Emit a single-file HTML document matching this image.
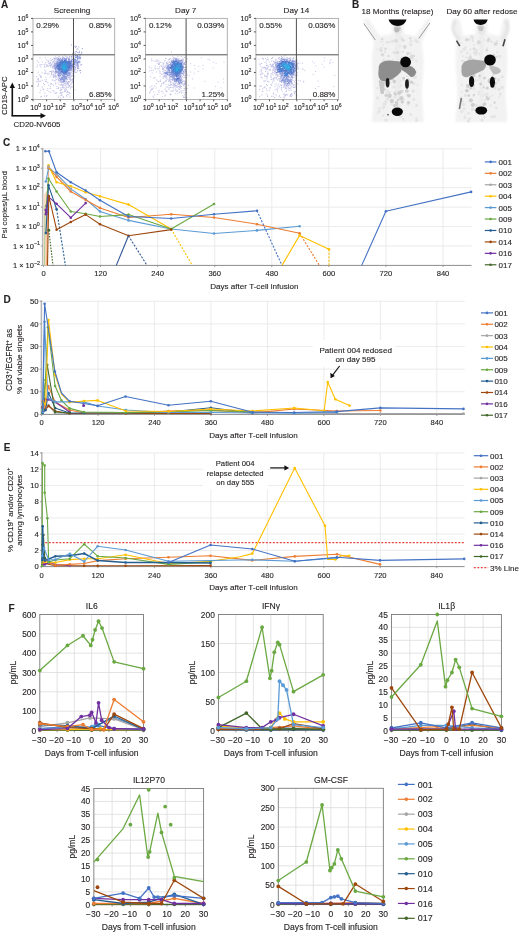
<!DOCTYPE html>
<html><head><meta charset="utf-8"><title>Figure</title>
<style>html,body{margin:0;padding:0;background:#fff;} svg{display:block; will-change:transform;} text{font-family:"Liberation Sans", sans-serif; stroke:#231f20; stroke-width:0.12px; paint-order:stroke;}</style>
</head><body>
<svg width="520" height="932" viewBox="0 0 520 932" font-family='"Liberation Sans", sans-serif'>
<defs>
<filter id="blur05" x="-50%" y="-50%" width="200%" height="200%"><feGaussianBlur stdDeviation="0.5"/></filter>
<filter id="blur1" x="-50%" y="-50%" width="200%" height="200%"><feGaussianBlur stdDeviation="1"/></filter>
<filter id="blur2" x="-20%" y="-20%" width="140%" height="140%"><feGaussianBlur stdDeviation="2"/></filter>
<clipPath id="clipC"><rect x="42" y="140" width="432" height="126"/></clipPath>
<clipPath id="clipD"><rect x="41" y="295" width="426" height="120"/></clipPath>
<clipPath id="clipE"><rect x="41" y="445" width="426" height="122"/></clipPath>
</defs>
<rect width="520" height="932" fill="#fff"/>
<text x="1.00" y="8.30" font-size="10" text-anchor="start" font-weight="bold" fill="#231f20" >A</text>
<text x="352.00" y="8.30" font-size="10" text-anchor="start" font-weight="bold" fill="#231f20" >B</text>
<text x="3.00" y="145.80" font-size="10" text-anchor="start" font-weight="bold" fill="#231f20" >C</text>
<text x="3.50" y="303.00" font-size="10" text-anchor="start" font-weight="bold" fill="#231f20" >D</text>
<text x="3.80" y="450.80" font-size="10" text-anchor="start" font-weight="bold" fill="#231f20" >E</text>
<text x="8.50" y="612.00" font-size="10" text-anchor="start" font-weight="bold" fill="#231f20" >F</text>
<path d="M67.7 69.7h1v1h-1zM59.5 63.9h1v1h-1zM66.2 62.1h1v1h-1zM66.7 65.8h1v1h-1zM63.3 70.8h1v1h-1zM58.6 68.9h1v1h-1zM57.7 65.3h1v1h-1zM68.6 64.9h1v1h-1zM59.7 62.0h1v1h-1zM61.3 68.1h1v1h-1zM63.0 72.7h1v1h-1zM67.2 65.4h1v1h-1zM59.5 64.4h1v1h-1zM67.5 65.4h1v1h-1zM69.7 63.6h1v1h-1zM67.1 61.9h1v1h-1zM67.9 64.6h1v1h-1zM67.4 62.7h1v1h-1zM66.5 63.3h1v1h-1zM58.6 66.6h1v1h-1zM60.0 67.3h1v1h-1zM60.6 63.6h1v1h-1zM64.6 59.8h1v1h-1zM69.2 63.5h1v1h-1zM67.4 67.9h1v1h-1zM66.2 61.2h1v1h-1zM68.2 63.6h1v1h-1zM58.8 66.9h1v1h-1zM57.4 66.6h1v1h-1zM58.9 64.3h1v1h-1zM62.0 60.7h1v1h-1zM69.8 62.5h1v1h-1zM67.1 61.3h1v1h-1zM67.7 68.5h1v1h-1zM64.0 61.3h1v1h-1zM62.4 71.8h1v1h-1zM58.5 68.4h1v1h-1zM63.7 72.2h1v1h-1zM67.7 64.0h1v1h-1zM68.3 64.8h1v1h-1zM62.5 61.7h1v1h-1zM58.4 64.1h1v1h-1zM66.9 63.5h1v1h-1zM67.5 61.1h1v1h-1zM63.5 61.6h1v1h-1zM63.1 71.6h1v1h-1zM56.9 65.6h1v1h-1zM59.8 69.1h1v1h-1zM67.2 66.0h1v1h-1zM58.7 64.3h1v1h-1zM60.3 66.9h1v1h-1zM59.6 65.5h1v1h-1zM68.3 62.1h1v1h-1zM66.7 66.5h1v1h-1zM57.3 64.7h1v1h-1zM59.8 67.5h1v1h-1zM69.6 61.9h1v1h-1zM58.8 64.0h1v1h-1zM57.8 64.0h1v1h-1zM56.9 64.9h1v1h-1zM57.7 67.8h1v1h-1zM64.1 61.3h1v1h-1zM57.9 67.9h1v1h-1zM68.1 66.3h1v1h-1zM61.5 61.3h1v1h-1zM66.9 63.2h1v1h-1zM69.9 63.3h1v1h-1zM63.0 61.2h1v1h-1zM58.9 66.9h1v1h-1zM67.5 65.0h1v1h-1zM63.9 61.6h1v1h-1zM69.5 65.9h1v1h-1zM63.6 62.0h1v1h-1zM69.3 64.6h1v1h-1zM69.3 62.7h1v1h-1zM69.8 63.9h1v1h-1zM60.6 70.4h1v1h-1zM59.2 68.0h1v1h-1zM67.6 63.7h1v1h-1zM69.6 65.3h1v1h-1zM67.9 62.9h1v1h-1zM64.5 61.9h1v1h-1zM58.5 67.5h1v1h-1zM65.7 70.3h1v1h-1zM67.1 69.2h1v1h-1zM57.4 63.7h1v1h-1zM67.9 61.0h1v1h-1zM68.4 66.0h1v1h-1zM67.6 69.5h1v1h-1zM64.8 70.8h1v1h-1zM68.1 64.9h1v1h-1zM60.8 61.2h1v1h-1zM60.0 68.9h1v1h-1zM63.5 70.5h1v1h-1zM66.8 62.2h1v1h-1zM69.2 61.5h1v1h-1zM60.1 62.7h1v1h-1zM68.0 62.4h1v1h-1zM59.1 66.0h1v1h-1zM59.1 69.5h1v1h-1zM62.3 71.3h1v1h-1zM65.2 60.1h1v1h-1zM59.6 67.1h1v1h-1zM66.1 71.6h1v1h-1zM61.0 63.1h1v1h-1zM67.3 63.6h1v1h-1zM62.1 60.1h1v1h-1zM68.2 61.9h1v1h-1zM66.3 62.8h1v1h-1zM61.9 70.6h1v1h-1zM64.2 71.5h1v1h-1zM65.7 72.4h1v1h-1zM62.9 71.3h1v1h-1zM68.3 65.7h1v1h-1zM68.1 67.4h1v1h-1zM59.3 66.9h1v1h-1zM58.7 62.4h1v1h-1zM65.3 60.8h1v1h-1zM61.2 69.9h1v1h-1zM65.9 62.1h1v1h-1zM66.3 61.7h1v1h-1zM64.5 61.0h1v1h-1zM68.7 61.2h1v1h-1zM59.9 62.9h1v1h-1zM65.8 71.9h1v1h-1zM65.9 61.7h1v1h-1zM66.6 69.2h1v1h-1zM58.4 65.1h1v1h-1zM60.3 66.3h1v1h-1zM66.5 70.1h1v1h-1zM58.8 65.7h1v1h-1zM58.3 65.6h1v1h-1zM66.0 61.0h1v1h-1zM60.0 64.0h1v1h-1zM61.3 71.2h1v1h-1zM57.8 67.3h1v1h-1zM59.1 68.5h1v1h-1zM63.5 62.1h1v1h-1zM64.1 72.9h1v1h-1zM59.4 62.8h1v1h-1zM67.2 67.6h1v1h-1zM67.5 62.8h1v1h-1zM60.6 61.6h1v1h-1zM66.8 70.7h1v1h-1zM59.5 63.1h1v1h-1zM61.0 68.3h1v1h-1zM60.7 63.4h1v1h-1zM66.8 65.5h1v1h-1zM63.2 62.1h1v1h-1zM66.7 63.5h1v1h-1zM57.3 64.4h1v1h-1zM66.0 61.6h1v1h-1zM59.8 65.0h1v1h-1zM60.1 65.3h1v1h-1zM65.3 61.2h1v1h-1zM67.2 71.3h1v1h-1zM59.6 61.7h1v1h-1zM59.4 64.8h1v1h-1zM67.7 67.0h1v1h-1zM56.5 66.5h1v1h-1zM67.7 63.0h1v1h-1zM62.7 60.8h1v1h-1zM58.5 66.5h1v1h-1zM63.8 72.5h1v1h-1zM70.0 65.4h1v1h-1zM67.6 68.2h1v1h-1zM59.2 69.8h1v1h-1zM66.0 69.9h1v1h-1zM61.3 68.7h1v1h-1zM66.1 69.5h1v1h-1zM61.5 62.2h1v1h-1zM60.0 66.2h1v1h-1zM61.5 70.5h1v1h-1zM61.8 69.3h1v1h-1zM64.6 59.8h1v1h-1zM59.5 63.9h1v1h-1zM61.6 68.1h1v1h-1zM58.2 66.7h1v1h-1zM61.9 60.8h1v1h-1zM60.1 71.6h1v1h-1zM58.9 66.2h1v1h-1zM67.2 69.1h1v1h-1zM62.0 71.5h1v1h-1zM67.4 63.0h1v1h-1zM69.5 66.4h1v1h-1zM69.6 61.8h1v1h-1zM67.6 66.7h1v1h-1zM60.3 62.6h1v1h-1zM60.5 67.8h1v1h-1zM61.4 63.4h1v1h-1zM58.4 64.4h1v1h-1zM66.5 70.2h1v1h-1zM57.7 63.3h1v1h-1zM66.5 69.3h1v1h-1zM58.5 67.5h1v1h-1zM62.9 61.0h1v1h-1zM58.2 68.1h1v1h-1zM63.2 61.9h1v1h-1zM67.6 61.4h1v1h-1zM65.1 71.9h1v1h-1zM63.0 60.8h1v1h-1zM62.8 61.7h1v1h-1zM61.3 63.0h1v1h-1zM66.2 61.8h1v1h-1zM59.9 64.8h1v1h-1zM63.0 61.5h1v1h-1zM69.2 61.2h1v1h-1zM69.2 61.3h1v1h-1zM63.3 70.8h1v1h-1zM57.4 67.3h1v1h-1zM62.2 60.9h1v1h-1zM65.9 70.8h1v1h-1zM68.4 63.3h1v1h-1zM61.1 70.3h1v1h-1zM62.2 60.6h1v1h-1zM67.8 66.2h1v1h-1zM60.1 63.2h1v1h-1zM60.5 71.3h1v1h-1zM59.5 65.6h1v1h-1zM58.9 65.1h1v1h-1zM66.2 70.8h1v1h-1zM65.6 61.5h1v1h-1zM59.6 63.5h1v1h-1zM57.5 67.1h1v1h-1zM58.3 66.7h1v1h-1zM61.6 60.7h1v1h-1zM61.4 61.4h1v1h-1zM68.3 61.4h1v1h-1zM60.4 64.2h1v1h-1zM65.7 71.5h1v1h-1zM66.0 61.1h1v1h-1zM69.5 63.5h1v1h-1zM61.2 63.2h1v1h-1zM62.5 60.5h1v1h-1zM63.7 61.0h1v1h-1zM66.4 71.2h1v1h-1zM64.3 60.1h1v1h-1zM62.1 61.0h1v1h-1zM67.9 61.1h1v1h-1zM66.4 61.3h1v1h-1zM57.9 65.9h1v1h-1zM59.1 67.9h1v1h-1zM62.1 61.9h1v1h-1zM60.2 64.8h1v1h-1zM69.3 67.1h1v1h-1zM69.1 64.5h1v1h-1zM69.2 62.2h1v1h-1zM66.4 69.8h1v1h-1zM62.9 62.0h1v1h-1zM65.7 70.2h1v1h-1zM66.4 60.8h1v1h-1zM61.8 70.1h1v1h-1zM57.6 65.0h1v1h-1zM57.2 65.7h1v1h-1zM64.4 61.7h1v1h-1zM65.4 60.4h1v1h-1zM60.2 65.1h1v1h-1zM66.0 71.6h1v1h-1zM69.6 66.9h1v1h-1zM65.8 70.7h1v1h-1zM67.0 62.1h1v1h-1zM66.0 72.4h1v1h-1zM67.2 70.4h1v1h-1zM64.6 72.2h1v1h-1zM67.8 64.6h1v1h-1zM70.8 65.2h1v1h-1zM67.3 69.1h1v1h-1zM60.4 70.1h1v1h-1zM66.0 60.6h1v1h-1zM68.5 62.7h1v1h-1zM65.2 72.5h1v1h-1zM61.9 61.2h1v1h-1zM63.1 61.5h1v1h-1zM64.2 72.8h1v1h-1zM58.5 68.1h1v1h-1zM58.2 68.1h1v1h-1zM63.5 71.3h1v1h-1zM59.5 62.2h1v1h-1zM63.4 61.5h1v1h-1zM64.6 72.3h1v1h-1zM61.0 69.2h1v1h-1zM67.5 64.6h1v1h-1zM62.6 72.2h1v1h-1zM58.5 65.3h1v1h-1zM69.0 62.3h1v1h-1zM59.0 68.9h1v1h-1zM57.1 66.1h1v1h-1zM61.3 68.8h1v1h-1zM66.6 71.1h1v1h-1zM59.0 69.2h1v1h-1zM61.5 68.9h1v1h-1zM65.2 71.3h1v1h-1zM58.5 63.7h1v1h-1zM68.8 63.1h1v1h-1zM68.3 65.6h1v1h-1zM60.8 63.3h1v1h-1zM65.8 69.9h1v1h-1zM68.2 63.2h1v1h-1zM63.3 72.2h1v1h-1zM64.7 72.8h1v1h-1zM66.1 62.0h1v1h-1zM69.3 63.5h1v1h-1zM62.9 71.3h1v1h-1zM61.6 62.6h1v1h-1zM68.5 68.0h1v1h-1zM60.3 61.6h1v1h-1zM59.2 63.6h1v1h-1zM63.1 70.5h1v1h-1zM66.7 63.8h1v1h-1zM60.2 67.4h1v1h-1zM60.8 61.7h1v1h-1zM64.0 60.1h1v1h-1zM61.5 70.5h1v1h-1zM68.1 66.5h1v1h-1zM69.5 67.1h1v1h-1zM67.0 70.8h1v1h-1zM70.3 64.9h1v1h-1zM60.9 62.0h1v1h-1zM60.9 63.6h1v1h-1zM64.6 71.7h1v1h-1zM66.4 71.2h1v1h-1zM59.9 62.7h1v1h-1zM61.1 71.1h1v1h-1zM67.0 66.9h1v1h-1zM58.1 68.9h1v1h-1zM69.1 64.8h1v1h-1zM61.2 67.4h1v1h-1zM67.9 67.3h1v1h-1zM65.7 61.3h1v1h-1zM57.3 63.6h1v1h-1zM69.5 65.1h1v1h-1zM67.6 63.2h1v1h-1zM60.2 69.0h1v1h-1zM64.6 61.7h1v1h-1zM64.9 61.5h1v1h-1zM60.5 61.1h1v1h-1zM65.2 71.2h1v1h-1zM62.0 70.7h1v1h-1zM59.5 64.5h1v1h-1zM60.6 60.7h1v1h-1zM57.7 64.1h1v1h-1zM67.0 63.8h1v1h-1zM68.8 66.4h1v1h-1zM61.0 62.8h1v1h-1zM67.6 65.2h1v1h-1zM61.4 68.9h1v1h-1zM64.1 70.9h1v1h-1zM58.7 64.7h1v1h-1zM60.9 70.2h1v1h-1zM59.8 67.2h1v1h-1zM60.6 68.1h1v1h-1zM57.7 67.7h1v1h-1zM58.7 64.1h1v1h-1zM63.1 71.4h1v1h-1zM59.8 64.3h1v1h-1zM62.2 60.9h1v1h-1zM60.1 71.4h1v1h-1zM63.3 61.9h1v1h-1zM65.0 71.9h1v1h-1zM69.1 66.3h1v1h-1zM60.9 69.7h1v1h-1zM67.9 66.6h1v1h-1zM61.6 69.1h1v1h-1zM65.5 70.9h1v1h-1zM59.5 68.4h1v1h-1zM64.3 60.4h1v1h-1zM68.3 64.6h1v1h-1zM56.7 66.2h1v1h-1zM60.8 67.8h1v1h-1zM67.8 62.5h1v1h-1z" fill="#3a66c4" fill-opacity="0.85"/>
<path d="M62.5 64.7h1v1h-1zM62.4 67.9h1v1h-1zM61.4 64.1h1v1h-1zM66.7 67.2h1v1h-1zM62.5 64.9h1v1h-1zM61.1 65.4h1v1h-1zM65.3 67.5h1v1h-1zM62.1 66.0h1v1h-1zM62.0 67.7h1v1h-1zM66.0 68.1h1v1h-1zM66.4 64.8h1v1h-1zM62.4 68.2h1v1h-1zM62.8 64.5h1v1h-1zM65.6 66.5h1v1h-1zM61.5 64.1h1v1h-1zM66.1 64.2h1v1h-1zM65.9 66.4h1v1h-1zM65.9 67.4h1v1h-1zM62.1 66.0h1v1h-1zM61.6 63.7h1v1h-1zM61.6 67.8h1v1h-1zM65.8 65.4h1v1h-1zM63.3 69.8h1v1h-1zM65.9 66.3h1v1h-1zM66.2 67.1h1v1h-1zM64.8 70.4h1v1h-1zM62.2 69.2h1v1h-1zM65.2 62.0h1v1h-1zM66.3 64.4h1v1h-1zM64.3 69.5h1v1h-1zM64.2 63.1h1v1h-1zM63.1 68.7h1v1h-1zM65.2 62.3h1v1h-1zM62.6 69.8h1v1h-1zM64.7 69.0h1v1h-1zM65.0 63.0h1v1h-1zM62.5 68.8h1v1h-1zM66.2 64.1h1v1h-1zM63.9 62.3h1v1h-1zM63.4 69.8h1v1h-1zM66.6 65.4h1v1h-1zM62.1 64.9h1v1h-1zM65.3 61.9h1v1h-1zM61.8 67.1h1v1h-1zM66.0 65.1h1v1h-1zM63.9 62.0h1v1h-1zM63.0 65.2h1v1h-1zM65.0 62.5h1v1h-1zM62.6 63.5h1v1h-1zM61.9 64.2h1v1h-1zM65.3 63.7h1v1h-1zM65.9 64.3h1v1h-1zM62.6 68.1h1v1h-1zM65.3 70.4h1v1h-1zM64.0 62.7h1v1h-1zM63.7 69.2h1v1h-1zM65.9 66.2h1v1h-1zM62.2 68.0h1v1h-1zM62.3 69.0h1v1h-1zM66.0 63.6h1v1h-1zM62.9 62.8h1v1h-1zM63.4 62.3h1v1h-1zM64.7 62.0h1v1h-1zM61.2 65.6h1v1h-1zM61.0 65.1h1v1h-1zM61.8 65.4h1v1h-1zM61.5 66.1h1v1h-1zM65.1 63.9h1v1h-1zM65.5 70.4h1v1h-1zM66.4 67.2h1v1h-1zM66.1 68.3h1v1h-1zM62.5 68.9h1v1h-1zM64.8 69.8h1v1h-1zM66.0 62.4h1v1h-1zM65.8 69.1h1v1h-1zM64.1 64.5h1v1h-1zM65.8 66.7h1v1h-1zM66.3 68.4h1v1h-1zM63.9 62.8h1v1h-1zM61.7 64.0h1v1h-1zM61.9 62.8h1v1h-1zM64.1 69.8h1v1h-1zM65.4 64.6h1v1h-1zM65.7 63.3h1v1h-1zM61.8 67.0h1v1h-1zM63.2 64.7h1v1h-1zM61.2 66.3h1v1h-1zM64.1 69.6h1v1h-1zM62.2 64.0h1v1h-1zM64.6 64.1h1v1h-1zM66.1 62.4h1v1h-1zM65.6 69.8h1v1h-1zM61.0 63.9h1v1h-1zM66.0 65.1h1v1h-1zM63.5 65.2h1v1h-1zM61.8 66.6h1v1h-1zM62.3 68.5h1v1h-1zM65.3 68.8h1v1h-1zM62.5 68.2h1v1h-1zM61.4 65.1h1v1h-1zM64.0 63.9h1v1h-1zM66.5 65.2h1v1h-1zM61.0 64.0h1v1h-1zM63.1 65.0h1v1h-1zM66.0 66.2h1v1h-1zM64.0 63.0h1v1h-1zM63.9 63.0h1v1h-1zM65.6 63.7h1v1h-1zM61.3 65.2h1v1h-1zM61.4 63.8h1v1h-1zM64.4 64.7h1v1h-1zM61.8 65.6h1v1h-1zM61.2 65.9h1v1h-1zM64.4 70.4h1v1h-1zM65.1 64.1h1v1h-1zM65.0 65.3h1v1h-1zM66.1 65.8h1v1h-1zM61.6 66.1h1v1h-1zM64.0 64.8h1v1h-1zM61.7 62.7h1v1h-1zM65.4 70.0h1v1h-1zM62.4 64.2h1v1h-1zM63.6 65.0h1v1h-1zM65.2 62.7h1v1h-1zM61.4 65.4h1v1h-1zM65.5 65.9h1v1h-1zM64.5 70.3h1v1h-1zM61.3 63.9h1v1h-1zM61.8 64.3h1v1h-1zM63.7 62.2h1v1h-1zM61.7 64.6h1v1h-1zM65.3 68.8h1v1h-1zM66.2 67.0h1v1h-1zM63.8 62.4h1v1h-1zM64.0 70.5h1v1h-1zM63.9 69.2h1v1h-1zM65.7 67.0h1v1h-1zM65.4 69.2h1v1h-1zM66.0 65.6h1v1h-1zM63.3 63.7h1v1h-1zM65.4 64.6h1v1h-1zM62.6 64.3h1v1h-1zM62.5 68.7h1v1h-1zM61.8 65.6h1v1h-1zM64.0 63.6h1v1h-1zM64.8 63.0h1v1h-1zM65.6 64.7h1v1h-1zM65.5 68.8h1v1h-1zM65.8 68.3h1v1h-1zM65.9 66.3h1v1h-1zM65.0 69.1h1v1h-1zM65.4 62.2h1v1h-1zM62.8 69.7h1v1h-1zM64.2 64.5h1v1h-1zM64.8 62.5h1v1h-1zM63.8 63.9h1v1h-1zM66.1 68.6h1v1h-1zM62.0 62.5h1v1h-1zM62.5 68.5h1v1h-1zM66.0 64.5h1v1h-1zM64.4 70.5h1v1h-1zM64.2 62.2h1v1h-1zM62.3 68.9h1v1h-1zM66.0 63.4h1v1h-1zM65.3 63.0h1v1h-1zM61.6 64.5h1v1h-1zM64.1 61.8h1v1h-1zM61.6 68.3h1v1h-1zM65.9 62.6h1v1h-1zM64.7 70.4h1v1h-1zM61.5 65.7h1v1h-1zM65.4 62.4h1v1h-1zM63.3 64.0h1v1h-1zM62.6 62.6h1v1h-1zM66.2 66.1h1v1h-1zM60.8 64.9h1v1h-1zM61.9 63.8h1v1h-1zM63.4 64.5h1v1h-1zM61.9 62.0h1v1h-1zM64.8 69.1h1v1h-1zM65.4 69.9h1v1h-1zM65.3 64.5h1v1h-1zM64.1 62.6h1v1h-1zM66.3 65.9h1v1h-1zM61.8 63.6h1v1h-1zM66.3 67.0h1v1h-1z" fill="#3585d4" fill-opacity="0.9"/>
<path d="M56.0 57.5h1v1h-1zM45.6 76.7h1v1h-1zM66.6 84.2h1v1h-1zM54.1 72.2h1v1h-1zM54.5 68.3h1v1h-1zM46.7 64.9h1v1h-1zM61.5 94.8h1v1h-1zM48.1 84.8h1v1h-1zM53.5 63.6h1v1h-1zM70.4 79.8h1v1h-1zM72.1 75.2h1v1h-1zM39.1 74.5h1v1h-1zM46.7 73.1h1v1h-1zM72.4 57.8h1v1h-1zM53.4 60.6h1v1h-1zM72.8 80.8h1v1h-1zM64.0 82.5h1v1h-1zM72.5 74.5h1v1h-1zM56.8 58.5h1v1h-1zM58.2 77.1h1v1h-1zM69.6 81.0h1v1h-1zM66.2 87.1h1v1h-1zM70.4 74.5h1v1h-1zM47.6 60.3h1v1h-1zM66.5 82.8h1v1h-1zM49.1 63.2h1v1h-1zM52.0 66.5h1v1h-1zM72.7 57.4h1v1h-1zM69.6 76.9h1v1h-1zM66.4 96.3h1v1h-1zM69.9 72.4h1v1h-1zM71.5 82.7h1v1h-1zM53.9 61.7h1v1h-1zM60.4 81.0h1v1h-1zM49.2 65.0h1v1h-1zM57.7 75.6h1v1h-1zM68.8 57.2h1v1h-1zM58.6 55.9h1v1h-1zM50.5 64.9h1v1h-1zM62.5 84.3h1v1h-1zM69.9 75.4h1v1h-1zM55.5 75.0h1v1h-1zM65.3 90.6h1v1h-1zM54.6 68.3h1v1h-1zM71.3 75.9h1v1h-1zM71.3 86.7h1v1h-1zM50.6 74.4h1v1h-1zM55.4 71.7h1v1h-1zM62.1 91.8h1v1h-1zM67.3 82.1h1v1h-1zM72.3 78.7h1v1h-1zM70.8 79.3h1v1h-1zM73.8 67.7h1v1h-1zM62.6 84.3h1v1h-1zM55.1 61.1h1v1h-1zM55.6 70.6h1v1h-1zM44.3 67.1h1v1h-1zM68.8 92.2h1v1h-1zM54.3 80.3h1v1h-1zM60.9 92.7h1v1h-1zM44.8 57.2h1v1h-1zM64.6 82.1h1v1h-1zM41.7 72.2h1v1h-1zM70.1 86.4h1v1h-1zM72.0 69.5h1v1h-1zM40.8 96.0h1v1h-1zM49.6 76.5h1v1h-1zM60.5 95.1h1v1h-1zM72.8 71.9h1v1h-1zM43.1 89.3h1v1h-1zM73.3 63.7h1v1h-1zM46.2 59.3h1v1h-1zM54.8 57.9h1v1h-1zM62.8 84.5h1v1h-1zM40.0 75.6h1v1h-1zM50.4 91.9h1v1h-1zM59.1 77.2h1v1h-1zM40.1 80.7h1v1h-1zM55.6 71.7h1v1h-1zM52.4 90.0h1v1h-1zM54.5 72.0h1v1h-1zM40.2 76.3h1v1h-1zM59.9 90.2h1v1h-1zM66.8 57.5h1v1h-1zM62.3 56.0h1v1h-1zM51.1 64.2h1v1h-1zM56.0 61.3h1v1h-1zM63.0 57.6h1v1h-1zM71.1 75.5h1v1h-1zM68.4 94.4h1v1h-1zM73.7 63.2h1v1h-1zM46.6 89.8h1v1h-1zM53.5 64.7h1v1h-1zM42.5 88.5h1v1h-1zM63.1 97.1h1v1h-1zM52.7 74.7h1v1h-1zM46.0 65.8h1v1h-1zM45.4 62.0h1v1h-1zM57.8 58.3h1v1h-1zM37.7 78.0h1v1h-1zM69.6 76.5h1v1h-1zM41.5 64.1h1v1h-1zM50.5 66.4h1v1h-1zM65.9 81.2h1v1h-1zM73.0 67.4h1v1h-1zM49.3 70.9h1v1h-1zM44.4 92.5h1v1h-1zM70.8 71.9h1v1h-1zM58.1 80.1h1v1h-1zM72.4 73.0h1v1h-1zM49.3 61.7h1v1h-1zM56.3 57.5h1v1h-1zM70.7 57.9h1v1h-1zM40.1 64.4h1v1h-1zM60.6 84.8h1v1h-1zM36.2 76.3h1v1h-1zM52.8 76.1h1v1h-1zM55.7 71.6h1v1h-1zM37.0 64.4h1v1h-1zM49.1 64.8h1v1h-1zM51.0 72.4h1v1h-1zM52.6 79.7h1v1h-1zM51.6 71.7h1v1h-1zM43.1 83.1h1v1h-1zM60.6 81.0h1v1h-1zM37.5 78.5h1v1h-1zM44.1 84.3h1v1h-1zM49.7 58.2h1v1h-1zM51.0 71.2h1v1h-1zM62.3 82.1h1v1h-1zM51.5 70.5h1v1h-1zM58.0 88.0h1v1h-1zM71.7 80.4h1v1h-1zM59.0 77.6h1v1h-1zM55.7 76.0h1v1h-1zM37.3 85.7h1v1h-1zM53.0 76.9h1v1h-1zM65.4 83.1h1v1h-1zM48.3 63.1h1v1h-1zM61.3 88.8h1v1h-1zM52.3 58.9h1v1h-1zM62.2 56.2h1v1h-1zM53.5 57.9h1v1h-1zM59.6 81.5h1v1h-1zM65.8 85.9h1v1h-1zM38.1 79.5h1v1h-1zM73.9 75.6h1v1h-1zM39.4 92.1h1v1h-1zM45.8 96.0h1v1h-1zM54.8 58.3h1v1h-1zM68.9 85.7h1v1h-1zM51.2 73.7h1v1h-1zM66.3 79.4h1v1h-1zM61.5 84.1h1v1h-1zM68.1 80.9h1v1h-1zM57.9 78.4h1v1h-1zM66.4 86.9h1v1h-1zM45.0 81.1h1v1h-1zM69.8 72.5h1v1h-1zM64.9 85.0h1v1h-1zM70.2 77.6h1v1h-1zM50.4 60.2h1v1h-1zM55.4 72.8h1v1h-1zM77.5 67.5h1v1h-1zM55.2 83.4h1v1h-1zM71.1 58.5h1v1h-1zM45.9 79.3h1v1h-1zM70.3 73.0h1v1h-1zM68.3 57.8h1v1h-1zM38.2 61.8h1v1h-1zM70.2 71.9h1v1h-1zM69.5 92.9h1v1h-1zM68.5 82.0h1v1h-1zM53.3 76.2h1v1h-1zM67.9 76.4h1v1h-1zM40.4 96.6h1v1h-1zM61.2 94.5h1v1h-1zM44.4 79.6h1v1h-1zM60.2 87.4h1v1h-1zM55.0 56.4h1v1h-1zM54.4 92.2h1v1h-1zM72.2 81.1h1v1h-1zM55.1 77.2h1v1h-1zM44.6 63.4h1v1h-1zM49.8 65.5h1v1h-1zM41.7 79.7h1v1h-1zM68.3 87.0h1v1h-1zM51.0 73.3h1v1h-1zM67.0 93.9h1v1h-1zM66.0 94.9h1v1h-1zM63.5 84.5h1v1h-1zM45.2 72.8h1v1h-1zM54.3 58.9h1v1h-1zM59.2 77.9h1v1h-1zM54.3 67.8h1v1h-1zM47.4 88.0h1v1h-1zM72.3 68.3h1v1h-1zM57.5 74.5h1v1h-1zM63.2 82.5h1v1h-1zM47.8 61.3h1v1h-1zM54.8 74.2h1v1h-1zM70.4 74.9h1v1h-1zM69.8 56.6h1v1h-1zM52.2 62.3h1v1h-1zM47.3 82.0h1v1h-1zM62.1 85.8h1v1h-1zM50.2 71.1h1v1h-1zM58.5 95.8h1v1h-1zM72.0 61.3h1v1h-1zM54.5 58.4h1v1h-1zM67.1 78.9h1v1h-1zM67.5 81.3h1v1h-1zM44.0 95.5h1v1h-1zM40.7 77.2h1v1h-1zM58.4 77.0h1v1h-1zM68.5 81.5h1v1h-1zM61.7 81.6h1v1h-1zM60.8 83.7h1v1h-1zM71.4 70.9h1v1h-1zM62.7 86.6h1v1h-1zM70.6 78.8h1v1h-1zM63.9 84.6h1v1h-1zM53.8 76.3h1v1h-1zM69.7 74.7h1v1h-1zM60.9 82.0h1v1h-1zM42.5 88.5h1v1h-1zM51.5 58.8h1v1h-1zM66.6 82.3h1v1h-1zM39.5 57.5h1v1h-1zM68.7 57.8h1v1h-1zM51.9 67.6h1v1h-1zM69.4 96.4h1v1h-1zM59.9 89.6h1v1h-1zM53.5 60.3h1v1h-1zM52.9 70.5h1v1h-1zM57.4 57.0h1v1h-1zM69.0 85.0h1v1h-1zM60.0 92.2h1v1h-1zM71.6 86.2h1v1h-1zM66.4 84.0h1v1h-1zM60.6 80.8h1v1h-1zM43.8 64.2h1v1h-1zM37.3 79.2h1v1h-1zM66.4 56.6h1v1h-1zM54.9 72.9h1v1h-1zM53.5 74.4h1v1h-1zM49.8 88.1h1v1h-1zM69.8 73.6h1v1h-1zM67.2 56.8h1v1h-1zM44.2 69.4h1v1h-1zM57.8 97.0h1v1h-1zM59.7 79.8h1v1h-1zM50.8 63.8h1v1h-1zM54.6 75.4h1v1h-1zM61.7 87.0h1v1h-1zM53.5 67.4h1v1h-1zM56.1 91.9h1v1h-1zM50.1 62.0h1v1h-1zM55.3 82.3h1v1h-1zM69.8 79.8h1v1h-1zM47.5 74.0h1v1h-1zM60.3 97.3h1v1h-1zM48.0 60.9h1v1h-1zM41.8 86.5h1v1h-1zM72.9 62.6h1v1h-1zM69.1 77.8h1v1h-1zM40.6 76.1h1v1h-1zM68.4 85.0h1v1h-1zM73.1 63.0h1v1h-1zM52.9 71.0h1v1h-1zM72.8 74.2h1v1h-1zM36.2 81.1h1v1h-1zM45.8 81.3h1v1h-1zM37.9 84.7h1v1h-1zM60.3 81.1h1v1h-1zM58.5 79.9h1v1h-1zM56.4 77.6h1v1h-1zM37.7 71.7h1v1h-1zM63.1 57.1h1v1h-1zM57.8 58.5h1v1h-1zM52.9 73.8h1v1h-1zM60.6 81.7h1v1h-1zM47.7 66.0h1v1h-1zM59.5 80.4h1v1h-1zM67.5 92.2h1v1h-1zM67.0 91.5h1v1h-1zM54.7 71.6h1v1h-1zM67.2 90.7h1v1h-1zM52.7 71.0h1v1h-1zM61.8 57.5h1v1h-1zM45.2 70.7h1v1h-1zM38.8 80.7h1v1h-1zM58.0 75.9h1v1h-1zM70.0 88.2h1v1h-1zM63.9 91.0h1v1h-1zM72.0 79.3h1v1h-1zM48.5 90.9h1v1h-1zM70.2 84.5h1v1h-1zM77.4 58.3h1v1h-1zM54.6 76.1h1v1h-1zM65.7 91.6h1v1h-1zM54.0 58.4h1v1h-1zM68.0 82.6h1v1h-1zM68.9 57.7h1v1h-1zM40.5 76.5h1v1h-1zM55.4 92.9h1v1h-1zM56.2 79.0h1v1h-1zM62.0 57.6h1v1h-1zM37.6 81.6h1v1h-1zM55.1 79.5h1v1h-1zM62.0 86.9h1v1h-1zM68.9 56.1h1v1h-1zM64.8 90.5h1v1h-1zM40.5 96.2h1v1h-1zM64.2 89.2h1v1h-1zM58.8 58.3h1v1h-1zM69.2 76.0h1v1h-1zM54.1 62.7h1v1h-1zM53.5 57.6h1v1h-1zM65.6 80.9h1v1h-1zM50.0 65.1h1v1h-1zM59.6 93.1h1v1h-1zM52.3 64.8h1v1h-1zM67.0 83.1h1v1h-1zM55.8 71.5h1v1h-1zM70.5 83.6h1v1h-1zM50.0 83.4h1v1h-1zM54.2 71.9h1v1h-1zM67.9 77.2h1v1h-1zM73.1 62.2h1v1h-1zM62.9 87.4h1v1h-1zM61.0 89.4h1v1h-1zM56.4 88.1h1v1h-1zM56.1 61.2h1v1h-1zM66.0 81.1h1v1h-1zM73.1 63.6h1v1h-1zM46.3 64.3h1v1h-1zM53.4 90.7h1v1h-1zM54.6 58.0h1v1h-1zM57.6 75.0h1v1h-1zM46.2 65.9h1v1h-1zM57.8 82.4h1v1h-1zM60.5 84.7h1v1h-1zM56.4 86.0h1v1h-1zM62.0 81.7h1v1h-1zM56.5 77.5h1v1h-1zM52.8 71.3h1v1h-1zM67.9 84.3h1v1h-1zM55.3 75.7h1v1h-1zM64.7 90.0h1v1h-1zM71.5 81.7h1v1h-1zM48.7 63.1h1v1h-1zM66.3 88.7h1v1h-1zM69.2 77.3h1v1h-1zM74.4 89.3h1v1h-1zM65.4 81.0h1v1h-1zM71.5 85.9h1v1h-1zM66.9 77.6h1v1h-1zM51.7 79.6h1v1h-1zM73.8 66.0h1v1h-1zM58.6 84.3h1v1h-1zM67.7 58.3h1v1h-1zM72.9 70.2h1v1h-1zM50.8 60.1h1v1h-1zM51.9 62.4h1v1h-1zM68.8 78.4h1v1h-1zM55.0 58.4h1v1h-1zM68.7 77.0h1v1h-1zM44.8 72.2h1v1h-1zM67.0 57.4h1v1h-1zM58.8 56.2h1v1h-1zM71.4 55.9h1v1h-1zM53.4 61.3h1v1h-1zM73.5 77.3h1v1h-1zM67.7 83.5h1v1h-1zM65.7 56.1h1v1h-1zM52.7 66.0h1v1h-1zM52.6 61.2h1v1h-1zM64.3 89.0h1v1h-1zM68.3 85.7h1v1h-1zM60.0 57.4h1v1h-1zM53.1 85.3h1v1h-1zM61.2 94.7h1v1h-1zM71.3 56.6h1v1h-1zM71.5 69.5h1v1h-1zM62.0 84.9h1v1h-1zM52.2 62.3h1v1h-1zM62.6 96.1h1v1h-1zM36.5 66.6h1v1h-1zM56.0 58.3h1v1h-1zM57.9 79.6h1v1h-1zM72.0 78.3h1v1h-1zM50.8 83.0h1v1h-1zM50.0 85.9h1v1h-1zM38.0 83.5h1v1h-1zM53.2 66.7h1v1h-1zM70.8 71.9h1v1h-1zM58.2 87.0h1v1h-1zM39.2 64.8h1v1h-1zM51.5 84.1h1v1h-1zM44.0 65.7h1v1h-1zM48.4 72.8h1v1h-1zM50.3 63.2h1v1h-1zM41.8 61.5h1v1h-1zM48.0 60.7h1v1h-1zM53.4 68.6h1v1h-1zM61.5 91.7h1v1h-1zM46.4 95.1h1v1h-1zM73.5 71.0h1v1h-1zM72.9 63.0h1v1h-1zM47.4 64.7h1v1h-1zM64.2 54.6h1v1h-1zM72.5 68.9h1v1h-1zM55.3 58.3h1v1h-1zM68.8 91.8h1v1h-1zM64.8 83.2h1v1h-1zM44.0 72.9h1v1h-1zM60.4 83.8h1v1h-1zM66.4 79.4h1v1h-1zM54.2 59.8h1v1h-1zM53.5 74.2h1v1h-1zM36.7 60.6h1v1h-1zM73.4 62.0h1v1h-1zM57.6 57.9h1v1h-1zM65.3 88.2h1v1h-1zM68.9 81.0h1v1h-1zM61.6 57.5h1v1h-1zM49.6 64.8h1v1h-1zM63.0 81.5h1v1h-1zM69.7 79.1h1v1h-1zM72.4 61.2h1v1h-1zM73.4 60.7h1v1h-1zM40.5 66.6h1v1h-1zM66.2 79.1h1v1h-1zM40.1 89.7h1v1h-1zM65.4 56.0h1v1h-1zM72.7 58.1h1v1h-1zM68.7 58.5h1v1h-1zM64.1 87.3h1v1h-1z" fill="#8482d0" fill-opacity="0.5"/>
<path d="M61.0 78.5h1v1h-1zM57.1 68.3h1v1h-1zM68.8 73.1h1v1h-1zM71.1 67.4h1v1h-1zM68.7 59.4h1v1h-1zM58.5 74.9h1v1h-1zM69.6 66.9h1v1h-1zM72.6 65.2h1v1h-1zM64.6 59.7h1v1h-1zM62.9 80.2h1v1h-1zM64.8 76.3h1v1h-1zM70.4 63.7h1v1h-1zM59.4 73.0h1v1h-1zM60.8 73.6h1v1h-1zM59.3 78.3h1v1h-1zM72.4 66.6h1v1h-1zM71.5 62.8h1v1h-1zM62.4 58.8h1v1h-1zM72.1 66.1h1v1h-1zM64.0 79.5h1v1h-1zM70.0 60.9h1v1h-1zM61.7 74.4h1v1h-1zM59.8 79.2h1v1h-1zM68.1 75.1h1v1h-1zM70.6 67.8h1v1h-1zM68.6 68.2h1v1h-1zM55.4 66.7h1v1h-1zM62.7 58.8h1v1h-1zM64.4 77.5h1v1h-1zM58.8 72.3h1v1h-1zM56.6 60.5h1v1h-1zM66.1 58.1h1v1h-1zM66.6 74.6h1v1h-1zM67.1 72.4h1v1h-1zM55.8 72.3h1v1h-1zM60.0 58.2h1v1h-1zM60.6 79.6h1v1h-1zM61.7 75.6h1v1h-1zM70.9 66.1h1v1h-1zM55.6 70.9h1v1h-1zM71.2 61.0h1v1h-1zM70.8 69.4h1v1h-1zM60.3 71.3h1v1h-1zM59.4 75.7h1v1h-1zM66.0 58.2h1v1h-1zM55.1 63.6h1v1h-1zM70.8 62.1h1v1h-1zM58.5 70.9h1v1h-1zM63.1 76.7h1v1h-1zM57.3 71.5h1v1h-1zM56.7 68.9h1v1h-1zM65.4 76.3h1v1h-1zM67.4 72.0h1v1h-1zM71.5 65.0h1v1h-1zM57.1 71.4h1v1h-1zM56.6 64.9h1v1h-1zM60.5 73.0h1v1h-1zM63.2 72.7h1v1h-1zM58.3 69.4h1v1h-1zM66.2 59.1h1v1h-1zM61.1 72.4h1v1h-1zM57.3 63.5h1v1h-1zM62.9 75.0h1v1h-1zM61.4 78.9h1v1h-1zM64.4 76.5h1v1h-1zM65.8 74.2h1v1h-1zM67.0 74.8h1v1h-1zM57.3 68.9h1v1h-1zM56.6 62.1h1v1h-1zM68.7 68.0h1v1h-1zM60.8 76.9h1v1h-1zM61.7 76.9h1v1h-1zM68.7 69.0h1v1h-1zM70.2 62.3h1v1h-1zM60.3 72.2h1v1h-1zM64.6 75.7h1v1h-1zM64.2 76.2h1v1h-1zM56.1 64.6h1v1h-1zM56.3 67.3h1v1h-1zM61.6 79.0h1v1h-1zM60.2 60.5h1v1h-1zM64.2 75.0h1v1h-1zM61.4 77.3h1v1h-1zM63.8 58.3h1v1h-1zM58.9 75.4h1v1h-1zM58.4 59.0h1v1h-1zM65.2 59.0h1v1h-1zM58.2 70.7h1v1h-1zM70.6 66.5h1v1h-1zM72.5 66.5h1v1h-1zM58.7 74.6h1v1h-1zM62.5 78.5h1v1h-1zM68.8 71.5h1v1h-1zM61.1 59.0h1v1h-1zM54.5 66.9h1v1h-1zM71.1 63.7h1v1h-1zM71.9 64.0h1v1h-1zM61.8 77.6h1v1h-1zM56.3 67.6h1v1h-1zM61.6 78.2h1v1h-1zM69.6 67.5h1v1h-1zM60.8 77.5h1v1h-1zM58.3 75.0h1v1h-1zM60.0 74.8h1v1h-1zM69.1 72.6h1v1h-1zM69.3 70.1h1v1h-1zM58.3 58.9h1v1h-1zM60.9 77.0h1v1h-1zM68.5 74.8h1v1h-1zM71.2 64.9h1v1h-1zM63.8 74.9h1v1h-1zM70.2 63.0h1v1h-1zM70.5 60.6h1v1h-1zM57.5 73.6h1v1h-1zM58.8 73.9h1v1h-1zM67.6 73.6h1v1h-1zM56.9 59.2h1v1h-1zM71.5 66.5h1v1h-1zM70.0 70.0h1v1h-1zM67.3 72.0h1v1h-1zM71.1 65.5h1v1h-1zM64.9 58.2h1v1h-1zM58.0 60.4h1v1h-1zM65.0 75.9h1v1h-1zM65.0 73.2h1v1h-1zM59.8 60.1h1v1h-1zM55.1 68.6h1v1h-1zM61.3 59.6h1v1h-1zM68.8 67.5h1v1h-1zM61.5 76.8h1v1h-1zM63.9 57.4h1v1h-1zM56.2 64.7h1v1h-1zM55.2 64.9h1v1h-1zM68.8 59.4h1v1h-1zM57.2 68.6h1v1h-1zM57.9 72.1h1v1h-1zM57.3 61.0h1v1h-1zM68.1 69.7h1v1h-1zM70.6 67.1h1v1h-1zM69.2 61.0h1v1h-1zM72.5 64.9h1v1h-1zM62.5 72.7h1v1h-1zM64.9 78.5h1v1h-1zM70.6 67.5h1v1h-1zM67.2 72.1h1v1h-1zM69.7 68.5h1v1h-1zM68.8 59.9h1v1h-1zM65.5 72.9h1v1h-1zM60.1 74.7h1v1h-1zM65.1 73.9h1v1h-1zM55.6 62.6h1v1h-1zM59.0 73.5h1v1h-1zM57.2 63.5h1v1h-1zM54.5 67.1h1v1h-1zM71.1 63.1h1v1h-1zM58.1 73.2h1v1h-1zM68.3 68.9h1v1h-1zM55.5 70.3h1v1h-1zM58.4 62.3h1v1h-1zM69.9 60.8h1v1h-1zM54.8 68.9h1v1h-1zM57.2 61.3h1v1h-1zM62.1 77.7h1v1h-1zM72.3 63.7h1v1h-1zM60.8 72.4h1v1h-1zM55.0 65.3h1v1h-1zM57.0 68.4h1v1h-1zM71.7 65.4h1v1h-1zM58.5 70.3h1v1h-1zM56.2 63.7h1v1h-1zM70.6 60.2h1v1h-1zM64.4 80.1h1v1h-1zM68.6 75.1h1v1h-1zM54.8 70.8h1v1h-1zM69.9 70.3h1v1h-1zM63.0 79.2h1v1h-1zM60.8 73.3h1v1h-1zM58.7 71.1h1v1h-1zM60.5 60.3h1v1h-1zM70.6 66.0h1v1h-1zM64.0 73.8h1v1h-1zM58.3 71.1h1v1h-1zM72.5 64.8h1v1h-1zM64.0 77.8h1v1h-1zM63.3 74.4h1v1h-1zM70.0 69.6h1v1h-1zM70.4 61.2h1v1h-1zM60.6 78.5h1v1h-1zM61.5 71.7h1v1h-1zM62.0 58.8h1v1h-1zM65.3 72.8h1v1h-1zM62.4 76.9h1v1h-1zM65.0 59.3h1v1h-1zM58.0 58.6h1v1h-1zM64.4 77.8h1v1h-1zM72.7 66.3h1v1h-1zM56.0 66.8h1v1h-1zM63.6 75.8h1v1h-1zM61.2 78.4h1v1h-1zM59.9 75.1h1v1h-1zM66.4 73.4h1v1h-1zM61.0 59.6h1v1h-1zM56.5 62.8h1v1h-1zM57.3 68.6h1v1h-1zM55.4 65.4h1v1h-1zM55.3 67.9h1v1h-1zM71.1 64.4h1v1h-1zM71.2 60.8h1v1h-1zM58.5 69.7h1v1h-1zM63.9 57.6h1v1h-1zM64.2 80.4h1v1h-1zM68.0 59.9h1v1h-1zM68.0 59.1h1v1h-1zM67.3 71.9h1v1h-1zM59.6 59.0h1v1h-1zM65.8 73.5h1v1h-1zM55.7 62.5h1v1h-1zM58.5 70.3h1v1h-1zM54.9 70.6h1v1h-1zM63.5 77.9h1v1h-1zM68.6 69.2h1v1h-1zM58.2 60.4h1v1h-1zM61.9 57.9h1v1h-1zM55.9 65.5h1v1h-1zM54.2 65.6h1v1h-1zM61.3 59.6h1v1h-1zM58.3 72.8h1v1h-1zM63.9 80.1h1v1h-1zM59.2 73.4h1v1h-1zM61.3 79.4h1v1h-1zM68.2 58.7h1v1h-1zM60.3 60.6h1v1h-1zM59.5 60.9h1v1h-1zM57.3 62.1h1v1h-1zM55.3 65.7h1v1h-1zM58.4 59.6h1v1h-1zM65.6 60.0h1v1h-1zM62.8 74.5h1v1h-1zM60.3 72.6h1v1h-1zM56.6 68.3h1v1h-1zM61.8 81.3h1v1h-1zM63.5 78.2h1v1h-1zM68.7 60.9h1v1h-1zM61.3 60.0h1v1h-1zM71.3 68.4h1v1h-1zM70.3 68.5h1v1h-1zM69.0 69.9h1v1h-1zM62.9 76.1h1v1h-1zM59.6 72.9h1v1h-1zM54.4 63.9h1v1h-1zM63.5 80.4h1v1h-1zM68.4 73.6h1v1h-1zM65.1 77.8h1v1h-1zM58.9 60.5h1v1h-1zM58.3 72.2h1v1h-1zM54.7 65.6h1v1h-1zM62.5 73.6h1v1h-1zM70.1 62.7h1v1h-1zM63.8 78.3h1v1h-1zM60.4 71.4h1v1h-1zM69.1 73.6h1v1h-1zM58.5 71.2h1v1h-1zM57.7 74.8h1v1h-1zM66.6 75.8h1v1h-1zM62.7 74.8h1v1h-1zM62.8 79.2h1v1h-1zM60.5 71.8h1v1h-1zM53.8 65.2h1v1h-1zM67.9 72.7h1v1h-1zM56.6 60.3h1v1h-1zM70.3 69.7h1v1h-1zM61.7 71.8h1v1h-1zM68.8 73.8h1v1h-1zM68.4 71.3h1v1h-1zM58.7 61.9h1v1h-1zM57.9 69.2h1v1h-1zM63.0 78.9h1v1h-1zM57.1 71.9h1v1h-1zM60.7 73.1h1v1h-1zM56.5 62.7h1v1h-1zM62.7 79.4h1v1h-1zM66.1 73.6h1v1h-1zM65.6 59.7h1v1h-1zM68.3 58.7h1v1h-1zM65.9 73.2h1v1h-1zM63.9 80.6h1v1h-1zM69.5 68.3h1v1h-1zM63.3 75.4h1v1h-1zM68.3 70.1h1v1h-1zM60.6 72.2h1v1h-1zM55.8 64.5h1v1h-1zM55.8 68.3h1v1h-1zM68.6 59.7h1v1h-1zM59.3 72.4h1v1h-1zM67.1 74.8h1v1h-1zM66.7 75.7h1v1h-1zM65.7 78.2h1v1h-1zM55.4 66.6h1v1h-1zM64.8 76.6h1v1h-1zM62.8 76.8h1v1h-1zM59.6 59.6h1v1h-1zM66.1 76.5h1v1h-1zM64.4 74.5h1v1h-1zM71.5 65.6h1v1h-1zM70.9 63.7h1v1h-1zM68.8 73.3h1v1h-1zM57.0 71.3h1v1h-1zM65.5 76.9h1v1h-1zM58.1 72.6h1v1h-1zM69.1 69.0h1v1h-1zM63.8 81.0h1v1h-1zM62.4 75.1h1v1h-1zM66.9 75.5h1v1h-1zM70.7 65.9h1v1h-1zM63.1 75.6h1v1h-1zM59.1 70.3h1v1h-1zM57.9 62.0h1v1h-1zM68.9 58.8h1v1h-1zM64.2 76.8h1v1h-1zM59.0 70.4h1v1h-1zM64.4 77.5h1v1h-1zM66.0 77.7h1v1h-1zM56.5 70.4h1v1h-1zM69.1 60.4h1v1h-1zM56.3 65.8h1v1h-1zM62.8 74.3h1v1h-1zM58.0 70.5h1v1h-1zM62.9 78.5h1v1h-1zM54.6 63.3h1v1h-1zM56.4 66.1h1v1h-1zM60.6 73.8h1v1h-1zM63.8 59.2h1v1h-1zM53.6 65.2h1v1h-1zM68.3 71.5h1v1h-1zM64.0 75.2h1v1h-1zM64.5 74.9h1v1h-1zM70.7 65.5h1v1h-1zM63.2 72.9h1v1h-1zM71.4 63.1h1v1h-1zM67.0 74.8h1v1h-1zM63.3 80.9h1v1h-1zM56.6 63.3h1v1h-1zM54.8 67.4h1v1h-1zM58.7 60.2h1v1h-1zM65.7 58.2h1v1h-1zM64.5 78.9h1v1h-1zM62.2 74.3h1v1h-1zM59.3 59.8h1v1h-1zM62.1 58.5h1v1h-1zM53.7 66.0h1v1h-1zM57.2 73.6h1v1h-1zM59.6 75.7h1v1h-1zM71.1 61.2h1v1h-1zM55.8 63.3h1v1h-1zM63.8 57.6h1v1h-1zM71.4 66.3h1v1h-1zM63.2 79.7h1v1h-1zM62.8 79.6h1v1h-1zM70.8 67.5h1v1h-1zM68.1 60.2h1v1h-1zM71.1 61.1h1v1h-1z" fill="#5066c4" fill-opacity="0.65"/>
<path d="M64.8 66.7h1v1h-1zM63.9 69.0h1v1h-1zM63.1 65.5h1v1h-1zM64.2 67.6h1v1h-1zM62.9 67.8h1v1h-1zM63.9 66.4h1v1h-1zM65.1 68.3h1v1h-1zM65.6 67.4h1v1h-1zM63.7 66.0h1v1h-1zM65.0 68.3h1v1h-1zM63.8 65.5h1v1h-1zM62.6 65.7h1v1h-1zM62.7 66.2h1v1h-1zM64.8 66.3h1v1h-1zM64.0 68.3h1v1h-1zM64.9 66.9h1v1h-1zM62.7 65.5h1v1h-1zM62.7 67.7h1v1h-1zM62.4 66.3h1v1h-1zM63.1 65.9h1v1h-1zM65.2 67.0h1v1h-1zM64.5 66.5h1v1h-1zM64.7 68.1h1v1h-1zM63.2 68.6h1v1h-1zM62.4 67.0h1v1h-1zM63.0 68.6h1v1h-1zM63.9 67.2h1v1h-1zM63.2 66.8h1v1h-1zM64.8 67.9h1v1h-1zM62.6 67.4h1v1h-1zM64.3 66.2h1v1h-1zM64.2 68.0h1v1h-1zM63.9 66.0h1v1h-1zM63.6 67.9h1v1h-1zM65.2 68.1h1v1h-1zM63.9 68.5h1v1h-1zM63.3 69.3h1v1h-1zM62.9 66.2h1v1h-1zM63.2 65.2h1v1h-1zM63.5 67.8h1v1h-1zM63.9 68.4h1v1h-1zM64.1 67.1h1v1h-1zM62.3 66.2h1v1h-1zM65.0 68.4h1v1h-1zM65.5 67.0h1v1h-1zM64.3 65.4h1v1h-1zM63.4 69.2h1v1h-1zM65.1 65.5h1v1h-1zM62.8 66.0h1v1h-1zM62.2 67.7h1v1h-1zM65.1 68.6h1v1h-1zM63.3 67.2h1v1h-1zM63.9 66.6h1v1h-1zM63.2 64.5h1v1h-1zM64.6 67.9h1v1h-1zM63.6 66.7h1v1h-1zM64.4 65.4h1v1h-1zM63.9 67.5h1v1h-1zM63.9 65.9h1v1h-1zM62.3 65.9h1v1h-1zM62.6 67.6h1v1h-1zM65.4 67.2h1v1h-1zM62.8 65.6h1v1h-1zM62.9 65.4h1v1h-1zM63.2 67.5h1v1h-1zM64.4 65.1h1v1h-1zM64.5 65.6h1v1h-1zM64.5 66.5h1v1h-1zM64.2 68.8h1v1h-1zM62.4 66.8h1v1h-1zM63.6 67.8h1v1h-1zM64.0 67.5h1v1h-1zM63.9 67.9h1v1h-1zM64.2 65.2h1v1h-1zM65.7 66.9h1v1h-1zM63.0 65.6h1v1h-1zM64.9 65.9h1v1h-1zM63.4 69.3h1v1h-1zM64.0 67.6h1v1h-1zM64.5 66.7h1v1h-1zM63.8 66.8h1v1h-1zM63.2 65.3h1v1h-1zM64.0 68.7h1v1h-1zM62.4 67.8h1v1h-1zM65.1 68.4h1v1h-1zM64.2 66.1h1v1h-1zM65.2 68.4h1v1h-1zM63.3 69.0h1v1h-1zM64.8 68.6h1v1h-1zM64.0 66.5h1v1h-1zM62.1 67.6h1v1h-1zM62.6 66.6h1v1h-1zM63.5 66.2h1v1h-1zM63.1 68.4h1v1h-1zM64.2 68.5h1v1h-1zM62.8 64.2h1v1h-1zM64.5 67.4h1v1h-1zM64.7 68.2h1v1h-1zM64.5 65.1h1v1h-1zM65.2 66.4h1v1h-1zM65.1 66.3h1v1h-1zM64.7 68.9h1v1h-1zM64.0 68.6h1v1h-1zM63.9 66.9h1v1h-1zM64.1 67.3h1v1h-1zM64.2 68.8h1v1h-1zM63.7 65.9h1v1h-1zM64.2 65.0h1v1h-1zM63.7 64.4h1v1h-1zM63.8 68.0h1v1h-1zM63.5 66.6h1v1h-1zM62.2 66.2h1v1h-1z" fill="#27a6e0" fill-opacity="0.95"/>
<path d="M77.0 56.3h1v1h-1zM75.0 55.6h1v1h-1zM77.0 57.8h1v1h-1zM74.2 59.2h1v1h-1zM77.2 55.5h1v1h-1zM77.3 58.2h1v1h-1zM80.0 56.8h1v1h-1zM73.8 58.5h1v1h-1zM76.3 63.3h1v1h-1zM76.0 61.7h1v1h-1zM76.8 56.4h1v1h-1zM77.1 61.5h1v1h-1zM76.2 56.5h1v1h-1zM73.9 61.9h1v1h-1zM78.4 56.3h1v1h-1zM79.5 54.7h1v1h-1zM75.3 59.2h1v1h-1zM72.5 54.6h1v1h-1zM73.6 59.7h1v1h-1zM75.5 57.0h1v1h-1zM79.9 58.1h1v1h-1zM79.4 62.2h1v1h-1zM75.3 61.6h1v1h-1zM71.9 58.9h1v1h-1zM76.8 55.0h1v1h-1zM76.8 56.5h1v1h-1zM74.2 62.9h1v1h-1zM72.7 60.5h1v1h-1zM79.4 60.5h1v1h-1zM76.7 56.8h1v1h-1zM78.9 56.4h1v1h-1zM76.4 61.8h1v1h-1zM71.2 60.3h1v1h-1zM70.7 59.6h1v1h-1zM75.1 59.3h1v1h-1zM73.8 64.0h1v1h-1zM75.3 61.0h1v1h-1zM78.5 60.7h1v1h-1zM74.8 60.1h1v1h-1zM77.0 59.6h1v1h-1zM78.7 58.3h1v1h-1zM77.1 61.7h1v1h-1zM74.8 57.1h1v1h-1zM77.7 62.5h1v1h-1zM70.5 61.7h1v1h-1zM74.7 61.2h1v1h-1zM75.2 58.7h1v1h-1zM76.8 62.5h1v1h-1zM74.5 63.7h1v1h-1zM74.3 63.0h1v1h-1zM75.4 54.9h1v1h-1zM76.1 60.2h1v1h-1zM78.4 57.6h1v1h-1zM74.5 62.6h1v1h-1zM73.0 57.5h1v1h-1zM73.3 55.7h1v1h-1zM74.0 58.6h1v1h-1zM76.8 63.2h1v1h-1zM79.7 54.0h1v1h-1zM78.4 61.4h1v1h-1zM73.5 61.4h1v1h-1zM79.4 56.8h1v1h-1zM74.2 61.3h1v1h-1zM76.7 56.0h1v1h-1zM74.4 59.3h1v1h-1zM77.9 61.0h1v1h-1zM77.3 63.9h1v1h-1zM78.1 62.2h1v1h-1zM71.2 56.2h1v1h-1z" fill="#4a62c6" fill-opacity="0.7"/>
<path d="M78.9 50.8h1v1h-1zM74.8 52.7h1v1h-1zM80.9 64.1h1v1h-1zM74.1 69.4h1v1h-1zM77.3 48.6h1v1h-1zM76.8 65.8h1v1h-1zM78.2 46.4h1v1h-1zM75.1 68.4h1v1h-1zM74.5 71.8h1v1h-1zM72.0 66.7h1v1h-1zM74.8 64.8h1v1h-1zM80.1 69.9h1v1h-1zM72.8 64.4h1v1h-1zM77.0 70.3h1v1h-1zM81.9 47.9h1v1h-1zM74.9 47.1h1v1h-1zM76.9 65.4h1v1h-1zM74.4 69.1h1v1h-1zM77.5 67.5h1v1h-1zM80.0 72.3h1v1h-1zM76.6 48.4h1v1h-1zM72.8 70.9h1v1h-1zM81.1 51.8h1v1h-1zM73.4 52.6h1v1h-1zM73.4 64.3h1v1h-1zM76.2 65.3h1v1h-1zM75.5 50.7h1v1h-1zM76.4 65.1h1v1h-1zM72.2 52.7h1v1h-1zM77.2 68.1h1v1h-1zM75.6 50.7h1v1h-1zM75.4 51.3h1v1h-1zM75.7 71.8h1v1h-1zM77.3 51.9h1v1h-1zM78.0 65.7h1v1h-1zM70.9 44.5h1v1h-1zM74.2 69.3h1v1h-1zM76.3 64.5h1v1h-1zM77.6 65.7h1v1h-1zM77.2 64.1h1v1h-1zM75.2 67.0h1v1h-1zM77.4 66.8h1v1h-1zM70.3 66.5h1v1h-1zM74.4 45.6h1v1h-1zM79.1 70.3h1v1h-1zM78.6 52.6h1v1h-1zM74.2 67.2h1v1h-1zM75.8 45.9h1v1h-1zM77.7 65.0h1v1h-1zM78.8 52.0h1v1h-1zM73.2 72.7h1v1h-1zM73.0 70.1h1v1h-1zM74.6 66.5h1v1h-1zM73.8 65.9h1v1h-1zM74.7 64.8h1v1h-1zM72.8 70.6h1v1h-1zM74.1 70.2h1v1h-1zM78.3 68.3h1v1h-1zM80.3 64.5h1v1h-1zM75.9 51.0h1v1h-1zM81.2 52.7h1v1h-1z" fill="#7d80d4" fill-opacity="0.7"/>
<rect x="33" y="18.4" width="81.70" height="81.10" fill="none" stroke="#a8a8a8" stroke-width="0.9"/>
<line x1="33.00" y1="54.80" x2="114.70" y2="54.80" stroke="#505050" stroke-width="1.0" />
<line x1="73.50" y1="18.40" x2="73.50" y2="99.50" stroke="#505050" stroke-width="1.0" />
<line x1="31.00" y1="99.50" x2="33.00" y2="99.50" stroke="#444" stroke-width="0.9" />
<text x="28.40" y="102.10" font-size="7.2" text-anchor="end" font-weight="normal" fill="#231f20" >10<tspan font-size="5.2" dy="-3">0</tspan></text>
<line x1="31.00" y1="85.98" x2="33.00" y2="85.98" stroke="#444" stroke-width="0.9" />
<text x="28.40" y="88.58" font-size="7.2" text-anchor="end" font-weight="normal" fill="#231f20" >10<tspan font-size="5.2" dy="-3">1</tspan></text>
<line x1="31.00" y1="72.46" x2="33.00" y2="72.46" stroke="#444" stroke-width="0.9" />
<text x="28.40" y="75.06" font-size="7.2" text-anchor="end" font-weight="normal" fill="#231f20" >10<tspan font-size="5.2" dy="-3">2</tspan></text>
<line x1="31.00" y1="58.94" x2="33.00" y2="58.94" stroke="#444" stroke-width="0.9" />
<text x="28.40" y="61.54" font-size="7.2" text-anchor="end" font-weight="normal" fill="#231f20" >10<tspan font-size="5.2" dy="-3">3</tspan></text>
<line x1="31.00" y1="45.42" x2="33.00" y2="45.42" stroke="#444" stroke-width="0.9" />
<text x="28.40" y="48.02" font-size="7.2" text-anchor="end" font-weight="normal" fill="#231f20" >10<tspan font-size="5.2" dy="-3">4</tspan></text>
<line x1="31.00" y1="31.90" x2="33.00" y2="31.90" stroke="#444" stroke-width="0.9" />
<text x="28.40" y="34.50" font-size="7.2" text-anchor="end" font-weight="normal" fill="#231f20" >10<tspan font-size="5.2" dy="-3">5</tspan></text>
<line x1="31.00" y1="18.38" x2="33.00" y2="18.38" stroke="#444" stroke-width="0.9" />
<text x="28.40" y="20.98" font-size="7.2" text-anchor="end" font-weight="normal" fill="#231f20" >10<tspan font-size="5.2" dy="-3">6</tspan></text>
<line x1="33.00" y1="99.50" x2="33.00" y2="101.30" stroke="#444" stroke-width="0.9" />
<text x="35.60" y="110.30" font-size="7.2" text-anchor="middle" font-weight="normal" fill="#231f20" >10<tspan font-size="5.2" dy="-3">0</tspan></text>
<line x1="46.62" y1="99.50" x2="46.62" y2="101.30" stroke="#444" stroke-width="0.9" />
<text x="48.10" y="110.30" font-size="7.2" text-anchor="middle" font-weight="normal" fill="#231f20" >10<tspan font-size="5.2" dy="-3">1</tspan></text>
<line x1="60.24" y1="99.50" x2="60.24" y2="101.30" stroke="#444" stroke-width="0.9" />
<text x="60.20" y="110.30" font-size="7.2" text-anchor="middle" font-weight="normal" fill="#231f20" >10<tspan font-size="5.2" dy="-3">2</tspan></text>
<line x1="73.86" y1="99.50" x2="73.86" y2="101.30" stroke="#444" stroke-width="0.9" />
<text x="76.40" y="110.30" font-size="7.2" text-anchor="middle" font-weight="normal" fill="#231f20" >10<tspan font-size="5.2" dy="-3">3</tspan></text>
<line x1="87.48" y1="99.50" x2="87.48" y2="101.30" stroke="#444" stroke-width="0.9" />
<text x="87.50" y="110.30" font-size="7.2" text-anchor="middle" font-weight="normal" fill="#231f20" >10<tspan font-size="5.2" dy="-3">4</tspan></text>
<line x1="101.10" y1="99.50" x2="101.10" y2="101.30" stroke="#444" stroke-width="0.9" />
<text x="99.80" y="110.30" font-size="7.2" text-anchor="middle" font-weight="normal" fill="#231f20" >10<tspan font-size="5.2" dy="-3">5</tspan></text>
<line x1="114.72" y1="99.50" x2="114.72" y2="101.30" stroke="#444" stroke-width="0.9" />
<text x="113.40" y="110.30" font-size="7.2" text-anchor="middle" font-weight="normal" fill="#231f20" >10<tspan font-size="5.2" dy="-3">6</tspan></text>
<text x="72.00" y="13.00" font-size="8.1" text-anchor="middle" font-weight="normal" fill="#231f20" >Screening</text>
<text x="36.30" y="27.70" font-size="8.0" text-anchor="start" font-weight="normal" fill="#231f20" >0.29%</text>
<text x="111.70" y="27.70" font-size="8.0" text-anchor="end" font-weight="normal" fill="#231f20" >0.85%</text>
<text x="111.70" y="96.60" font-size="8.0" text-anchor="end" font-weight="normal" fill="#231f20" >6.85%</text>
<path d="M180.8 64.8h1v1h-1zM175.0 61.1h1v1h-1zM177.9 78.1h1v1h-1zM171.8 71.2h1v1h-1zM171.6 71.1h1v1h-1zM176.8 63.5h1v1h-1zM177.0 61.3h1v1h-1zM175.8 60.8h1v1h-1zM169.6 67.1h1v1h-1zM174.6 64.0h1v1h-1zM173.8 63.7h1v1h-1zM172.6 66.8h1v1h-1zM181.1 64.8h1v1h-1zM181.6 63.6h1v1h-1zM176.9 63.7h1v1h-1zM177.0 72.7h1v1h-1zM174.4 61.9h1v1h-1zM174.5 71.6h1v1h-1zM172.2 70.1h1v1h-1zM178.4 77.8h1v1h-1zM180.4 63.3h1v1h-1zM181.0 65.9h1v1h-1zM179.1 70.0h1v1h-1zM170.7 65.9h1v1h-1zM180.0 71.3h1v1h-1zM172.3 67.4h1v1h-1zM179.4 71.2h1v1h-1zM180.3 65.0h1v1h-1zM172.7 66.6h1v1h-1zM171.4 66.6h1v1h-1zM175.1 64.2h1v1h-1zM181.5 69.1h1v1h-1zM177.3 74.2h1v1h-1zM173.9 60.8h1v1h-1zM177.7 74.5h1v1h-1zM181.5 67.1h1v1h-1zM170.4 65.6h1v1h-1zM170.8 66.4h1v1h-1zM172.3 64.7h1v1h-1zM177.4 74.1h1v1h-1zM172.8 70.0h1v1h-1zM176.9 63.0h1v1h-1zM175.2 74.6h1v1h-1zM173.9 61.7h1v1h-1zM172.1 70.3h1v1h-1zM172.9 62.3h1v1h-1zM171.6 70.0h1v1h-1zM178.3 72.7h1v1h-1zM176.1 73.8h1v1h-1zM172.9 69.2h1v1h-1zM180.1 69.0h1v1h-1zM171.5 66.5h1v1h-1zM180.6 65.7h1v1h-1zM173.6 62.5h1v1h-1zM172.5 61.7h1v1h-1zM175.1 65.0h1v1h-1zM174.4 66.1h1v1h-1zM170.3 66.6h1v1h-1zM174.2 62.0h1v1h-1zM174.3 61.1h1v1h-1zM172.9 63.1h1v1h-1zM175.0 65.3h1v1h-1zM174.3 62.3h1v1h-1zM178.6 73.2h1v1h-1zM180.6 65.7h1v1h-1zM171.4 68.8h1v1h-1zM176.8 63.5h1v1h-1zM174.8 71.8h1v1h-1zM175.9 62.9h1v1h-1zM177.6 63.7h1v1h-1zM178.9 70.9h1v1h-1zM172.2 69.4h1v1h-1zM177.2 61.4h1v1h-1zM176.1 63.8h1v1h-1zM176.8 62.5h1v1h-1zM181.6 65.2h1v1h-1zM176.3 72.5h1v1h-1zM176.7 73.1h1v1h-1zM173.2 64.0h1v1h-1zM172.0 66.3h1v1h-1zM171.4 69.6h1v1h-1zM172.3 66.7h1v1h-1zM178.4 71.6h1v1h-1zM178.6 62.9h1v1h-1zM177.1 74.8h1v1h-1zM171.4 71.9h1v1h-1zM175.6 72.8h1v1h-1zM178.2 62.1h1v1h-1zM180.5 70.1h1v1h-1zM174.5 65.0h1v1h-1zM172.2 66.2h1v1h-1zM180.8 65.8h1v1h-1zM174.6 72.0h1v1h-1zM177.8 62.2h1v1h-1zM180.6 69.2h1v1h-1zM179.8 71.3h1v1h-1zM176.0 63.9h1v1h-1zM174.2 65.6h1v1h-1zM175.1 61.5h1v1h-1zM173.2 71.0h1v1h-1zM180.4 65.0h1v1h-1zM173.2 72.5h1v1h-1zM173.1 63.6h1v1h-1zM180.0 70.5h1v1h-1zM175.3 74.6h1v1h-1zM179.8 69.6h1v1h-1zM174.9 71.4h1v1h-1zM173.4 62.9h1v1h-1zM180.9 68.3h1v1h-1zM173.6 60.6h1v1h-1zM179.9 71.8h1v1h-1zM172.2 67.0h1v1h-1zM174.5 73.6h1v1h-1zM179.0 63.2h1v1h-1zM174.8 61.5h1v1h-1zM178.3 62.1h1v1h-1zM171.8 67.9h1v1h-1zM180.3 70.4h1v1h-1zM176.5 72.1h1v1h-1zM174.5 60.9h1v1h-1zM176.7 73.0h1v1h-1zM171.8 65.8h1v1h-1zM173.0 66.5h1v1h-1zM176.7 62.1h1v1h-1zM176.5 79.0h1v1h-1zM171.7 69.6h1v1h-1zM180.7 67.8h1v1h-1zM177.5 62.3h1v1h-1zM171.0 68.4h1v1h-1zM173.3 61.2h1v1h-1zM181.7 69.0h1v1h-1zM171.0 66.7h1v1h-1zM176.4 72.0h1v1h-1zM172.4 65.6h1v1h-1zM172.8 60.6h1v1h-1zM172.3 64.9h1v1h-1zM175.9 61.3h1v1h-1zM173.1 66.5h1v1h-1zM176.8 78.9h1v1h-1zM176.6 72.3h1v1h-1zM172.1 61.7h1v1h-1zM179.8 70.9h1v1h-1zM177.1 62.1h1v1h-1zM180.5 65.1h1v1h-1zM180.8 64.7h1v1h-1zM174.8 64.4h1v1h-1zM179.8 63.7h1v1h-1zM180.5 67.2h1v1h-1zM179.8 69.9h1v1h-1zM181.0 64.5h1v1h-1zM171.1 64.9h1v1h-1zM177.3 73.4h1v1h-1zM173.0 69.6h1v1h-1zM175.8 62.7h1v1h-1zM177.4 74.3h1v1h-1zM172.4 61.8h1v1h-1zM176.8 62.6h1v1h-1zM173.5 71.4h1v1h-1zM175.9 63.1h1v1h-1zM177.7 72.8h1v1h-1zM180.6 70.6h1v1h-1zM174.5 72.3h1v1h-1zM176.9 62.5h1v1h-1zM181.9 66.1h1v1h-1zM173.8 62.3h1v1h-1zM176.4 61.6h1v1h-1zM174.3 63.6h1v1h-1zM175.7 72.6h1v1h-1zM172.2 62.3h1v1h-1zM180.3 71.3h1v1h-1zM176.3 74.7h1v1h-1zM174.5 63.7h1v1h-1zM178.9 70.5h1v1h-1zM172.4 70.3h1v1h-1zM174.7 61.2h1v1h-1zM179.0 62.7h1v1h-1zM173.7 61.5h1v1h-1zM173.7 62.7h1v1h-1zM177.5 73.6h1v1h-1zM175.6 72.4h1v1h-1zM178.9 71.7h1v1h-1zM181.6 69.3h1v1h-1zM173.0 66.2h1v1h-1zM181.3 68.0h1v1h-1zM175.0 73.1h1v1h-1zM173.8 65.3h1v1h-1zM171.0 65.5h1v1h-1zM180.7 64.7h1v1h-1zM171.6 69.8h1v1h-1zM172.0 69.7h1v1h-1zM180.8 71.0h1v1h-1zM173.7 73.1h1v1h-1zM171.2 68.0h1v1h-1zM181.1 67.8h1v1h-1zM170.5 65.8h1v1h-1zM179.4 63.4h1v1h-1zM177.4 62.7h1v1h-1zM176.4 74.1h1v1h-1zM177.6 78.6h1v1h-1zM170.5 67.8h1v1h-1zM174.9 74.4h1v1h-1zM177.0 78.0h1v1h-1zM179.2 62.8h1v1h-1zM177.7 72.9h1v1h-1zM181.7 67.4h1v1h-1zM176.0 79.5h1v1h-1zM176.8 72.3h1v1h-1zM180.4 65.8h1v1h-1zM170.7 64.9h1v1h-1zM173.8 71.3h1v1h-1zM177.1 73.0h1v1h-1zM175.0 72.7h1v1h-1zM180.2 68.6h1v1h-1zM173.9 61.3h1v1h-1zM172.1 64.0h1v1h-1zM181.3 69.8h1v1h-1zM172.1 64.1h1v1h-1zM180.7 65.4h1v1h-1zM174.1 62.5h1v1h-1zM171.3 67.8h1v1h-1zM180.6 69.8h1v1h-1zM178.8 70.8h1v1h-1zM171.2 66.8h1v1h-1zM173.6 73.1h1v1h-1zM174.4 64.1h1v1h-1zM178.5 62.4h1v1h-1zM180.6 62.9h1v1h-1zM172.9 69.8h1v1h-1zM180.6 66.1h1v1h-1zM176.1 72.8h1v1h-1zM181.1 68.6h1v1h-1zM181.2 69.1h1v1h-1zM173.8 61.6h1v1h-1zM177.7 72.8h1v1h-1zM171.0 67.3h1v1h-1zM169.8 67.9h1v1h-1zM172.8 66.6h1v1h-1zM175.8 62.7h1v1h-1zM173.0 62.6h1v1h-1zM174.8 61.4h1v1h-1zM177.1 61.8h1v1h-1zM175.1 73.7h1v1h-1zM171.6 65.7h1v1h-1zM171.8 64.6h1v1h-1zM170.2 67.4h1v1h-1zM177.1 63.2h1v1h-1zM173.5 74.4h1v1h-1zM173.1 68.9h1v1h-1zM172.4 71.8h1v1h-1zM181.2 69.0h1v1h-1zM178.0 72.2h1v1h-1zM173.5 73.2h1v1h-1zM172.8 70.3h1v1h-1zM177.8 72.1h1v1h-1zM173.0 62.4h1v1h-1zM172.7 65.6h1v1h-1zM174.4 63.0h1v1h-1zM174.2 61.8h1v1h-1zM177.7 71.9h1v1h-1zM173.0 70.4h1v1h-1zM173.3 65.8h1v1h-1zM180.5 62.8h1v1h-1zM171.3 67.2h1v1h-1zM180.9 63.1h1v1h-1zM173.2 62.0h1v1h-1zM181.5 65.5h1v1h-1zM173.9 65.4h1v1h-1zM181.1 67.2h1v1h-1zM181.5 67.2h1v1h-1zM171.7 66.1h1v1h-1zM169.8 67.5h1v1h-1zM173.9 62.6h1v1h-1zM180.5 64.2h1v1h-1zM171.2 66.7h1v1h-1zM179.3 72.8h1v1h-1zM173.5 64.0h1v1h-1zM172.6 67.5h1v1h-1zM173.7 64.4h1v1h-1zM179.6 62.7h1v1h-1zM174.3 73.5h1v1h-1zM172.9 62.9h1v1h-1zM172.8 66.5h1v1h-1zM171.5 66.2h1v1h-1zM175.1 71.6h1v1h-1zM174.8 65.4h1v1h-1zM173.3 72.9h1v1h-1zM175.8 72.1h1v1h-1zM175.2 65.0h1v1h-1zM171.3 65.6h1v1h-1zM175.0 73.0h1v1h-1zM176.0 76.1h1v1h-1zM181.9 67.0h1v1h-1zM173.5 70.7h1v1h-1z" fill="#3a66c4" fill-opacity="0.85"/>
<path d="M176.5 58.5h1v1h-1zM167.7 66.8h1v1h-1zM165.4 73.3h1v1h-1zM173.0 74.3h1v1h-1zM170.2 63.5h1v1h-1zM179.1 59.8h1v1h-1zM183.8 69.2h1v1h-1zM179.4 78.7h1v1h-1zM183.3 63.8h1v1h-1zM171.2 74.8h1v1h-1zM180.3 75.6h1v1h-1zM178.4 82.8h1v1h-1zM167.9 69.0h1v1h-1zM169.6 64.4h1v1h-1zM179.6 79.4h1v1h-1zM174.8 75.7h1v1h-1zM180.0 61.5h1v1h-1zM173.3 75.7h1v1h-1zM166.9 66.5h1v1h-1zM173.7 78.9h1v1h-1zM182.0 70.0h1v1h-1zM170.1 75.5h1v1h-1zM172.3 75.0h1v1h-1zM174.8 79.6h1v1h-1zM182.7 72.5h1v1h-1zM176.3 60.1h1v1h-1zM177.3 76.6h1v1h-1zM180.9 77.6h1v1h-1zM170.3 62.9h1v1h-1zM168.8 69.1h1v1h-1zM182.1 68.6h1v1h-1zM175.3 58.5h1v1h-1zM179.8 78.9h1v1h-1zM180.2 82.3h1v1h-1zM178.3 77.8h1v1h-1zM167.2 69.4h1v1h-1zM164.8 73.1h1v1h-1zM169.2 72.3h1v1h-1zM169.5 72.8h1v1h-1zM176.8 60.0h1v1h-1zM176.9 80.3h1v1h-1zM183.6 69.5h1v1h-1zM165.6 74.5h1v1h-1zM174.7 76.1h1v1h-1zM175.6 80.3h1v1h-1zM165.6 73.6h1v1h-1zM179.2 74.7h1v1h-1zM167.7 68.6h1v1h-1zM168.1 66.9h1v1h-1zM172.6 73.9h1v1h-1zM167.1 72.0h1v1h-1zM174.0 79.3h1v1h-1zM180.0 78.7h1v1h-1zM168.8 69.5h1v1h-1zM176.3 75.1h1v1h-1zM168.9 69.6h1v1h-1zM176.4 77.6h1v1h-1zM177.4 80.8h1v1h-1zM174.7 80.8h1v1h-1zM180.6 79.9h1v1h-1zM179.9 80.9h1v1h-1zM166.8 69.4h1v1h-1zM174.1 75.1h1v1h-1zM171.7 74.7h1v1h-1zM181.6 61.2h1v1h-1zM179.7 76.5h1v1h-1zM178.2 75.1h1v1h-1zM175.4 75.1h1v1h-1zM166.0 71.4h1v1h-1zM175.0 79.0h1v1h-1zM169.2 64.2h1v1h-1zM180.9 72.2h1v1h-1zM172.8 73.9h1v1h-1zM179.4 81.1h1v1h-1zM174.5 78.5h1v1h-1zM172.8 74.9h1v1h-1zM173.0 76.5h1v1h-1zM171.1 71.5h1v1h-1zM169.0 64.6h1v1h-1zM170.1 70.4h1v1h-1zM183.2 67.3h1v1h-1zM171.2 76.6h1v1h-1zM171.7 63.1h1v1h-1zM180.9 82.7h1v1h-1zM176.6 75.9h1v1h-1zM168.8 68.4h1v1h-1zM176.3 60.2h1v1h-1zM171.3 72.3h1v1h-1zM172.8 73.7h1v1h-1zM174.0 77.6h1v1h-1zM172.2 74.8h1v1h-1zM180.0 80.3h1v1h-1zM178.6 75.5h1v1h-1zM170.8 61.6h1v1h-1zM172.4 73.1h1v1h-1zM175.7 59.3h1v1h-1zM179.0 74.2h1v1h-1zM181.3 62.5h1v1h-1zM172.7 76.8h1v1h-1zM171.9 60.8h1v1h-1zM171.5 76.1h1v1h-1zM180.1 76.2h1v1h-1zM168.5 72.4h1v1h-1zM177.8 77.3h1v1h-1zM166.4 67.2h1v1h-1zM180.1 59.8h1v1h-1zM177.9 59.8h1v1h-1zM180.7 62.3h1v1h-1zM169.1 66.7h1v1h-1zM180.1 72.6h1v1h-1zM167.0 65.5h1v1h-1zM164.6 71.7h1v1h-1zM179.7 81.3h1v1h-1zM166.5 67.1h1v1h-1zM177.3 79.9h1v1h-1zM182.7 70.9h1v1h-1zM171.6 75.2h1v1h-1zM178.7 61.5h1v1h-1zM183.0 65.8h1v1h-1zM177.6 74.8h1v1h-1zM168.3 69.7h1v1h-1zM170.4 74.1h1v1h-1zM183.1 71.1h1v1h-1zM178.2 80.3h1v1h-1zM170.2 75.7h1v1h-1zM179.1 80.1h1v1h-1zM171.2 71.6h1v1h-1zM180.4 79.2h1v1h-1zM177.7 81.6h1v1h-1zM174.3 80.9h1v1h-1zM167.6 72.1h1v1h-1zM177.0 75.8h1v1h-1zM172.2 78.2h1v1h-1zM168.8 66.2h1v1h-1zM169.1 71.5h1v1h-1zM179.0 83.4h1v1h-1zM171.7 76.9h1v1h-1zM165.6 72.0h1v1h-1zM167.9 65.7h1v1h-1zM181.7 62.3h1v1h-1zM182.5 67.9h1v1h-1zM168.7 71.0h1v1h-1zM169.2 69.7h1v1h-1zM169.1 64.6h1v1h-1zM168.5 67.9h1v1h-1zM176.8 77.7h1v1h-1zM175.7 78.9h1v1h-1zM178.5 74.4h1v1h-1zM170.6 72.8h1v1h-1zM176.4 79.6h1v1h-1zM170.5 71.9h1v1h-1zM178.2 79.8h1v1h-1zM180.8 72.9h1v1h-1zM179.5 82.0h1v1h-1zM171.7 75.4h1v1h-1zM180.6 74.4h1v1h-1zM181.1 72.4h1v1h-1zM177.9 79.8h1v1h-1zM175.2 75.4h1v1h-1zM176.5 80.6h1v1h-1zM171.9 76.2h1v1h-1zM166.1 72.9h1v1h-1zM181.5 62.5h1v1h-1zM176.2 77.2h1v1h-1zM179.4 82.9h1v1h-1zM173.6 59.6h1v1h-1zM183.6 62.5h1v1h-1zM167.8 70.6h1v1h-1zM165.3 72.5h1v1h-1zM180.0 76.5h1v1h-1zM171.8 74.3h1v1h-1zM176.0 60.4h1v1h-1zM172.5 79.2h1v1h-1zM177.6 79.8h1v1h-1zM179.1 77.5h1v1h-1zM176.0 75.2h1v1h-1zM179.5 76.0h1v1h-1zM171.6 76.0h1v1h-1zM179.3 81.8h1v1h-1zM182.7 66.8h1v1h-1zM173.5 76.8h1v1h-1zM179.4 80.9h1v1h-1zM171.1 63.7h1v1h-1zM177.9 80.8h1v1h-1zM176.4 60.5h1v1h-1zM172.4 79.2h1v1h-1zM171.7 61.8h1v1h-1zM172.5 60.3h1v1h-1zM170.5 61.9h1v1h-1zM167.0 71.9h1v1h-1zM179.8 61.3h1v1h-1zM170.9 73.2h1v1h-1zM181.1 60.2h1v1h-1zM174.0 80.6h1v1h-1zM166.3 67.8h1v1h-1zM170.0 76.3h1v1h-1zM170.4 70.4h1v1h-1zM179.9 73.9h1v1h-1zM175.1 60.1h1v1h-1zM175.5 78.0h1v1h-1zM168.9 71.7h1v1h-1zM180.7 62.3h1v1h-1zM177.6 75.8h1v1h-1zM171.1 70.4h1v1h-1zM182.9 71.2h1v1h-1zM178.3 79.2h1v1h-1zM170.2 64.3h1v1h-1zM168.6 70.4h1v1h-1zM165.9 72.0h1v1h-1zM170.6 70.4h1v1h-1zM182.1 72.8h1v1h-1zM174.8 59.5h1v1h-1zM167.0 68.0h1v1h-1zM176.5 78.0h1v1h-1zM166.8 65.5h1v1h-1zM179.0 76.2h1v1h-1zM174.3 78.7h1v1h-1zM179.4 73.4h1v1h-1zM178.5 80.1h1v1h-1zM178.5 59.9h1v1h-1zM181.4 72.4h1v1h-1zM173.3 75.9h1v1h-1zM176.2 76.0h1v1h-1zM171.7 73.3h1v1h-1zM168.5 67.9h1v1h-1zM173.2 77.8h1v1h-1zM179.2 83.4h1v1h-1zM167.8 68.3h1v1h-1zM178.0 61.3h1v1h-1zM176.0 77.8h1v1h-1zM177.7 76.9h1v1h-1zM181.1 81.9h1v1h-1zM175.8 81.1h1v1h-1zM173.8 79.2h1v1h-1zM175.0 77.9h1v1h-1zM167.8 67.5h1v1h-1zM176.7 77.2h1v1h-1zM167.0 73.9h1v1h-1zM181.3 62.3h1v1h-1zM168.0 68.9h1v1h-1zM178.1 75.7h1v1h-1zM183.2 70.8h1v1h-1zM177.7 60.8h1v1h-1zM178.6 79.1h1v1h-1zM170.0 64.2h1v1h-1zM179.7 61.4h1v1h-1zM169.6 74.0h1v1h-1zM170.0 72.1h1v1h-1zM169.4 69.2h1v1h-1zM168.8 66.5h1v1h-1zM179.1 82.1h1v1h-1zM166.7 73.0h1v1h-1zM169.7 75.6h1v1h-1zM179.0 60.9h1v1h-1zM179.3 78.4h1v1h-1zM166.8 71.3h1v1h-1zM173.6 75.7h1v1h-1zM177.9 82.1h1v1h-1zM175.0 77.9h1v1h-1zM166.4 72.2h1v1h-1zM181.1 72.8h1v1h-1zM168.9 67.5h1v1h-1zM174.1 78.5h1v1h-1zM174.1 74.8h1v1h-1zM168.8 74.3h1v1h-1zM166.1 67.2h1v1h-1zM171.1 71.0h1v1h-1zM167.9 64.7h1v1h-1zM173.7 79.7h1v1h-1zM175.9 77.6h1v1h-1zM181.1 80.6h1v1h-1zM167.9 68.5h1v1h-1zM170.0 72.0h1v1h-1zM173.5 78.0h1v1h-1zM171.3 61.0h1v1h-1zM172.3 76.8h1v1h-1zM182.2 64.4h1v1h-1zM168.5 68.6h1v1h-1zM181.3 60.1h1v1h-1zM179.3 73.8h1v1h-1zM180.4 60.4h1v1h-1zM170.7 63.7h1v1h-1zM176.6 59.3h1v1h-1zM176.5 77.9h1v1h-1zM167.4 72.8h1v1h-1zM170.6 73.8h1v1h-1zM182.8 71.3h1v1h-1zM178.2 78.9h1v1h-1zM178.9 78.7h1v1h-1zM180.9 62.5h1v1h-1zM178.7 78.2h1v1h-1zM171.5 75.9h1v1h-1zM179.5 81.5h1v1h-1zM182.3 61.5h1v1h-1zM181.5 72.8h1v1h-1z" fill="#5066c4" fill-opacity="0.65"/>
<path d="M184.0 71.5h1v1h-1zM181.9 80.9h1v1h-1zM181.5 79.4h1v1h-1zM184.7 63.9h1v1h-1zM168.9 62.0h1v1h-1zM168.1 87.4h1v1h-1zM184.5 82.2h1v1h-1zM179.2 89.1h1v1h-1zM183.5 77.2h1v1h-1zM170.6 82.2h1v1h-1zM152.0 88.7h1v1h-1zM165.7 86.6h1v1h-1zM185.8 62.0h1v1h-1zM165.1 80.5h1v1h-1zM164.1 95.5h1v1h-1zM169.5 87.2h1v1h-1zM183.1 74.9h1v1h-1zM149.9 76.2h1v1h-1zM170.8 59.3h1v1h-1zM177.1 93.3h1v1h-1zM183.4 62.9h1v1h-1zM158.9 63.2h1v1h-1zM170.4 90.8h1v1h-1zM160.9 65.6h1v1h-1zM173.4 85.1h1v1h-1zM151.1 58.2h1v1h-1zM171.4 90.5h1v1h-1zM184.9 87.5h1v1h-1zM184.3 83.2h1v1h-1zM152.9 87.4h1v1h-1zM190.0 71.4h1v1h-1zM158.4 63.4h1v1h-1zM179.8 84.8h1v1h-1zM158.0 63.9h1v1h-1zM180.4 86.0h1v1h-1zM148.7 66.6h1v1h-1zM184.1 61.8h1v1h-1zM169.5 78.2h1v1h-1zM183.9 63.7h1v1h-1zM173.4 86.6h1v1h-1zM165.5 57.9h1v1h-1zM178.9 92.1h1v1h-1zM172.9 82.5h1v1h-1zM169.9 58.1h1v1h-1zM184.5 75.2h1v1h-1zM173.1 89.7h1v1h-1zM165.1 65.4h1v1h-1zM157.6 81.1h1v1h-1zM153.1 97.0h1v1h-1zM164.8 80.5h1v1h-1zM174.9 57.4h1v1h-1zM164.4 75.8h1v1h-1zM165.3 75.8h1v1h-1zM162.4 71.1h1v1h-1zM174.9 84.6h1v1h-1zM184.1 66.7h1v1h-1zM181.6 83.8h1v1h-1zM165.6 90.8h1v1h-1zM168.9 75.0h1v1h-1zM183.5 92.3h1v1h-1zM165.6 89.4h1v1h-1zM183.7 63.4h1v1h-1zM169.9 82.1h1v1h-1zM154.1 85.6h1v1h-1zM162.0 68.3h1v1h-1zM180.3 76.2h1v1h-1zM180.1 85.1h1v1h-1zM183.6 85.7h1v1h-1zM150.5 67.7h1v1h-1zM165.3 76.4h1v1h-1zM163.7 70.2h1v1h-1zM163.0 72.8h1v1h-1zM151.7 72.4h1v1h-1zM186.4 58.3h1v1h-1zM164.8 60.3h1v1h-1zM175.4 89.8h1v1h-1zM149.6 86.5h1v1h-1zM167.8 83.7h1v1h-1zM161.0 83.5h1v1h-1zM171.6 85.1h1v1h-1zM152.8 69.8h1v1h-1zM181.1 78.6h1v1h-1zM164.4 81.5h1v1h-1zM152.5 60.3h1v1h-1zM183.1 97.1h1v1h-1zM158.5 90.1h1v1h-1zM178.9 88.7h1v1h-1zM166.1 75.4h1v1h-1zM185.8 88.7h1v1h-1zM166.6 91.1h1v1h-1zM180.8 92.7h1v1h-1zM173.2 89.8h1v1h-1zM185.7 66.2h1v1h-1zM173.5 84.1h1v1h-1zM172.9 58.7h1v1h-1zM155.3 60.8h1v1h-1zM165.1 58.0h1v1h-1zM186.7 87.9h1v1h-1zM183.8 63.0h1v1h-1zM158.2 80.7h1v1h-1zM169.0 75.3h1v1h-1zM170.5 94.1h1v1h-1zM163.4 65.7h1v1h-1zM163.4 66.8h1v1h-1zM149.1 70.5h1v1h-1zM150.9 89.2h1v1h-1zM167.3 61.4h1v1h-1zM179.5 85.8h1v1h-1zM184.0 64.0h1v1h-1zM185.4 66.9h1v1h-1zM183.0 84.7h1v1h-1zM161.3 90.9h1v1h-1zM160.7 84.9h1v1h-1zM182.4 60.0h1v1h-1zM169.5 80.5h1v1h-1zM154.8 60.7h1v1h-1zM182.3 83.4h1v1h-1zM164.4 75.6h1v1h-1zM177.9 83.9h1v1h-1zM162.7 78.1h1v1h-1zM166.0 80.3h1v1h-1zM158.5 68.1h1v1h-1zM164.4 72.1h1v1h-1zM164.1 76.5h1v1h-1zM163.1 62.7h1v1h-1zM159.5 71.4h1v1h-1zM184.4 76.8h1v1h-1zM154.0 94.4h1v1h-1zM149.6 91.5h1v1h-1zM171.5 87.1h1v1h-1zM185.1 82.9h1v1h-1zM178.5 58.2h1v1h-1zM183.7 63.0h1v1h-1zM170.7 81.0h1v1h-1zM172.9 83.4h1v1h-1zM172.9 87.4h1v1h-1zM149.0 92.6h1v1h-1zM176.0 82.2h1v1h-1zM163.4 72.2h1v1h-1zM178.5 86.1h1v1h-1zM184.8 69.0h1v1h-1zM159.1 66.2h1v1h-1zM182.8 59.1h1v1h-1zM177.5 86.4h1v1h-1zM174.2 84.4h1v1h-1zM179.2 87.0h1v1h-1zM161.6 73.6h1v1h-1zM161.9 96.2h1v1h-1zM156.3 79.5h1v1h-1zM153.1 91.5h1v1h-1zM171.2 84.0h1v1h-1zM169.5 80.1h1v1h-1zM183.5 74.5h1v1h-1zM167.0 86.4h1v1h-1zM185.5 61.1h1v1h-1zM185.9 77.1h1v1h-1zM152.6 95.7h1v1h-1zM154.3 67.4h1v1h-1zM175.5 86.8h1v1h-1zM174.9 88.5h1v1h-1zM181.0 59.6h1v1h-1zM173.6 83.8h1v1h-1zM162.4 69.2h1v1h-1zM185.5 67.6h1v1h-1zM159.6 76.3h1v1h-1zM185.2 70.0h1v1h-1zM177.3 83.2h1v1h-1zM184.0 83.1h1v1h-1zM168.4 80.2h1v1h-1zM185.3 70.8h1v1h-1zM171.1 79.1h1v1h-1zM155.0 65.4h1v1h-1zM164.3 75.1h1v1h-1zM165.0 94.4h1v1h-1zM174.6 81.6h1v1h-1zM172.1 79.9h1v1h-1zM173.7 85.8h1v1h-1zM158.5 91.5h1v1h-1zM160.1 61.8h1v1h-1zM180.8 55.9h1v1h-1zM165.0 69.9h1v1h-1zM163.7 74.9h1v1h-1zM184.1 88.2h1v1h-1zM161.0 74.0h1v1h-1zM174.4 82.4h1v1h-1zM175.1 83.0h1v1h-1zM172.4 56.4h1v1h-1zM180.1 84.9h1v1h-1zM180.0 84.9h1v1h-1zM170.1 83.8h1v1h-1zM169.6 78.8h1v1h-1zM162.5 64.6h1v1h-1zM163.2 82.2h1v1h-1zM176.7 90.6h1v1h-1zM181.5 90.2h1v1h-1zM181.9 76.3h1v1h-1zM181.7 76.5h1v1h-1zM170.9 51.7h1v1h-1zM165.4 77.8h1v1h-1zM167.6 74.9h1v1h-1zM185.1 92.6h1v1h-1zM151.4 85.5h1v1h-1zM186.5 74.8h1v1h-1zM176.8 84.4h1v1h-1zM172.6 82.7h1v1h-1zM179.7 91.0h1v1h-1zM183.9 67.0h1v1h-1zM156.7 60.8h1v1h-1zM159.6 72.7h1v1h-1zM165.5 83.7h1v1h-1zM156.4 71.5h1v1h-1zM151.1 70.0h1v1h-1zM174.4 57.9h1v1h-1zM162.4 82.4h1v1h-1zM171.9 79.2h1v1h-1zM167.9 59.3h1v1h-1zM184.1 94.2h1v1h-1zM169.1 58.6h1v1h-1zM183.5 90.1h1v1h-1zM164.6 88.4h1v1h-1zM177.7 83.9h1v1h-1zM155.2 68.3h1v1h-1zM159.3 70.3h1v1h-1zM167.5 62.7h1v1h-1zM153.3 77.7h1v1h-1zM168.8 61.3h1v1h-1zM181.2 59.6h1v1h-1zM151.5 88.3h1v1h-1zM182.1 73.8h1v1h-1zM161.4 65.9h1v1h-1zM178.3 88.6h1v1h-1zM164.1 73.0h1v1h-1zM168.1 74.0h1v1h-1zM158.7 61.7h1v1h-1zM162.8 68.7h1v1h-1zM157.2 68.6h1v1h-1zM183.6 87.7h1v1h-1zM154.4 76.9h1v1h-1zM182.6 57.4h1v1h-1zM184.7 72.6h1v1h-1zM168.6 79.4h1v1h-1zM184.2 96.9h1v1h-1zM176.2 57.7h1v1h-1zM165.2 66.4h1v1h-1zM166.0 62.0h1v1h-1zM162.0 67.6h1v1h-1zM168.6 85.2h1v1h-1zM182.0 79.6h1v1h-1zM167.4 78.8h1v1h-1zM186.0 92.1h1v1h-1zM164.1 60.5h1v1h-1zM156.7 60.5h1v1h-1zM181.5 59.1h1v1h-1zM158.2 60.6h1v1h-1zM184.8 70.6h1v1h-1zM174.7 84.3h1v1h-1zM170.0 94.3h1v1h-1zM165.8 68.4h1v1h-1zM183.3 73.2h1v1h-1zM182.0 83.4h1v1h-1zM175.8 58.1h1v1h-1zM166.5 63.1h1v1h-1zM184.6 84.2h1v1h-1zM169.4 93.6h1v1h-1zM168.6 76.6h1v1h-1zM183.4 81.0h1v1h-1zM163.7 69.8h1v1h-1zM163.1 68.1h1v1h-1zM183.6 83.8h1v1h-1zM176.2 91.0h1v1h-1zM173.3 57.3h1v1h-1zM160.6 65.3h1v1h-1zM183.4 96.3h1v1h-1zM166.9 64.2h1v1h-1zM162.6 76.6h1v1h-1zM156.1 83.0h1v1h-1zM177.3 55.8h1v1h-1zM150.9 60.2h1v1h-1zM186.1 71.6h1v1h-1zM168.3 64.1h1v1h-1zM186.3 73.9h1v1h-1zM183.2 80.4h1v1h-1zM175.9 85.3h1v1h-1zM171.0 60.2h1v1h-1zM172.1 90.7h1v1h-1zM165.8 63.3h1v1h-1zM163.0 83.2h1v1h-1zM177.9 58.5h1v1h-1zM166.6 76.8h1v1h-1zM182.3 95.3h1v1h-1zM182.3 82.2h1v1h-1zM159.9 80.7h1v1h-1zM184.8 81.3h1v1h-1zM180.1 87.3h1v1h-1zM170.0 86.7h1v1h-1zM186.2 60.7h1v1h-1zM161.7 90.4h1v1h-1zM164.1 75.3h1v1h-1zM157.3 63.1h1v1h-1zM158.6 64.0h1v1h-1zM183.5 72.7h1v1h-1zM155.7 87.5h1v1h-1zM168.9 79.5h1v1h-1zM163.7 74.5h1v1h-1zM169.1 78.0h1v1h-1zM172.4 58.6h1v1h-1zM163.8 67.1h1v1h-1zM184.0 56.9h1v1h-1zM156.4 59.2h1v1h-1zM180.8 87.7h1v1h-1zM166.2 78.6h1v1h-1zM181.6 91.6h1v1h-1zM170.4 78.7h1v1h-1zM174.8 84.8h1v1h-1zM162.6 92.7h1v1h-1zM176.5 86.6h1v1h-1zM174.8 92.7h1v1h-1zM183.0 73.7h1v1h-1zM160.3 86.0h1v1h-1zM182.6 60.6h1v1h-1zM177.2 90.4h1v1h-1zM168.3 81.0h1v1h-1zM184.5 80.4h1v1h-1zM162.9 75.7h1v1h-1zM169.6 84.8h1v1h-1zM175.0 85.6h1v1h-1zM181.4 78.2h1v1h-1zM163.5 63.4h1v1h-1zM160.0 79.5h1v1h-1zM169.2 76.8h1v1h-1zM181.5 83.7h1v1h-1zM161.8 62.2h1v1h-1zM182.3 59.2h1v1h-1zM186.4 97.2h1v1h-1zM150.2 89.7h1v1h-1zM157.1 94.1h1v1h-1zM180.9 86.0h1v1h-1zM177.7 85.7h1v1h-1zM162.4 69.3h1v1h-1zM165.8 64.8h1v1h-1zM163.4 68.3h1v1h-1zM168.5 88.9h1v1h-1zM183.7 66.7h1v1h-1zM173.5 57.7h1v1h-1zM169.0 59.1h1v1h-1z" fill="#8482d0" fill-opacity="0.5"/>
<path d="M178.7 67.5h1v1h-1zM176.2 68.8h1v1h-1zM177.3 70.1h1v1h-1zM178.0 67.8h1v1h-1zM177.4 69.3h1v1h-1zM174.9 69.0h1v1h-1zM178.2 67.5h1v1h-1zM177.2 68.5h1v1h-1zM175.5 68.5h1v1h-1zM176.7 69.7h1v1h-1zM176.1 67.2h1v1h-1zM175.5 68.7h1v1h-1zM175.8 68.1h1v1h-1zM175.7 70.1h1v1h-1zM176.6 68.6h1v1h-1zM175.6 68.6h1v1h-1zM177.6 67.6h1v1h-1zM175.8 66.9h1v1h-1zM176.9 68.5h1v1h-1zM175.5 68.5h1v1h-1zM178.1 68.7h1v1h-1zM176.3 67.4h1v1h-1zM174.8 67.8h1v1h-1zM177.9 68.7h1v1h-1zM174.8 69.4h1v1h-1zM175.7 70.1h1v1h-1zM177.9 67.8h1v1h-1zM179.0 67.6h1v1h-1zM177.7 69.2h1v1h-1zM176.5 66.8h1v1h-1zM175.5 68.4h1v1h-1zM175.3 69.3h1v1h-1zM175.3 69.3h1v1h-1zM175.1 68.4h1v1h-1zM176.8 68.4h1v1h-1zM177.1 68.3h1v1h-1zM176.3 68.3h1v1h-1zM175.3 67.5h1v1h-1zM177.1 68.7h1v1h-1zM176.9 67.7h1v1h-1zM175.8 70.6h1v1h-1zM177.0 66.9h1v1h-1zM176.5 68.7h1v1h-1zM177.3 67.6h1v1h-1zM177.2 67.2h1v1h-1zM177.7 68.1h1v1h-1zM175.5 68.8h1v1h-1zM178.2 68.3h1v1h-1zM176.6 70.5h1v1h-1zM175.6 68.1h1v1h-1zM174.8 67.8h1v1h-1zM176.5 67.0h1v1h-1zM176.7 68.7h1v1h-1zM175.8 68.8h1v1h-1zM176.2 67.5h1v1h-1zM176.7 69.7h1v1h-1zM174.9 69.1h1v1h-1zM177.2 67.4h1v1h-1zM177.7 67.9h1v1h-1zM175.8 68.4h1v1h-1zM176.7 69.1h1v1h-1zM178.1 67.7h1v1h-1zM177.1 69.0h1v1h-1zM177.3 70.0h1v1h-1zM174.8 69.0h1v1h-1zM175.3 67.1h1v1h-1zM175.9 67.8h1v1h-1zM177.6 67.5h1v1h-1zM175.4 70.3h1v1h-1zM177.7 69.2h1v1h-1zM176.7 69.5h1v1h-1zM177.2 68.9h1v1h-1zM175.3 69.3h1v1h-1zM176.0 69.4h1v1h-1zM177.6 68.4h1v1h-1zM176.9 67.8h1v1h-1zM177.3 69.1h1v1h-1zM175.3 69.5h1v1h-1zM177.5 69.7h1v1h-1zM175.2 70.1h1v1h-1zM176.9 68.0h1v1h-1zM178.1 67.5h1v1h-1zM176.2 69.4h1v1h-1zM177.5 69.2h1v1h-1zM175.7 68.4h1v1h-1z" fill="#27a6e0" fill-opacity="0.95"/>
<path d="M178.0 69.1h1v1h-1zM175.8 64.8h1v1h-1zM178.9 70.0h1v1h-1zM174.1 69.1h1v1h-1zM176.0 65.5h1v1h-1zM177.1 65.8h1v1h-1zM179.2 65.7h1v1h-1zM177.5 64.8h1v1h-1zM178.8 67.6h1v1h-1zM179.1 69.2h1v1h-1zM179.8 66.2h1v1h-1zM179.2 69.1h1v1h-1zM178.1 64.0h1v1h-1zM176.9 63.8h1v1h-1zM174.7 68.5h1v1h-1zM175.8 63.5h1v1h-1zM175.7 71.7h1v1h-1zM173.2 66.1h1v1h-1zM175.0 66.1h1v1h-1zM174.4 68.9h1v1h-1zM176.0 71.6h1v1h-1zM179.3 66.4h1v1h-1zM175.9 71.7h1v1h-1zM173.0 68.8h1v1h-1zM178.6 64.3h1v1h-1zM174.3 68.9h1v1h-1zM178.5 64.6h1v1h-1zM174.5 68.2h1v1h-1zM174.8 71.3h1v1h-1zM175.7 63.7h1v1h-1zM178.1 64.6h1v1h-1zM179.8 64.5h1v1h-1zM180.0 65.9h1v1h-1zM177.6 70.6h1v1h-1zM178.2 68.9h1v1h-1zM177.7 64.9h1v1h-1zM173.7 69.3h1v1h-1zM173.0 68.1h1v1h-1zM176.4 65.2h1v1h-1zM178.5 70.6h1v1h-1zM173.7 68.0h1v1h-1zM175.7 65.9h1v1h-1zM177.3 66.2h1v1h-1zM176.5 64.9h1v1h-1zM173.8 66.9h1v1h-1zM176.7 65.8h1v1h-1zM179.1 69.5h1v1h-1zM178.4 64.8h1v1h-1zM176.1 71.0h1v1h-1zM172.7 68.4h1v1h-1zM179.3 63.7h1v1h-1zM179.7 66.1h1v1h-1zM178.6 67.1h1v1h-1zM177.1 66.1h1v1h-1zM179.5 67.8h1v1h-1zM178.9 67.0h1v1h-1zM174.1 69.0h1v1h-1zM174.3 68.7h1v1h-1zM174.3 68.8h1v1h-1zM179.5 68.8h1v1h-1zM179.8 69.2h1v1h-1zM175.5 65.8h1v1h-1zM174.6 71.3h1v1h-1zM175.6 63.4h1v1h-1zM176.3 64.7h1v1h-1zM173.9 68.0h1v1h-1zM176.5 71.5h1v1h-1zM177.1 65.0h1v1h-1zM174.9 66.4h1v1h-1zM178.6 66.3h1v1h-1zM176.5 71.8h1v1h-1zM175.7 66.5h1v1h-1zM179.7 65.3h1v1h-1zM176.9 71.5h1v1h-1zM178.5 66.5h1v1h-1zM178.5 70.3h1v1h-1zM174.1 70.5h1v1h-1zM176.2 71.3h1v1h-1zM177.5 70.5h1v1h-1zM179.7 64.2h1v1h-1zM178.3 70.2h1v1h-1zM178.7 67.3h1v1h-1zM178.3 69.6h1v1h-1zM178.1 69.6h1v1h-1zM177.0 66.1h1v1h-1zM178.3 70.9h1v1h-1zM179.6 64.0h1v1h-1zM175.1 62.8h1v1h-1zM177.8 66.5h1v1h-1zM178.4 65.9h1v1h-1zM179.8 67.0h1v1h-1zM173.5 68.6h1v1h-1zM176.3 71.4h1v1h-1zM179.5 69.5h1v1h-1zM180.1 67.3h1v1h-1zM174.2 69.9h1v1h-1zM179.9 64.8h1v1h-1zM173.8 66.9h1v1h-1zM179.8 65.7h1v1h-1zM177.0 66.1h1v1h-1zM174.0 67.2h1v1h-1zM179.8 66.3h1v1h-1zM178.1 66.7h1v1h-1zM177.7 70.6h1v1h-1zM176.4 70.9h1v1h-1zM180.0 66.9h1v1h-1zM174.6 70.7h1v1h-1zM179.7 65.5h1v1h-1zM178.9 69.4h1v1h-1zM177.9 66.4h1v1h-1zM173.0 68.2h1v1h-1zM177.7 70.7h1v1h-1zM177.1 65.2h1v1h-1zM175.2 66.8h1v1h-1zM176.6 71.7h1v1h-1zM175.1 65.6h1v1h-1zM178.9 64.7h1v1h-1zM178.0 65.3h1v1h-1zM179.2 68.8h1v1h-1zM176.4 64.3h1v1h-1zM174.7 69.4h1v1h-1zM179.4 66.1h1v1h-1zM174.9 66.8h1v1h-1zM179.4 66.1h1v1h-1zM175.8 64.3h1v1h-1zM178.8 64.1h1v1h-1zM173.8 70.0h1v1h-1zM174.7 63.4h1v1h-1zM174.6 66.6h1v1h-1zM177.9 66.2h1v1h-1zM174.6 70.0h1v1h-1zM177.6 66.0h1v1h-1zM179.3 66.0h1v1h-1zM179.9 65.2h1v1h-1zM178.1 64.3h1v1h-1zM177.6 63.9h1v1h-1zM178.5 66.6h1v1h-1zM176.4 64.3h1v1h-1zM174.1 68.9h1v1h-1zM177.6 65.3h1v1h-1zM175.2 71.3h1v1h-1zM173.9 71.1h1v1h-1zM180.1 66.0h1v1h-1zM173.9 66.6h1v1h-1zM174.9 65.6h1v1h-1zM179.9 64.4h1v1h-1zM178.0 64.7h1v1h-1zM177.8 66.5h1v1h-1zM179.5 69.6h1v1h-1zM172.4 68.2h1v1h-1zM177.0 71.0h1v1h-1zM180.0 66.9h1v1h-1zM178.1 64.0h1v1h-1zM174.7 69.0h1v1h-1zM180.2 65.8h1v1h-1zM173.2 67.2h1v1h-1zM179.6 68.1h1v1h-1zM176.4 66.1h1v1h-1z" fill="#3585d4" fill-opacity="0.9"/>
<path d="M202.6 68.6h1v1h-1zM204.4 81.0h1v1h-1zM220.4 87.2h1v1h-1zM215.6 62.8h1v1h-1zM200.9 57.2h1v1h-1zM194.6 68.2h1v1h-1zM193.8 72.7h1v1h-1zM192.1 78.6h1v1h-1zM202.5 65.1h1v1h-1zM212.6 67.8h1v1h-1zM188.1 84.7h1v1h-1zM215.2 86.0h1v1h-1zM198.1 65.7h1v1h-1zM213.0 61.8h1v1h-1zM223.1 78.6h1v1h-1zM207.5 58.7h1v1h-1zM197.7 71.0h1v1h-1zM223.6 61.8h1v1h-1zM209.2 59.6h1v1h-1zM223.2 81.7h1v1h-1zM217.3 81.7h1v1h-1zM193.9 65.0h1v1h-1zM188.7 75.2h1v1h-1zM190.2 63.2h1v1h-1zM193.7 87.4h1v1h-1z" fill="#9a96da" fill-opacity="0.5"/>
<rect x="145.6" y="18.4" width="81.70" height="81.10" fill="none" stroke="#a8a8a8" stroke-width="0.9"/>
<line x1="145.60" y1="54.80" x2="227.30" y2="54.80" stroke="#505050" stroke-width="1.0" />
<line x1="186.10" y1="18.40" x2="186.10" y2="99.50" stroke="#505050" stroke-width="1.0" />
<line x1="143.60" y1="99.50" x2="145.60" y2="99.50" stroke="#444" stroke-width="0.9" />
<text x="141.00" y="102.10" font-size="7.2" text-anchor="end" font-weight="normal" fill="#231f20" >10<tspan font-size="5.2" dy="-3">0</tspan></text>
<line x1="143.60" y1="85.98" x2="145.60" y2="85.98" stroke="#444" stroke-width="0.9" />
<text x="141.00" y="88.58" font-size="7.2" text-anchor="end" font-weight="normal" fill="#231f20" >10<tspan font-size="5.2" dy="-3">1</tspan></text>
<line x1="143.60" y1="72.46" x2="145.60" y2="72.46" stroke="#444" stroke-width="0.9" />
<text x="141.00" y="75.06" font-size="7.2" text-anchor="end" font-weight="normal" fill="#231f20" >10<tspan font-size="5.2" dy="-3">2</tspan></text>
<line x1="143.60" y1="58.94" x2="145.60" y2="58.94" stroke="#444" stroke-width="0.9" />
<text x="141.00" y="61.54" font-size="7.2" text-anchor="end" font-weight="normal" fill="#231f20" >10<tspan font-size="5.2" dy="-3">3</tspan></text>
<line x1="143.60" y1="45.42" x2="145.60" y2="45.42" stroke="#444" stroke-width="0.9" />
<text x="141.00" y="48.02" font-size="7.2" text-anchor="end" font-weight="normal" fill="#231f20" >10<tspan font-size="5.2" dy="-3">4</tspan></text>
<line x1="143.60" y1="31.90" x2="145.60" y2="31.90" stroke="#444" stroke-width="0.9" />
<text x="141.00" y="34.50" font-size="7.2" text-anchor="end" font-weight="normal" fill="#231f20" >10<tspan font-size="5.2" dy="-3">5</tspan></text>
<line x1="143.60" y1="18.38" x2="145.60" y2="18.38" stroke="#444" stroke-width="0.9" />
<text x="141.00" y="20.98" font-size="7.2" text-anchor="end" font-weight="normal" fill="#231f20" >10<tspan font-size="5.2" dy="-3">6</tspan></text>
<line x1="145.60" y1="99.50" x2="145.60" y2="101.30" stroke="#444" stroke-width="0.9" />
<text x="148.20" y="110.30" font-size="7.2" text-anchor="middle" font-weight="normal" fill="#231f20" >10<tspan font-size="5.2" dy="-3">0</tspan></text>
<line x1="159.22" y1="99.50" x2="159.22" y2="101.30" stroke="#444" stroke-width="0.9" />
<text x="160.70" y="110.30" font-size="7.2" text-anchor="middle" font-weight="normal" fill="#231f20" >10<tspan font-size="5.2" dy="-3">1</tspan></text>
<line x1="172.84" y1="99.50" x2="172.84" y2="101.30" stroke="#444" stroke-width="0.9" />
<text x="172.80" y="110.30" font-size="7.2" text-anchor="middle" font-weight="normal" fill="#231f20" >10<tspan font-size="5.2" dy="-3">2</tspan></text>
<line x1="186.46" y1="99.50" x2="186.46" y2="101.30" stroke="#444" stroke-width="0.9" />
<text x="189.00" y="110.30" font-size="7.2" text-anchor="middle" font-weight="normal" fill="#231f20" >10<tspan font-size="5.2" dy="-3">3</tspan></text>
<line x1="200.08" y1="99.50" x2="200.08" y2="101.30" stroke="#444" stroke-width="0.9" />
<text x="200.10" y="110.30" font-size="7.2" text-anchor="middle" font-weight="normal" fill="#231f20" >10<tspan font-size="5.2" dy="-3">4</tspan></text>
<line x1="213.70" y1="99.50" x2="213.70" y2="101.30" stroke="#444" stroke-width="0.9" />
<text x="212.40" y="110.30" font-size="7.2" text-anchor="middle" font-weight="normal" fill="#231f20" >10<tspan font-size="5.2" dy="-3">5</tspan></text>
<line x1="227.32" y1="99.50" x2="227.32" y2="101.30" stroke="#444" stroke-width="0.9" />
<text x="226.00" y="110.30" font-size="7.2" text-anchor="middle" font-weight="normal" fill="#231f20" >10<tspan font-size="5.2" dy="-3">6</tspan></text>
<text x="185.70" y="13.00" font-size="8.1" text-anchor="middle" font-weight="normal" fill="#231f20" >Day 7</text>
<text x="148.90" y="27.70" font-size="8.0" text-anchor="start" font-weight="normal" fill="#231f20" >0.12%</text>
<text x="224.30" y="27.70" font-size="8.0" text-anchor="end" font-weight="normal" fill="#231f20" >0.039%</text>
<text x="224.30" y="96.60" font-size="8.0" text-anchor="end" font-weight="normal" fill="#231f20" >1.25%</text>
<path d="M285.0 95.1h1v1h-1zM293.5 84.2h1v1h-1zM291.3 86.3h1v1h-1zM295.5 77.8h1v1h-1zM272.8 78.0h1v1h-1zM286.8 57.3h1v1h-1zM281.3 57.5h1v1h-1zM294.5 75.3h1v1h-1zM284.5 87.6h1v1h-1zM262.3 88.4h1v1h-1zM261.9 77.6h1v1h-1zM294.1 86.9h1v1h-1zM272.1 65.5h1v1h-1zM275.4 83.6h1v1h-1zM267.2 80.9h1v1h-1zM273.7 67.0h1v1h-1zM274.3 77.5h1v1h-1zM295.5 81.9h1v1h-1zM294.6 79.6h1v1h-1zM289.8 85.2h1v1h-1zM268.7 90.2h1v1h-1zM272.9 92.5h1v1h-1zM296.2 60.4h1v1h-1zM275.8 78.4h1v1h-1zM258.6 63.5h1v1h-1zM272.7 95.8h1v1h-1zM279.2 79.8h1v1h-1zM273.6 62.5h1v1h-1zM259.4 86.0h1v1h-1zM273.0 68.5h1v1h-1zM265.5 68.0h1v1h-1zM261.6 72.3h1v1h-1zM274.6 77.1h1v1h-1zM266.8 68.0h1v1h-1zM290.0 59.0h1v1h-1zM267.3 66.8h1v1h-1zM276.8 76.2h1v1h-1zM260.8 76.7h1v1h-1zM262.9 58.8h1v1h-1zM261.4 94.4h1v1h-1zM284.4 95.4h1v1h-1zM281.6 56.9h1v1h-1zM273.2 69.9h1v1h-1zM289.2 57.4h1v1h-1zM287.7 57.9h1v1h-1zM279.2 58.9h1v1h-1zM301.9 68.4h1v1h-1zM285.2 94.1h1v1h-1zM289.5 96.1h1v1h-1zM283.5 82.4h1v1h-1zM292.4 80.1h1v1h-1zM265.7 69.2h1v1h-1zM294.1 93.0h1v1h-1zM288.3 87.1h1v1h-1zM273.6 68.1h1v1h-1zM284.8 55.1h1v1h-1zM294.9 59.7h1v1h-1zM293.3 76.9h1v1h-1zM273.0 65.9h1v1h-1zM275.4 74.9h1v1h-1zM294.4 74.9h1v1h-1zM259.5 71.6h1v1h-1zM295.2 74.1h1v1h-1zM281.0 87.4h1v1h-1zM273.8 63.3h1v1h-1zM286.8 86.1h1v1h-1zM283.1 96.5h1v1h-1zM265.7 88.2h1v1h-1zM285.5 87.0h1v1h-1zM290.9 76.9h1v1h-1zM285.3 88.3h1v1h-1zM273.6 77.2h1v1h-1zM277.6 61.0h1v1h-1zM259.2 96.2h1v1h-1zM266.4 75.2h1v1h-1zM281.9 57.4h1v1h-1zM272.4 72.1h1v1h-1zM293.0 86.9h1v1h-1zM265.5 68.7h1v1h-1zM296.4 59.6h1v1h-1zM279.4 75.7h1v1h-1zM291.1 82.4h1v1h-1zM296.5 60.7h1v1h-1zM272.8 68.5h1v1h-1zM277.4 87.5h1v1h-1zM271.3 78.7h1v1h-1zM267.0 71.4h1v1h-1zM271.0 65.9h1v1h-1zM261.1 70.5h1v1h-1zM272.7 69.9h1v1h-1zM285.9 57.5h1v1h-1zM264.6 86.2h1v1h-1zM293.5 91.4h1v1h-1zM265.4 67.1h1v1h-1zM295.7 73.5h1v1h-1zM277.3 75.1h1v1h-1zM276.6 85.6h1v1h-1zM294.7 75.2h1v1h-1zM293.3 58.3h1v1h-1zM261.8 67.7h1v1h-1zM292.0 83.7h1v1h-1zM297.4 83.6h1v1h-1zM279.8 79.2h1v1h-1zM270.7 65.5h1v1h-1zM260.9 76.4h1v1h-1zM272.4 56.9h1v1h-1zM276.0 77.2h1v1h-1zM271.0 95.7h1v1h-1zM279.7 84.5h1v1h-1zM272.7 74.2h1v1h-1zM290.9 96.1h1v1h-1zM274.3 97.0h1v1h-1zM275.5 72.1h1v1h-1zM262.3 57.8h1v1h-1zM266.4 90.0h1v1h-1zM287.3 84.1h1v1h-1zM273.5 66.3h1v1h-1zM265.1 70.9h1v1h-1zM292.1 83.4h1v1h-1zM264.7 80.5h1v1h-1zM275.7 74.3h1v1h-1zM279.4 73.9h1v1h-1zM291.3 76.9h1v1h-1zM270.5 77.0h1v1h-1zM279.5 81.2h1v1h-1zM273.9 62.9h1v1h-1zM292.0 76.7h1v1h-1zM288.7 84.5h1v1h-1zM293.9 84.2h1v1h-1zM277.0 60.4h1v1h-1zM260.7 70.0h1v1h-1zM286.4 88.4h1v1h-1zM267.8 73.0h1v1h-1zM275.9 73.6h1v1h-1zM277.5 61.2h1v1h-1zM296.1 89.2h1v1h-1zM282.8 84.5h1v1h-1zM278.9 86.2h1v1h-1zM268.7 70.0h1v1h-1zM264.5 62.0h1v1h-1zM296.7 63.9h1v1h-1zM296.9 74.7h1v1h-1zM267.1 68.5h1v1h-1zM288.2 88.2h1v1h-1zM293.3 57.1h1v1h-1zM265.0 58.0h1v1h-1zM270.4 75.2h1v1h-1zM270.7 78.9h1v1h-1zM284.5 85.5h1v1h-1zM278.5 96.2h1v1h-1zM294.5 76.4h1v1h-1zM264.4 74.7h1v1h-1zM274.4 62.1h1v1h-1zM286.4 86.2h1v1h-1zM295.4 79.7h1v1h-1zM294.7 91.3h1v1h-1zM289.7 94.8h1v1h-1zM275.7 94.5h1v1h-1zM272.2 64.7h1v1h-1zM270.7 73.2h1v1h-1zM290.7 90.1h1v1h-1zM267.8 59.1h1v1h-1zM290.5 88.5h1v1h-1zM291.7 78.0h1v1h-1zM286.0 90.7h1v1h-1zM291.1 94.3h1v1h-1zM272.5 80.7h1v1h-1zM293.9 86.4h1v1h-1zM281.7 90.5h1v1h-1zM278.4 57.6h1v1h-1zM278.9 95.3h1v1h-1zM261.1 63.0h1v1h-1zM276.7 60.7h1v1h-1zM266.7 58.9h1v1h-1zM276.7 72.8h1v1h-1zM268.8 69.2h1v1h-1zM297.6 68.2h1v1h-1zM283.7 93.3h1v1h-1zM272.5 95.7h1v1h-1zM269.5 88.2h1v1h-1zM267.1 72.9h1v1h-1zM290.5 84.5h1v1h-1zM290.3 94.7h1v1h-1zM273.1 79.0h1v1h-1zM271.9 57.2h1v1h-1zM268.7 61.3h1v1h-1zM275.5 59.5h1v1h-1zM282.5 84.4h1v1h-1zM279.2 79.2h1v1h-1zM267.0 64.8h1v1h-1zM274.0 67.6h1v1h-1zM263.5 67.2h1v1h-1zM260.9 73.6h1v1h-1zM275.5 58.5h1v1h-1zM271.2 60.4h1v1h-1zM279.3 80.7h1v1h-1zM270.8 66.4h1v1h-1zM272.0 63.7h1v1h-1zM274.5 61.8h1v1h-1zM290.9 79.1h1v1h-1zM289.8 95.4h1v1h-1zM302.1 62.8h1v1h-1zM277.8 83.7h1v1h-1zM275.5 94.2h1v1h-1zM297.2 71.7h1v1h-1zM280.5 76.7h1v1h-1zM289.5 58.6h1v1h-1zM276.4 88.5h1v1h-1zM292.0 82.4h1v1h-1zM285.4 88.0h1v1h-1zM269.6 87.1h1v1h-1zM276.8 89.5h1v1h-1zM270.0 69.6h1v1h-1zM273.9 72.4h1v1h-1zM291.3 81.9h1v1h-1zM267.2 57.3h1v1h-1zM274.9 72.8h1v1h-1zM290.5 86.8h1v1h-1zM273.5 79.7h1v1h-1zM294.9 91.0h1v1h-1zM259.0 89.3h1v1h-1zM269.6 68.7h1v1h-1zM285.0 85.5h1v1h-1zM266.9 96.0h1v1h-1zM271.9 63.8h1v1h-1zM282.8 86.7h1v1h-1zM266.0 63.2h1v1h-1zM266.8 76.3h1v1h-1zM291.5 86.0h1v1h-1zM292.2 58.0h1v1h-1zM296.5 62.0h1v1h-1zM262.6 67.2h1v1h-1zM268.0 66.0h1v1h-1zM273.1 93.4h1v1h-1zM295.6 83.8h1v1h-1zM278.7 77.9h1v1h-1zM264.1 86.8h1v1h-1zM296.1 69.0h1v1h-1zM292.8 59.7h1v1h-1zM296.2 72.1h1v1h-1zM295.7 86.9h1v1h-1zM291.3 82.3h1v1h-1zM286.1 93.7h1v1h-1zM271.1 58.0h1v1h-1zM284.6 58.0h1v1h-1zM259.8 73.9h1v1h-1zM294.0 91.7h1v1h-1zM273.0 60.8h1v1h-1zM270.5 83.9h1v1h-1zM293.0 85.3h1v1h-1zM270.7 64.7h1v1h-1zM260.5 69.3h1v1h-1zM263.7 80.6h1v1h-1zM287.0 94.6h1v1h-1zM283.4 94.0h1v1h-1zM293.9 81.3h1v1h-1zM291.9 76.7h1v1h-1zM289.6 58.9h1v1h-1zM290.1 93.9h1v1h-1zM280.5 80.7h1v1h-1zM271.9 82.4h1v1h-1zM279.1 56.9h1v1h-1zM288.0 85.2h1v1h-1zM295.9 61.1h1v1h-1zM297.7 67.2h1v1h-1zM261.7 58.0h1v1h-1zM260.4 66.0h1v1h-1zM296.4 62.8h1v1h-1zM270.5 76.6h1v1h-1zM264.1 66.8h1v1h-1zM281.0 55.9h1v1h-1zM277.5 74.2h1v1h-1zM284.1 85.0h1v1h-1zM274.6 89.6h1v1h-1zM280.5 84.6h1v1h-1zM283.5 86.3h1v1h-1zM272.4 69.1h1v1h-1zM291.1 93.0h1v1h-1zM264.2 75.5h1v1h-1zM284.1 95.3h1v1h-1zM278.0 57.9h1v1h-1zM269.9 63.8h1v1h-1zM261.8 90.7h1v1h-1zM295.4 72.9h1v1h-1zM283.7 56.6h1v1h-1zM292.1 79.4h1v1h-1zM275.1 70.3h1v1h-1zM277.1 91.3h1v1h-1zM268.0 81.2h1v1h-1zM276.9 74.2h1v1h-1zM292.2 94.5h1v1h-1zM269.5 64.3h1v1h-1zM288.6 58.3h1v1h-1zM272.9 66.4h1v1h-1zM266.5 77.5h1v1h-1zM280.9 89.1h1v1h-1zM296.6 63.1h1v1h-1zM287.8 84.8h1v1h-1zM264.8 67.5h1v1h-1zM274.4 60.7h1v1h-1zM281.5 57.5h1v1h-1zM271.6 73.5h1v1h-1zM285.4 94.6h1v1h-1zM296.4 94.7h1v1h-1zM260.9 85.5h1v1h-1zM266.0 64.9h1v1h-1zM284.0 84.1h1v1h-1zM262.3 91.0h1v1h-1zM259.9 74.3h1v1h-1zM277.0 79.6h1v1h-1zM274.8 71.1h1v1h-1zM272.2 66.5h1v1h-1zM285.5 90.9h1v1h-1zM288.7 89.7h1v1h-1zM278.0 78.3h1v1h-1zM267.4 74.3h1v1h-1zM286.9 84.7h1v1h-1zM259.7 63.7h1v1h-1zM295.5 74.7h1v1h-1zM274.8 61.4h1v1h-1zM271.1 84.7h1v1h-1zM263.4 87.2h1v1h-1zM292.1 77.8h1v1h-1zM281.1 82.0h1v1h-1zM302.5 68.7h1v1h-1zM289.8 57.5h1v1h-1zM281.0 84.9h1v1h-1zM266.0 84.1h1v1h-1zM265.5 75.9h1v1h-1zM273.0 64.3h1v1h-1zM287.3 58.4h1v1h-1zM295.3 85.4h1v1h-1zM278.2 58.0h1v1h-1zM288.9 84.1h1v1h-1zM285.7 83.6h1v1h-1zM276.7 76.2h1v1h-1zM289.3 76.8h1v1h-1zM259.7 85.4h1v1h-1zM280.9 86.7h1v1h-1zM267.1 94.7h1v1h-1zM296.7 63.2h1v1h-1zM284.3 97.3h1v1h-1zM274.1 69.4h1v1h-1zM296.5 68.4h1v1h-1zM285.8 90.6h1v1h-1zM290.4 57.6h1v1h-1zM266.0 60.6h1v1h-1zM263.3 80.8h1v1h-1zM272.0 71.5h1v1h-1zM274.3 62.0h1v1h-1zM284.3 83.5h1v1h-1zM277.8 75.4h1v1h-1zM274.1 70.9h1v1h-1zM280.2 96.9h1v1h-1zM289.3 88.1h1v1h-1zM280.8 76.3h1v1h-1zM274.3 85.8h1v1h-1zM288.2 76.8h1v1h-1zM295.2 74.5h1v1h-1zM273.4 66.1h1v1h-1zM295.9 59.3h1v1h-1zM283.8 58.4h1v1h-1zM262.3 73.3h1v1h-1zM265.7 93.4h1v1h-1zM266.4 79.4h1v1h-1zM297.7 63.1h1v1h-1zM258.5 58.7h1v1h-1zM266.7 85.1h1v1h-1z" fill="#8482d0" fill-opacity="0.5"/>
<path d="M290.7 69.2h1v1h-1zM283.0 61.1h1v1h-1zM285.9 72.4h1v1h-1zM281.8 62.3h1v1h-1zM279.2 69.0h1v1h-1zM279.8 65.2h1v1h-1zM289.9 71.7h1v1h-1zM293.8 68.4h1v1h-1zM288.9 61.5h1v1h-1zM284.9 73.7h1v1h-1zM289.3 71.4h1v1h-1zM281.1 71.5h1v1h-1zM287.9 73.1h1v1h-1zM278.9 65.2h1v1h-1zM284.9 74.8h1v1h-1zM277.5 68.6h1v1h-1zM285.4 75.9h1v1h-1zM286.7 69.4h1v1h-1zM292.5 71.0h1v1h-1zM288.7 71.9h1v1h-1zM282.7 70.1h1v1h-1zM292.4 65.9h1v1h-1zM282.7 71.0h1v1h-1zM290.0 71.5h1v1h-1zM286.9 61.5h1v1h-1zM282.4 61.5h1v1h-1zM289.5 73.4h1v1h-1zM286.1 74.6h1v1h-1zM292.4 63.6h1v1h-1zM281.7 69.6h1v1h-1zM281.0 70.0h1v1h-1zM283.0 61.8h1v1h-1zM280.3 62.6h1v1h-1zM281.1 62.1h1v1h-1zM290.8 73.2h1v1h-1zM285.7 70.1h1v1h-1zM280.7 61.9h1v1h-1zM289.9 61.9h1v1h-1zM284.0 60.5h1v1h-1zM285.2 75.6h1v1h-1zM284.9 71.3h1v1h-1zM290.1 70.0h1v1h-1zM291.2 69.3h1v1h-1zM279.0 65.5h1v1h-1zM287.6 74.4h1v1h-1zM291.9 63.1h1v1h-1zM292.1 65.8h1v1h-1zM288.0 62.0h1v1h-1zM288.9 72.4h1v1h-1zM279.6 68.3h1v1h-1zM292.3 69.2h1v1h-1zM279.8 66.0h1v1h-1zM280.7 62.9h1v1h-1zM292.8 62.9h1v1h-1zM291.8 64.1h1v1h-1zM292.9 65.7h1v1h-1zM289.5 71.2h1v1h-1zM286.9 74.2h1v1h-1zM286.0 74.9h1v1h-1zM286.2 71.1h1v1h-1zM285.2 68.9h1v1h-1zM283.9 70.0h1v1h-1zM284.4 61.3h1v1h-1zM287.0 71.7h1v1h-1zM279.6 69.8h1v1h-1zM284.3 61.7h1v1h-1zM288.8 72.1h1v1h-1zM289.5 61.8h1v1h-1zM291.7 61.8h1v1h-1zM286.5 73.8h1v1h-1zM282.0 67.8h1v1h-1zM291.2 71.2h1v1h-1zM291.5 64.7h1v1h-1zM286.5 73.1h1v1h-1zM285.4 62.2h1v1h-1zM278.3 64.9h1v1h-1zM281.2 68.2h1v1h-1zM290.6 62.1h1v1h-1zM277.1 65.1h1v1h-1zM292.9 70.7h1v1h-1zM293.1 65.9h1v1h-1zM278.3 66.3h1v1h-1zM280.4 71.0h1v1h-1zM286.6 72.8h1v1h-1zM284.6 61.6h1v1h-1zM288.7 71.8h1v1h-1zM279.3 67.4h1v1h-1zM282.0 68.9h1v1h-1zM279.5 66.8h1v1h-1zM284.1 74.4h1v1h-1zM280.0 63.3h1v1h-1zM281.7 60.9h1v1h-1zM282.5 70.4h1v1h-1zM282.0 62.0h1v1h-1zM284.2 60.9h1v1h-1zM291.4 72.7h1v1h-1zM285.3 62.7h1v1h-1zM285.9 72.7h1v1h-1zM291.2 73.2h1v1h-1zM288.4 72.9h1v1h-1zM282.4 68.0h1v1h-1zM279.0 67.6h1v1h-1zM282.1 69.2h1v1h-1zM291.2 71.5h1v1h-1zM285.9 69.9h1v1h-1zM277.2 64.7h1v1h-1zM289.6 61.9h1v1h-1zM286.7 73.9h1v1h-1zM285.4 72.2h1v1h-1zM286.1 70.5h1v1h-1zM279.2 68.0h1v1h-1zM281.1 63.0h1v1h-1zM291.3 63.7h1v1h-1zM284.1 70.8h1v1h-1zM280.1 66.2h1v1h-1zM281.3 68.6h1v1h-1zM291.5 62.7h1v1h-1zM287.1 61.3h1v1h-1zM290.4 69.2h1v1h-1zM282.9 61.4h1v1h-1zM287.7 62.8h1v1h-1zM288.0 71.9h1v1h-1zM278.1 64.5h1v1h-1zM292.9 63.8h1v1h-1zM290.8 63.0h1v1h-1zM292.3 64.4h1v1h-1zM287.3 72.8h1v1h-1zM282.6 61.7h1v1h-1zM277.8 69.6h1v1h-1zM292.3 72.1h1v1h-1zM278.3 69.0h1v1h-1zM290.4 63.5h1v1h-1zM290.5 71.7h1v1h-1zM285.1 60.8h1v1h-1zM287.2 72.7h1v1h-1zM279.3 67.2h1v1h-1zM281.1 62.8h1v1h-1zM291.5 68.9h1v1h-1zM279.3 64.4h1v1h-1zM290.5 62.6h1v1h-1zM293.3 66.5h1v1h-1zM285.4 75.5h1v1h-1zM290.6 63.7h1v1h-1zM284.4 74.6h1v1h-1zM292.9 69.8h1v1h-1zM278.7 64.1h1v1h-1zM279.1 70.0h1v1h-1zM290.0 66.0h1v1h-1zM289.8 71.1h1v1h-1zM292.4 69.4h1v1h-1zM278.8 67.1h1v1h-1zM279.9 67.6h1v1h-1zM280.7 70.7h1v1h-1zM285.1 72.3h1v1h-1zM282.7 69.1h1v1h-1zM293.0 67.1h1v1h-1zM286.6 73.8h1v1h-1zM291.7 66.1h1v1h-1zM282.0 67.6h1v1h-1zM280.0 69.0h1v1h-1zM284.1 75.0h1v1h-1zM281.6 68.2h1v1h-1zM278.2 67.1h1v1h-1zM293.7 67.7h1v1h-1zM286.2 75.1h1v1h-1zM292.8 70.5h1v1h-1zM279.4 67.7h1v1h-1zM287.3 69.9h1v1h-1zM279.1 66.6h1v1h-1zM287.4 72.9h1v1h-1zM279.8 70.1h1v1h-1zM290.5 67.5h1v1h-1zM286.4 62.2h1v1h-1zM278.4 63.4h1v1h-1zM284.5 69.0h1v1h-1zM283.4 61.0h1v1h-1zM283.0 70.8h1v1h-1zM284.1 73.0h1v1h-1zM290.9 69.9h1v1h-1zM285.8 61.2h1v1h-1zM277.9 66.9h1v1h-1zM280.4 71.5h1v1h-1zM284.5 68.6h1v1h-1zM289.7 72.7h1v1h-1zM285.4 62.0h1v1h-1zM280.4 70.5h1v1h-1zM287.3 73.2h1v1h-1zM281.1 70.3h1v1h-1zM279.3 63.1h1v1h-1zM290.9 73.3h1v1h-1zM285.6 61.2h1v1h-1zM277.1 65.7h1v1h-1zM281.3 71.6h1v1h-1zM284.0 68.0h1v1h-1zM285.4 75.3h1v1h-1zM278.9 68.8h1v1h-1zM286.7 71.1h1v1h-1zM292.2 67.1h1v1h-1zM282.2 68.0h1v1h-1zM288.0 71.5h1v1h-1zM290.4 71.6h1v1h-1zM285.6 75.0h1v1h-1zM286.8 74.4h1v1h-1zM278.3 66.6h1v1h-1zM291.0 64.1h1v1h-1zM280.2 70.3h1v1h-1zM279.9 69.6h1v1h-1zM279.6 66.6h1v1h-1zM286.7 75.5h1v1h-1zM287.6 73.3h1v1h-1zM289.6 72.7h1v1h-1zM291.7 63.2h1v1h-1zM291.1 66.7h1v1h-1zM278.4 65.8h1v1h-1zM284.0 70.4h1v1h-1zM291.7 72.2h1v1h-1zM291.8 65.7h1v1h-1zM279.4 64.6h1v1h-1zM288.5 62.4h1v1h-1zM282.1 70.6h1v1h-1zM279.4 64.1h1v1h-1zM291.5 69.1h1v1h-1zM290.5 69.0h1v1h-1zM285.1 71.7h1v1h-1zM291.6 68.7h1v1h-1zM281.4 71.0h1v1h-1zM291.8 63.2h1v1h-1zM279.5 69.8h1v1h-1zM281.0 65.6h1v1h-1zM278.4 70.7h1v1h-1zM285.0 70.0h1v1h-1zM290.9 62.5h1v1h-1zM281.9 68.0h1v1h-1zM290.9 70.3h1v1h-1zM282.3 68.0h1v1h-1zM282.7 68.9h1v1h-1zM282.2 69.1h1v1h-1zM292.3 67.1h1v1h-1zM279.5 65.4h1v1h-1zM282.6 69.4h1v1h-1zM284.9 74.8h1v1h-1zM285.0 62.2h1v1h-1zM290.3 67.3h1v1h-1zM292.5 64.7h1v1h-1zM283.6 61.2h1v1h-1zM289.3 62.2h1v1h-1zM280.7 63.8h1v1h-1zM284.9 74.8h1v1h-1zM291.7 64.8h1v1h-1zM292.0 67.5h1v1h-1zM291.1 62.5h1v1h-1zM293.3 67.4h1v1h-1zM290.7 67.1h1v1h-1zM285.6 76.7h1v1h-1zM289.6 71.8h1v1h-1zM284.6 74.8h1v1h-1zM291.0 70.8h1v1h-1zM283.0 69.3h1v1h-1zM291.6 66.1h1v1h-1zM281.5 68.2h1v1h-1zM293.3 68.7h1v1h-1zM280.4 68.3h1v1h-1zM292.0 67.2h1v1h-1zM277.8 64.7h1v1h-1zM278.5 66.1h1v1h-1zM291.7 63.8h1v1h-1zM284.1 68.2h1v1h-1zM293.2 64.4h1v1h-1zM284.6 72.7h1v1h-1zM277.6 67.2h1v1h-1zM278.0 65.1h1v1h-1zM279.3 71.2h1v1h-1zM285.6 70.6h1v1h-1zM290.1 71.0h1v1h-1zM284.6 74.4h1v1h-1zM277.9 70.7h1v1h-1zM279.5 70.5h1v1h-1zM286.5 75.1h1v1h-1zM279.0 65.1h1v1h-1zM282.3 62.5h1v1h-1zM279.9 70.7h1v1h-1zM289.4 71.7h1v1h-1zM282.2 61.4h1v1h-1zM290.6 62.8h1v1h-1zM291.3 63.7h1v1h-1zM282.7 61.1h1v1h-1zM292.3 69.2h1v1h-1zM293.6 68.4h1v1h-1zM285.8 74.8h1v1h-1zM284.1 71.9h1v1h-1zM279.2 69.5h1v1h-1zM290.4 63.4h1v1h-1zM290.4 62.7h1v1h-1zM291.2 66.4h1v1h-1zM290.9 68.5h1v1h-1zM285.6 74.7h1v1h-1zM280.8 62.2h1v1h-1zM278.6 65.2h1v1h-1zM291.0 63.5h1v1h-1zM285.3 61.1h1v1h-1zM291.0 68.1h1v1h-1zM290.7 63.5h1v1h-1zM279.1 70.3h1v1h-1zM291.0 72.3h1v1h-1zM283.9 73.0h1v1h-1zM287.0 73.5h1v1h-1zM279.6 70.5h1v1h-1zM293.5 68.5h1v1h-1zM293.5 67.6h1v1h-1zM292.5 70.0h1v1h-1zM279.6 70.6h1v1h-1zM278.8 68.0h1v1h-1z" fill="#3a66c4" fill-opacity="0.85"/>
<path d="M284.1 62.8h1v1h-1zM282.3 64.0h1v1h-1zM282.5 66.7h1v1h-1zM281.1 64.7h1v1h-1zM283.7 67.8h1v1h-1zM281.5 64.2h1v1h-1zM281.9 64.8h1v1h-1zM288.2 70.3h1v1h-1zM288.1 64.1h1v1h-1zM290.1 66.4h1v1h-1zM286.1 63.3h1v1h-1zM288.9 64.7h1v1h-1zM286.3 68.5h1v1h-1zM283.4 63.1h1v1h-1zM290.3 65.4h1v1h-1zM285.9 73.4h1v1h-1zM286.0 63.2h1v1h-1zM289.3 62.7h1v1h-1zM281.1 69.6h1v1h-1zM288.1 68.8h1v1h-1zM284.8 63.9h1v1h-1zM289.9 66.3h1v1h-1zM281.5 65.3h1v1h-1zM284.6 67.7h1v1h-1zM280.4 66.3h1v1h-1zM283.5 66.3h1v1h-1zM286.2 72.9h1v1h-1zM283.4 63.0h1v1h-1zM281.1 64.8h1v1h-1zM285.6 63.5h1v1h-1zM289.6 63.0h1v1h-1zM287.9 63.4h1v1h-1zM287.6 69.5h1v1h-1zM283.9 67.7h1v1h-1zM282.4 65.0h1v1h-1zM284.2 63.8h1v1h-1zM289.4 68.0h1v1h-1zM282.5 65.4h1v1h-1zM290.2 66.8h1v1h-1zM287.7 69.0h1v1h-1zM288.9 65.0h1v1h-1zM284.7 73.8h1v1h-1zM285.5 73.8h1v1h-1zM282.9 66.9h1v1h-1zM287.5 69.2h1v1h-1zM287.4 69.4h1v1h-1zM284.9 63.7h1v1h-1zM283.8 66.6h1v1h-1zM289.6 65.2h1v1h-1zM288.6 65.2h1v1h-1zM288.9 64.2h1v1h-1zM282.6 65.9h1v1h-1zM281.2 69.5h1v1h-1zM289.2 65.0h1v1h-1zM288.7 63.0h1v1h-1zM285.4 63.6h1v1h-1zM289.9 68.9h1v1h-1zM282.4 66.8h1v1h-1zM282.8 68.6h1v1h-1zM282.3 64.8h1v1h-1zM289.8 69.6h1v1h-1zM289.0 65.2h1v1h-1zM288.0 62.9h1v1h-1zM289.6 70.4h1v1h-1zM283.1 67.3h1v1h-1zM280.9 65.9h1v1h-1zM281.5 64.2h1v1h-1zM283.7 66.2h1v1h-1zM282.9 66.4h1v1h-1zM286.0 63.1h1v1h-1zM281.7 64.5h1v1h-1zM282.2 66.5h1v1h-1zM282.5 64.5h1v1h-1zM282.7 63.7h1v1h-1zM286.3 63.3h1v1h-1zM282.6 63.8h1v1h-1zM288.1 70.4h1v1h-1zM288.7 65.2h1v1h-1zM290.3 63.7h1v1h-1zM290.0 67.7h1v1h-1zM283.0 64.5h1v1h-1zM288.9 64.7h1v1h-1zM282.3 62.7h1v1h-1zM288.2 64.1h1v1h-1zM281.7 65.8h1v1h-1zM284.6 63.4h1v1h-1zM289.0 64.9h1v1h-1zM288.1 69.6h1v1h-1zM285.4 73.6h1v1h-1zM281.5 63.5h1v1h-1zM282.7 66.6h1v1h-1zM288.0 68.8h1v1h-1zM282.6 63.7h1v1h-1zM288.4 70.0h1v1h-1zM290.6 67.4h1v1h-1zM288.1 64.1h1v1h-1zM286.4 68.7h1v1h-1zM286.4 73.3h1v1h-1zM280.5 66.0h1v1h-1zM289.0 68.6h1v1h-1zM281.6 65.6h1v1h-1zM290.6 64.7h1v1h-1zM285.2 74.0h1v1h-1zM284.6 67.7h1v1h-1zM289.1 65.0h1v1h-1zM281.0 68.7h1v1h-1zM287.3 64.1h1v1h-1zM287.8 64.5h1v1h-1zM284.6 62.0h1v1h-1zM290.2 65.7h1v1h-1zM284.3 63.7h1v1h-1zM284.9 63.5h1v1h-1zM289.2 68.1h1v1h-1zM281.5 65.4h1v1h-1zM285.9 69.7h1v1h-1zM283.3 65.5h1v1h-1zM288.6 70.4h1v1h-1zM284.2 67.2h1v1h-1zM285.8 64.0h1v1h-1zM289.1 63.8h1v1h-1zM286.2 62.6h1v1h-1zM288.9 68.6h1v1h-1zM284.4 67.1h1v1h-1zM288.2 63.2h1v1h-1zM287.8 68.8h1v1h-1zM289.5 67.9h1v1h-1zM282.2 65.3h1v1h-1zM280.5 63.8h1v1h-1zM283.1 64.0h1v1h-1zM289.3 69.2h1v1h-1zM285.6 72.7h1v1h-1zM288.0 70.3h1v1h-1zM284.7 63.3h1v1h-1zM283.8 67.3h1v1h-1zM285.6 67.7h1v1h-1zM289.6 67.5h1v1h-1zM283.0 62.6h1v1h-1zM289.2 69.9h1v1h-1zM284.6 67.6h1v1h-1zM288.0 64.6h1v1h-1zM285.0 63.8h1v1h-1zM285.6 72.6h1v1h-1zM289.4 66.8h1v1h-1zM280.2 66.0h1v1h-1zM283.3 64.5h1v1h-1zM289.7 66.0h1v1h-1zM290.0 69.1h1v1h-1zM289.1 70.7h1v1h-1zM287.2 63.7h1v1h-1zM280.3 64.2h1v1h-1zM280.5 69.3h1v1h-1zM282.3 64.3h1v1h-1zM285.9 74.5h1v1h-1zM289.2 69.0h1v1h-1zM288.5 69.7h1v1h-1zM283.4 62.2h1v1h-1zM287.9 63.9h1v1h-1zM287.3 71.6h1v1h-1zM280.8 68.3h1v1h-1zM289.4 68.3h1v1h-1zM281.8 66.3h1v1h-1z" fill="#3585d4" fill-opacity="0.9"/>
<path d="M294.8 69.9h1v1h-1zM289.8 74.0h1v1h-1zM295.2 67.6h1v1h-1zM292.9 72.4h1v1h-1zM277.3 63.5h1v1h-1zM281.3 81.2h1v1h-1zM294.9 69.6h1v1h-1zM283.2 59.5h1v1h-1zM292.5 73.5h1v1h-1zM293.9 70.0h1v1h-1zM291.8 74.2h1v1h-1zM284.5 78.7h1v1h-1zM288.7 61.3h1v1h-1zM292.7 72.4h1v1h-1zM287.1 60.9h1v1h-1zM282.7 73.6h1v1h-1zM281.3 58.2h1v1h-1zM286.3 60.5h1v1h-1zM288.0 76.1h1v1h-1zM296.7 65.4h1v1h-1zM286.5 79.8h1v1h-1zM281.5 59.9h1v1h-1zM295.7 69.3h1v1h-1zM282.9 59.3h1v1h-1zM296.5 65.8h1v1h-1zM294.6 66.6h1v1h-1zM283.2 75.3h1v1h-1zM288.3 60.8h1v1h-1zM294.9 65.3h1v1h-1zM280.4 75.7h1v1h-1zM280.5 75.7h1v1h-1zM292.5 72.4h1v1h-1zM281.3 58.2h1v1h-1zM293.5 73.8h1v1h-1zM295.5 69.4h1v1h-1zM287.4 77.5h1v1h-1zM281.8 72.8h1v1h-1zM283.9 81.3h1v1h-1zM279.4 72.7h1v1h-1zM282.2 78.3h1v1h-1zM282.7 77.3h1v1h-1zM280.6 58.3h1v1h-1zM293.0 62.5h1v1h-1zM285.6 78.7h1v1h-1zM288.4 61.2h1v1h-1zM276.6 72.1h1v1h-1zM289.4 79.7h1v1h-1zM281.8 80.3h1v1h-1zM292.6 66.1h1v1h-1zM286.5 59.0h1v1h-1zM288.2 78.7h1v1h-1zM276.3 62.2h1v1h-1zM277.1 70.4h1v1h-1zM281.5 61.0h1v1h-1zM283.9 81.8h1v1h-1zM286.0 84.7h1v1h-1zM295.8 63.4h1v1h-1zM285.7 78.3h1v1h-1zM283.3 75.9h1v1h-1zM283.2 59.4h1v1h-1zM295.5 67.7h1v1h-1zM295.7 66.9h1v1h-1zM295.4 63.9h1v1h-1zM294.5 61.8h1v1h-1zM278.5 71.1h1v1h-1zM285.8 60.4h1v1h-1zM292.9 73.6h1v1h-1zM275.7 67.2h1v1h-1zM282.1 73.4h1v1h-1zM291.8 59.8h1v1h-1zM285.4 79.0h1v1h-1zM290.5 75.3h1v1h-1zM275.6 63.9h1v1h-1zM281.4 74.0h1v1h-1zM286.8 83.1h1v1h-1zM284.8 81.0h1v1h-1zM281.3 80.9h1v1h-1zM292.0 73.8h1v1h-1zM290.8 74.2h1v1h-1zM283.0 77.5h1v1h-1zM293.1 60.6h1v1h-1zM275.3 69.0h1v1h-1zM285.9 77.3h1v1h-1zM294.4 64.4h1v1h-1zM283.9 76.0h1v1h-1zM291.0 81.1h1v1h-1zM281.8 76.2h1v1h-1zM283.1 78.5h1v1h-1zM276.4 66.1h1v1h-1zM279.7 61.5h1v1h-1zM287.8 75.5h1v1h-1zM288.9 61.2h1v1h-1zM286.7 76.3h1v1h-1zM287.2 76.2h1v1h-1zM296.3 66.7h1v1h-1zM289.4 73.8h1v1h-1zM282.3 74.4h1v1h-1zM285.4 59.2h1v1h-1zM288.4 78.6h1v1h-1zM293.5 72.7h1v1h-1zM296.0 63.4h1v1h-1zM295.6 68.5h1v1h-1zM281.2 60.5h1v1h-1zM286.4 81.1h1v1h-1zM283.5 80.7h1v1h-1zM281.7 72.2h1v1h-1zM284.3 80.5h1v1h-1zM281.3 61.0h1v1h-1zM280.8 79.6h1v1h-1zM282.1 73.1h1v1h-1zM282.9 58.4h1v1h-1zM286.1 60.2h1v1h-1zM283.4 59.4h1v1h-1zM283.2 80.0h1v1h-1zM292.9 71.0h1v1h-1zM277.0 69.7h1v1h-1zM276.3 66.7h1v1h-1zM277.2 69.4h1v1h-1zM284.2 59.8h1v1h-1zM295.1 66.3h1v1h-1zM277.0 69.2h1v1h-1zM289.9 80.1h1v1h-1zM275.9 71.9h1v1h-1zM289.6 74.4h1v1h-1zM285.2 79.2h1v1h-1zM292.5 74.6h1v1h-1zM275.4 63.5h1v1h-1zM280.5 77.9h1v1h-1zM293.1 62.4h1v1h-1zM285.6 70.3h1v1h-1zM282.6 77.9h1v1h-1zM275.2 62.2h1v1h-1zM281.4 74.9h1v1h-1zM291.7 73.3h1v1h-1zM288.6 82.0h1v1h-1zM286.1 78.8h1v1h-1zM284.3 59.0h1v1h-1zM290.5 74.5h1v1h-1zM290.5 80.0h1v1h-1zM292.9 66.0h1v1h-1zM276.7 70.1h1v1h-1zM292.9 61.3h1v1h-1zM275.1 67.6h1v1h-1zM286.7 83.5h1v1h-1zM289.2 81.6h1v1h-1zM282.8 80.1h1v1h-1zM294.4 60.8h1v1h-1zM282.3 80.0h1v1h-1zM288.7 76.6h1v1h-1zM289.6 60.6h1v1h-1zM282.0 79.1h1v1h-1zM280.2 73.0h1v1h-1zM292.0 60.5h1v1h-1zM283.3 76.8h1v1h-1zM285.0 80.8h1v1h-1zM288.2 61.6h1v1h-1zM293.6 67.6h1v1h-1zM278.8 71.4h1v1h-1zM289.1 80.7h1v1h-1zM286.7 80.0h1v1h-1zM283.4 78.8h1v1h-1zM294.2 71.8h1v1h-1zM278.3 63.3h1v1h-1zM278.8 61.0h1v1h-1zM277.5 62.5h1v1h-1zM279.0 62.5h1v1h-1zM277.5 68.8h1v1h-1zM293.8 67.6h1v1h-1zM296.4 66.2h1v1h-1zM279.5 72.0h1v1h-1zM291.1 60.7h1v1h-1zM295.9 64.6h1v1h-1zM291.3 76.2h1v1h-1zM280.1 60.4h1v1h-1zM293.4 60.9h1v1h-1zM280.4 60.3h1v1h-1zM292.1 75.8h1v1h-1zM277.7 72.0h1v1h-1zM283.8 79.9h1v1h-1zM289.5 60.7h1v1h-1zM292.6 60.6h1v1h-1zM289.3 80.6h1v1h-1zM276.9 66.5h1v1h-1zM291.9 61.0h1v1h-1zM282.4 73.9h1v1h-1zM275.5 64.0h1v1h-1zM282.0 59.2h1v1h-1zM275.2 65.3h1v1h-1zM290.5 83.2h1v1h-1zM286.9 79.1h1v1h-1zM283.0 59.5h1v1h-1zM289.6 81.3h1v1h-1zM286.2 80.7h1v1h-1zM292.1 74.0h1v1h-1zM282.9 73.6h1v1h-1zM295.1 61.8h1v1h-1zM292.0 61.0h1v1h-1zM288.8 83.0h1v1h-1zM290.8 74.4h1v1h-1zM286.6 79.2h1v1h-1zM290.4 78.9h1v1h-1zM286.4 77.2h1v1h-1zM285.6 71.0h1v1h-1zM293.2 62.4h1v1h-1zM290.2 77.4h1v1h-1zM296.4 64.8h1v1h-1zM286.4 78.3h1v1h-1zM280.6 59.6h1v1h-1zM276.6 63.0h1v1h-1zM284.8 81.6h1v1h-1zM283.8 75.8h1v1h-1zM294.1 70.4h1v1h-1zM280.8 74.9h1v1h-1zM285.9 60.8h1v1h-1zM288.1 61.0h1v1h-1zM282.6 79.4h1v1h-1zM285.0 79.1h1v1h-1zM279.6 72.3h1v1h-1zM294.9 70.8h1v1h-1zM275.7 65.9h1v1h-1zM282.5 71.7h1v1h-1zM294.0 65.0h1v1h-1zM288.4 82.3h1v1h-1zM285.8 60.1h1v1h-1zM284.3 70.6h1v1h-1zM293.3 63.3h1v1h-1zM281.2 73.8h1v1h-1zM284.9 80.3h1v1h-1zM276.8 62.3h1v1h-1zM293.8 71.2h1v1h-1zM277.5 68.6h1v1h-1zM286.0 78.0h1v1h-1zM293.4 72.0h1v1h-1zM286.8 81.0h1v1h-1zM280.6 77.2h1v1h-1zM284.8 78.6h1v1h-1zM287.5 82.0h1v1h-1zM287.7 79.2h1v1h-1zM293.6 63.6h1v1h-1zM295.9 66.6h1v1h-1zM281.5 80.8h1v1h-1zM282.8 80.1h1v1h-1zM290.1 59.8h1v1h-1zM279.9 63.0h1v1h-1zM280.8 73.5h1v1h-1zM284.6 75.5h1v1h-1zM281.3 58.6h1v1h-1zM292.4 72.3h1v1h-1zM275.8 64.9h1v1h-1zM293.2 74.3h1v1h-1zM290.6 75.6h1v1h-1zM288.0 80.4h1v1h-1zM283.5 77.5h1v1h-1zM276.4 68.8h1v1h-1zM286.4 59.4h1v1h-1zM288.2 79.6h1v1h-1zM289.4 59.8h1v1h-1zM284.0 70.1h1v1h-1zM288.9 81.0h1v1h-1zM294.4 62.9h1v1h-1zM292.9 74.4h1v1h-1zM289.1 79.5h1v1h-1zM291.6 74.2h1v1h-1zM277.2 70.1h1v1h-1zM295.0 65.9h1v1h-1zM285.4 82.6h1v1h-1zM293.4 69.4h1v1h-1zM293.5 63.9h1v1h-1zM279.1 62.5h1v1h-1zM275.5 65.4h1v1h-1zM293.6 69.8h1v1h-1zM281.7 71.9h1v1h-1zM287.1 79.4h1v1h-1zM275.9 64.3h1v1h-1zM282.8 73.5h1v1h-1zM283.4 82.2h1v1h-1zM280.5 77.3h1v1h-1zM277.6 63.3h1v1h-1zM286.8 80.1h1v1h-1zM287.2 59.8h1v1h-1zM284.1 77.1h1v1h-1zM296.1 68.4h1v1h-1zM287.8 82.9h1v1h-1zM282.9 72.6h1v1h-1zM284.7 83.4h1v1h-1zM282.7 78.1h1v1h-1zM281.2 80.1h1v1h-1zM277.8 63.7h1v1h-1zM275.2 64.4h1v1h-1zM276.7 71.4h1v1h-1zM281.6 75.0h1v1h-1zM287.0 77.6h1v1h-1zM294.4 68.2h1v1h-1zM290.0 80.8h1v1h-1zM279.7 73.5h1v1h-1zM283.0 80.4h1v1h-1zM277.6 71.6h1v1h-1zM276.8 67.8h1v1h-1zM295.0 64.7h1v1h-1zM288.5 81.4h1v1h-1zM288.0 79.7h1v1h-1zM287.0 80.8h1v1h-1zM290.4 81.8h1v1h-1zM277.2 63.7h1v1h-1zM286.9 79.6h1v1h-1zM276.8 66.0h1v1h-1zM293.8 70.8h1v1h-1zM276.4 68.1h1v1h-1zM287.9 60.7h1v1h-1z" fill="#5066c4" fill-opacity="0.65"/>
<path d="M286.3 66.6h1v1h-1zM284.3 65.4h1v1h-1zM285.9 66.4h1v1h-1zM288.9 66.0h1v1h-1zM287.3 68.4h1v1h-1zM287.2 66.7h1v1h-1zM288.3 65.1h1v1h-1zM288.1 65.6h1v1h-1zM286.5 67.5h1v1h-1zM287.7 65.4h1v1h-1zM287.0 67.2h1v1h-1zM285.9 64.7h1v1h-1zM286.3 65.6h1v1h-1zM287.1 67.2h1v1h-1zM287.0 67.1h1v1h-1zM288.4 67.2h1v1h-1zM286.7 66.9h1v1h-1zM288.8 66.9h1v1h-1zM288.5 65.3h1v1h-1zM285.1 66.4h1v1h-1zM286.0 67.5h1v1h-1zM286.3 66.1h1v1h-1zM283.8 65.7h1v1h-1zM285.9 68.4h1v1h-1zM283.7 65.7h1v1h-1zM286.5 67.3h1v1h-1zM286.4 66.8h1v1h-1zM284.0 65.7h1v1h-1zM287.3 64.5h1v1h-1zM285.0 66.4h1v1h-1zM285.9 65.1h1v1h-1zM285.9 64.3h1v1h-1zM287.2 66.1h1v1h-1zM286.2 67.9h1v1h-1zM287.3 67.0h1v1h-1zM286.6 64.8h1v1h-1zM284.2 64.7h1v1h-1zM286.9 65.2h1v1h-1zM287.5 68.4h1v1h-1zM287.0 66.9h1v1h-1zM284.5 64.1h1v1h-1zM287.8 66.0h1v1h-1zM286.7 66.5h1v1h-1zM287.3 67.9h1v1h-1zM287.6 67.8h1v1h-1zM287.3 67.1h1v1h-1zM284.8 66.3h1v1h-1zM288.8 66.6h1v1h-1zM285.5 65.0h1v1h-1zM285.7 66.1h1v1h-1zM284.0 63.8h1v1h-1zM283.4 64.9h1v1h-1zM286.3 65.1h1v1h-1zM289.1 66.9h1v1h-1zM286.5 66.1h1v1h-1zM286.2 65.0h1v1h-1zM286.9 66.5h1v1h-1zM287.5 64.4h1v1h-1zM285.4 64.9h1v1h-1zM287.1 64.4h1v1h-1zM286.3 65.1h1v1h-1zM287.0 67.0h1v1h-1zM287.6 68.7h1v1h-1zM284.2 64.9h1v1h-1zM283.6 64.5h1v1h-1zM283.5 65.0h1v1h-1zM285.9 67.8h1v1h-1zM287.0 68.1h1v1h-1zM288.8 68.2h1v1h-1zM287.6 66.1h1v1h-1zM287.2 68.3h1v1h-1zM287.5 66.2h1v1h-1zM288.8 67.9h1v1h-1zM287.1 65.3h1v1h-1zM285.6 67.3h1v1h-1zM285.3 65.7h1v1h-1zM286.1 66.1h1v1h-1zM283.7 63.3h1v1h-1zM287.8 68.1h1v1h-1zM283.2 65.3h1v1h-1zM287.7 65.1h1v1h-1zM283.8 65.7h1v1h-1zM288.8 67.5h1v1h-1zM287.3 65.4h1v1h-1zM287.8 68.6h1v1h-1zM285.8 65.3h1v1h-1zM287.0 68.3h1v1h-1zM287.3 65.6h1v1h-1zM286.0 64.9h1v1h-1z" fill="#27a6e0" fill-opacity="0.95"/>
<path d="M321.5 63.8h1v1h-1zM315.0 71.0h1v1h-1zM304.3 70.1h1v1h-1zM299.9 80.4h1v1h-1zM334.3 74.9h1v1h-1zM312.6 74.0h1v1h-1zM303.0 81.4h1v1h-1zM323.7 60.4h1v1h-1zM311.8 61.0h1v1h-1zM324.1 57.5h1v1h-1zM330.5 59.1h1v1h-1zM329.2 63.3h1v1h-1zM317.5 80.5h1v1h-1zM333.1 85.9h1v1h-1zM303.3 80.6h1v1h-1zM313.8 62.5h1v1h-1zM315.0 87.9h1v1h-1zM298.2 80.1h1v1h-1zM318.1 86.1h1v1h-1zM315.5 65.2h1v1h-1zM329.8 60.6h1v1h-1zM323.6 66.7h1v1h-1zM299.5 62.5h1v1h-1zM329.7 62.2h1v1h-1zM332.3 61.9h1v1h-1z" fill="#9a96da" fill-opacity="0.5"/>
<rect x="255.9" y="18.4" width="82.50" height="81.10" fill="none" stroke="#a8a8a8" stroke-width="0.9"/>
<line x1="255.90" y1="54.80" x2="338.40" y2="54.80" stroke="#505050" stroke-width="1.0" />
<line x1="296.40" y1="18.40" x2="296.40" y2="99.50" stroke="#505050" stroke-width="1.0" />
<line x1="253.90" y1="99.50" x2="255.90" y2="99.50" stroke="#444" stroke-width="0.9" />
<text x="251.30" y="102.10" font-size="7.2" text-anchor="end" font-weight="normal" fill="#231f20" >10<tspan font-size="5.2" dy="-3">0</tspan></text>
<line x1="253.90" y1="85.98" x2="255.90" y2="85.98" stroke="#444" stroke-width="0.9" />
<text x="251.30" y="88.58" font-size="7.2" text-anchor="end" font-weight="normal" fill="#231f20" >10<tspan font-size="5.2" dy="-3">1</tspan></text>
<line x1="253.90" y1="72.46" x2="255.90" y2="72.46" stroke="#444" stroke-width="0.9" />
<text x="251.30" y="75.06" font-size="7.2" text-anchor="end" font-weight="normal" fill="#231f20" >10<tspan font-size="5.2" dy="-3">2</tspan></text>
<line x1="253.90" y1="58.94" x2="255.90" y2="58.94" stroke="#444" stroke-width="0.9" />
<text x="251.30" y="61.54" font-size="7.2" text-anchor="end" font-weight="normal" fill="#231f20" >10<tspan font-size="5.2" dy="-3">3</tspan></text>
<line x1="253.90" y1="45.42" x2="255.90" y2="45.42" stroke="#444" stroke-width="0.9" />
<text x="251.30" y="48.02" font-size="7.2" text-anchor="end" font-weight="normal" fill="#231f20" >10<tspan font-size="5.2" dy="-3">4</tspan></text>
<line x1="253.90" y1="31.90" x2="255.90" y2="31.90" stroke="#444" stroke-width="0.9" />
<text x="251.30" y="34.50" font-size="7.2" text-anchor="end" font-weight="normal" fill="#231f20" >10<tspan font-size="5.2" dy="-3">5</tspan></text>
<line x1="253.90" y1="18.38" x2="255.90" y2="18.38" stroke="#444" stroke-width="0.9" />
<text x="251.30" y="20.98" font-size="7.2" text-anchor="end" font-weight="normal" fill="#231f20" >10<tspan font-size="5.2" dy="-3">6</tspan></text>
<line x1="255.90" y1="99.50" x2="255.90" y2="101.30" stroke="#444" stroke-width="0.9" />
<text x="258.50" y="110.30" font-size="7.2" text-anchor="middle" font-weight="normal" fill="#231f20" >10<tspan font-size="5.2" dy="-3">0</tspan></text>
<line x1="269.52" y1="99.50" x2="269.52" y2="101.30" stroke="#444" stroke-width="0.9" />
<text x="271.00" y="110.30" font-size="7.2" text-anchor="middle" font-weight="normal" fill="#231f20" >10<tspan font-size="5.2" dy="-3">1</tspan></text>
<line x1="283.14" y1="99.50" x2="283.14" y2="101.30" stroke="#444" stroke-width="0.9" />
<text x="283.10" y="110.30" font-size="7.2" text-anchor="middle" font-weight="normal" fill="#231f20" >10<tspan font-size="5.2" dy="-3">2</tspan></text>
<line x1="296.76" y1="99.50" x2="296.76" y2="101.30" stroke="#444" stroke-width="0.9" />
<text x="299.30" y="110.30" font-size="7.2" text-anchor="middle" font-weight="normal" fill="#231f20" >10<tspan font-size="5.2" dy="-3">3</tspan></text>
<line x1="310.38" y1="99.50" x2="310.38" y2="101.30" stroke="#444" stroke-width="0.9" />
<text x="310.40" y="110.30" font-size="7.2" text-anchor="middle" font-weight="normal" fill="#231f20" >10<tspan font-size="5.2" dy="-3">4</tspan></text>
<line x1="324.00" y1="99.50" x2="324.00" y2="101.30" stroke="#444" stroke-width="0.9" />
<text x="322.70" y="110.30" font-size="7.2" text-anchor="middle" font-weight="normal" fill="#231f20" >10<tspan font-size="5.2" dy="-3">5</tspan></text>
<line x1="337.62" y1="99.50" x2="337.62" y2="101.30" stroke="#444" stroke-width="0.9" />
<text x="336.30" y="110.30" font-size="7.2" text-anchor="middle" font-weight="normal" fill="#231f20" >10<tspan font-size="5.2" dy="-3">6</tspan></text>
<text x="296.40" y="13.00" font-size="8.1" text-anchor="middle" font-weight="normal" fill="#231f20" >Day 14</text>
<text x="259.20" y="27.70" font-size="8.0" text-anchor="start" font-weight="normal" fill="#231f20" >0.55%</text>
<text x="335.40" y="27.70" font-size="8.0" text-anchor="end" font-weight="normal" fill="#231f20" >0.036%</text>
<text x="335.40" y="96.60" font-size="8.0" text-anchor="end" font-weight="normal" fill="#231f20" >0.88%</text>
<line x1="12.30" y1="115.80" x2="12.30" y2="86.00" stroke="#111" stroke-width="1.6" />
<polygon points="12.3,82.5 9.6,88 15,88" fill="#111"/>
<line x1="11.50" y1="115.80" x2="42.00" y2="115.80" stroke="#111" stroke-width="1.6" />
<polygon points="46,115.8 40.5,113.1 40.5,118.5" fill="#111"/>
<text x="7.00" y="95.60" font-size="7.8" text-anchor="middle" font-weight="normal" fill="#231f20" transform="rotate(-90 7.0 95.6)">CD19-APC</text>
<text x="13.50" y="127.20" font-size="7.9" text-anchor="start" font-weight="normal" fill="#231f20" >CD20-NV605</text>
<text x="397.50" y="14.40" font-size="8.1" text-anchor="middle" font-weight="normal" fill="#231f20" >18 Months (relapse)</text>
<text x="482.00" y="14.40" font-size="8.1" text-anchor="middle" font-weight="normal" fill="#231f20" >Day 60 after redose</text>
<path d="M362.8,19 L368.8,19 L379.8,36 L391.8,34 L391.8,22 L403.8,22 L403.8,34 L415.8,36 L426.8,19 L431.8,19 L421.8,42 L423.8,60 L421.8,95 L423.8,122 L371.8,122 L373.8,95 L371.8,60 L373.8,42 Z" fill="#f2f2f2" filter="url(#blur1)"/>
<circle cx="415.8" cy="40.5" r="1.5" fill="#e4e4e4"/>
<circle cx="399.2" cy="86.7" r="1.7" fill="#e4e4e4"/>
<circle cx="386.3" cy="120.4" r="1.4" fill="#e4e4e4"/>
<circle cx="410.8" cy="57.3" r="1.8" fill="#e4e4e4"/>
<circle cx="407.1" cy="76.1" r="1.0" fill="#e4e4e4"/>
<circle cx="413.7" cy="83.6" r="1.8" fill="#e4e4e4"/>
<circle cx="413.9" cy="99.6" r="1.5" fill="#e4e4e4"/>
<circle cx="383.9" cy="106.6" r="1.5" fill="#e4e4e4"/>
<circle cx="380.9" cy="41.9" r="0.9" fill="#e4e4e4"/>
<circle cx="386.0" cy="101.0" r="1.6" fill="#e4e4e4"/>
<circle cx="406.0" cy="67.3" r="1.7" fill="#e4e4e4"/>
<circle cx="383.2" cy="55.3" r="1.2" fill="#e4e4e4"/>
<circle cx="387.7" cy="98.6" r="1.6" fill="#e4e4e4"/>
<circle cx="408.0" cy="63.5" r="1.4" fill="#e4e4e4"/>
<circle cx="390.0" cy="82.7" r="1.3" fill="#e4e4e4"/>
<circle cx="383.2" cy="107.8" r="1.6" fill="#e4e4e4"/>
<circle cx="409.5" cy="43.8" r="1.0" fill="#e4e4e4"/>
<circle cx="408.3" cy="104.6" r="1.4" fill="#e4e4e4"/>
<circle cx="416.0" cy="72.2" r="1.0" fill="#e4e4e4"/>
<circle cx="396.7" cy="61.6" r="1.2" fill="#e4e4e4"/>
<circle cx="409.7" cy="63.5" r="1.5" fill="#e4e4e4"/>
<circle cx="401.7" cy="37.8" r="1.3" fill="#e4e4e4"/>
<circle cx="413.2" cy="91.0" r="1.7" fill="#e4e4e4"/>
<circle cx="403.6" cy="120.6" r="0.8" fill="#e4e4e4"/>
<circle cx="394.7" cy="52.8" r="1.6" fill="#e4e4e4"/>
<circle cx="389.2" cy="92.5" r="1.5" fill="#e4e4e4"/>
<circle cx="377.5" cy="88.2" r="1.1" fill="#e4e4e4"/>
<circle cx="387.4" cy="90.9" r="1.4" fill="#e4e4e4"/>
<circle cx="385.8" cy="96.4" r="0.9" fill="#e4e4e4"/>
<circle cx="379.1" cy="111.4" r="1.7" fill="#e4e4e4"/>
<circle cx="416.6" cy="120.6" r="1.5" fill="#e4e4e4"/>
<circle cx="400.7" cy="81.0" r="1.3" fill="#e4e4e4"/>
<circle cx="416.4" cy="118.2" r="1.2" fill="#e4e4e4"/>
<circle cx="385.3" cy="81.7" r="1.2" fill="#e4e4e4"/>
<circle cx="410.8" cy="114.4" r="1.4" fill="#e4e4e4"/>
<circle cx="380.2" cy="81.4" r="0.9" fill="#e4e4e4"/>
<circle cx="399.3" cy="105.6" r="1.5" fill="#e4e4e4"/>
<circle cx="396.4" cy="49.4" r="1.7" fill="#e4e4e4"/>
<circle cx="413.4" cy="77.5" r="0.9" fill="#e4e4e4"/>
<circle cx="405.2" cy="70.1" r="1.2" fill="#e4e4e4"/>
<circle cx="392.7" cy="59.4" r="0.9" fill="#e4e4e4"/>
<circle cx="404.1" cy="80.1" r="1.2" fill="#e4e4e4"/>
<circle cx="408.3" cy="78.7" r="1.0" fill="#e4e4e4"/>
<circle cx="388.1" cy="83.5" r="1.5" fill="#e4e4e4"/>
<circle cx="403.4" cy="99.4" r="1.2" fill="#e4e4e4"/>
<circle cx="409.0" cy="85.6" r="1.1" fill="#e4e4e4"/>
<circle cx="382.1" cy="89.2" r="1.6" fill="#e4e4e4"/>
<circle cx="416.7" cy="105.4" r="1.6" fill="#e4e4e4"/>
<circle cx="401.6" cy="56.9" r="1.1" fill="#e4e4e4"/>
<circle cx="413.0" cy="59.2" r="1.3" fill="#e4e4e4"/>
<circle cx="399.9" cy="37.5" r="0.9" fill="#e4e4e4"/>
<circle cx="385.2" cy="103.7" r="1.6" fill="#e4e4e4"/>
<circle cx="380.5" cy="49.8" r="1.8" fill="#e4e4e4"/>
<circle cx="383.8" cy="104.0" r="1.4" fill="#e4e4e4"/>
<circle cx="413.4" cy="98.6" r="0.9" fill="#e4e4e4"/>
<circle cx="409.1" cy="96.8" r="0.8" fill="#e4e4e4"/>
<circle cx="416.4" cy="60.8" r="1.3" fill="#e4e4e4"/>
<circle cx="398.8" cy="83.2" r="1.4" fill="#e4e4e4"/>
<circle cx="379.6" cy="108.5" r="1.3" fill="#e4e4e4"/>
<circle cx="380.9" cy="78.7" r="1.0" fill="#e4e4e4"/>
<circle cx="394.9" cy="97.1" r="1.6" fill="#e4e4e4"/>
<circle cx="383.6" cy="60.5" r="1.8" fill="#e4e4e4"/>
<circle cx="403.2" cy="51.8" r="1.4" fill="#e4e4e4"/>
<circle cx="387.2" cy="42.3" r="1.5" fill="#e4e4e4"/>
<circle cx="381.5" cy="47.9" r="1.5" fill="#e4e4e4"/>
<circle cx="417.4" cy="41.8" r="1.5" fill="#e4e4e4"/>
<circle cx="382.8" cy="41.0" r="0.8" fill="#e4e4e4"/>
<circle cx="377.6" cy="98.1" r="1.7" fill="#e4e4e4"/>
<circle cx="377.3" cy="48.8" r="0.8" fill="#e4e4e4"/>
<circle cx="393.9" cy="63.4" r="1.0" fill="#e4e4e4"/>
<circle cx="411.0" cy="44.9" r="1.4" fill="#e4e4e4"/>
<circle cx="382.8" cy="91.6" r="0.9" fill="#e4e4e4"/>
<circle cx="385.1" cy="120.1" r="1.1" fill="#e4e4e4"/>
<circle cx="395.7" cy="92.2" r="1.8" fill="#e4e4e4"/>
<circle cx="399.9" cy="45.9" r="1.5" fill="#e4e4e4"/>
<circle cx="405.5" cy="85.7" r="1.2" fill="#e4e4e4"/>
<circle cx="411.2" cy="41.4" r="1.3" fill="#e4e4e4"/>
<circle cx="399.6" cy="114.0" r="1.6" fill="#e4e4e4"/>
<circle cx="386.9" cy="68.6" r="1.4" fill="#e4e4e4"/>
<circle cx="392.8" cy="41.3" r="1.8" fill="#e4e4e4"/>
<circle cx="395.9" cy="47.9" r="1.0" fill="#e4e4e4"/>
<circle cx="377.4" cy="113.4" r="0.9" fill="#e4e4e4"/>
<circle cx="400.5" cy="116.3" r="1.6" fill="#e4e4e4"/>
<circle cx="401.6" cy="60.2" r="1.5" fill="#e4e4e4"/>
<circle cx="410.7" cy="53.6" r="1.0" fill="#e4e4e4"/>
<circle cx="394.1" cy="86.9" r="1.7" fill="#e4e4e4"/>
<circle cx="401.6" cy="58.7" r="1.5" fill="#e4e4e4"/>
<circle cx="383.1" cy="45.1" r="0.8" fill="#e4e4e4"/>
<circle cx="401.0" cy="85.2" r="1.3" fill="#e4e4e4"/>
<circle cx="400.1" cy="52.0" r="1.0" fill="#e4e4e4"/>
<circle cx="401.4" cy="70.3" r="1.3" fill="#e4e4e4"/>
<circle cx="415.2" cy="75.7" r="1.5" fill="#e4e4e4"/>
<circle cx="379.3" cy="77.7" r="0.9" fill="#e4e4e4"/>
<circle cx="385.1" cy="52.0" r="1.2" fill="#e4e4e4"/>
<circle cx="383.5" cy="115.4" r="1.1" fill="#e4e4e4"/>
<circle cx="389.6" cy="42.0" r="1.2" fill="#e4e4e4"/>
<circle cx="409.7" cy="82.4" r="1.7" fill="#e4e4e4"/>
<circle cx="402.7" cy="90.7" r="1.2" fill="#e4e4e4"/>
<circle cx="411.9" cy="74.2" r="0.9" fill="#e4e4e4"/>
<circle cx="386.2" cy="103.8" r="0.9" fill="#e4e4e4"/>
<circle cx="384.4" cy="89.3" r="1.5" fill="#e4e4e4"/>
<circle cx="396.4" cy="91.5" r="1.2" fill="#e4e4e4"/>
<circle cx="401.6" cy="39.3" r="1.2" fill="#e4e4e4"/>
<circle cx="417.7" cy="84.9" r="1.1" fill="#e4e4e4"/>
<circle cx="403.0" cy="119.0" r="1.3" fill="#e4e4e4"/>
<circle cx="394.3" cy="105.8" r="1.7" fill="#e4e4e4"/>
<circle cx="386.3" cy="92.8" r="1.1" fill="#e4e4e4"/>
<circle cx="391.6" cy="104.3" r="1.2" fill="#e4e4e4"/>
<circle cx="415.2" cy="77.3" r="1.7" fill="#e4e4e4"/>
<circle cx="382.2" cy="70.4" r="0.8" fill="#e4e4e4"/>
<rect x="395.8" y="34" width="4" height="80" fill="#ececec" filter="url(#blur1)"/>
<circle cx="408.5" cy="102.5" r="1.6" fill="#cfcfcf" filter="url(#blur05)"/>
<circle cx="396.7" cy="105.1" r="1.5" fill="#cfcfcf" filter="url(#blur05)"/>
<circle cx="392.0" cy="78.4" r="2.1" fill="#cfcfcf" filter="url(#blur05)"/>
<circle cx="406.9" cy="90.9" r="1.9" fill="#cfcfcf" filter="url(#blur05)"/>
<circle cx="407.9" cy="95.4" r="1.1" fill="#cfcfcf" filter="url(#blur05)"/>
<circle cx="402.3" cy="101.9" r="1.6" fill="#cfcfcf" filter="url(#blur05)"/>
<circle cx="395.6" cy="94.6" r="1.2" fill="#cfcfcf" filter="url(#blur05)"/>
<circle cx="389.6" cy="95.8" r="2.2" fill="#cfcfcf" filter="url(#blur05)"/>
<circle cx="386.2" cy="95.3" r="1.6" fill="#cfcfcf" filter="url(#blur05)"/>
<circle cx="383.9" cy="79.2" r="1.4" fill="#cfcfcf" filter="url(#blur05)"/>
<circle cx="403.6" cy="78.2" r="1.4" fill="#cfcfcf" filter="url(#blur05)"/>
<circle cx="401.4" cy="98.2" r="2.2" fill="#cfcfcf" filter="url(#blur05)"/>
<circle cx="407.9" cy="80.1" r="1.7" fill="#cfcfcf" filter="url(#blur05)"/>
<circle cx="401.0" cy="91.7" r="1.7" fill="#cfcfcf" filter="url(#blur05)"/>
<circle cx="394.3" cy="81.6" r="1.8" fill="#cfcfcf" filter="url(#blur05)"/>
<circle cx="409.0" cy="95.8" r="1.8" fill="#cfcfcf" filter="url(#blur05)"/>
<circle cx="411.5" cy="82.1" r="1.7" fill="#cfcfcf" filter="url(#blur05)"/>
<circle cx="407.6" cy="94.9" r="1.0" fill="#cfcfcf" filter="url(#blur05)"/>
<circle cx="398.1" cy="100.1" r="1.2" fill="#cfcfcf" filter="url(#blur05)"/>
<circle cx="394.6" cy="105.4" r="1.5" fill="#cfcfcf" filter="url(#blur05)"/>
<circle cx="399.1" cy="93.1" r="2.0" fill="#cfcfcf" filter="url(#blur05)"/>
<circle cx="396.5" cy="102.8" r="1.8" fill="#cfcfcf" filter="url(#blur05)"/>
<circle cx="394.8" cy="93.7" r="1.4" fill="#cfcfcf" filter="url(#blur05)"/>
<circle cx="384.4" cy="89.5" r="1.1" fill="#cfcfcf" filter="url(#blur05)"/>
<circle cx="391.8" cy="101.0" r="2.2" fill="#cfcfcf" filter="url(#blur05)"/>
<circle cx="388.7" cy="79.3" r="1.4" fill="#cfcfcf" filter="url(#blur05)"/>
<circle cx="396.0" cy="40.8" r="1.8" fill="#dadada" filter="url(#blur05)"/>
<circle cx="385.5" cy="48.8" r="1.3" fill="#dadada" filter="url(#blur05)"/>
<circle cx="403.1" cy="40.3" r="1.5" fill="#dadada" filter="url(#blur05)"/>
<circle cx="410.3" cy="38.3" r="1.2" fill="#dadada" filter="url(#blur05)"/>
<circle cx="382.4" cy="54.7" r="1.7" fill="#dadada" filter="url(#blur05)"/>
<circle cx="388.5" cy="56.0" r="1.2" fill="#dadada" filter="url(#blur05)"/>
<circle cx="397.4" cy="52.6" r="1.6" fill="#dadada" filter="url(#blur05)"/>
<circle cx="382.2" cy="38.9" r="1.2" fill="#dadada" filter="url(#blur05)"/>
<circle cx="413.8" cy="56.0" r="1.3" fill="#dadada" filter="url(#blur05)"/>
<circle cx="381.5" cy="50.7" r="1.2" fill="#dadada" filter="url(#blur05)"/>
<circle cx="411.9" cy="56.4" r="1.8" fill="#dadada" filter="url(#blur05)"/>
<circle cx="407.8" cy="53.6" r="1.8" fill="#dadada" filter="url(#blur05)"/>
<circle cx="393.5" cy="52.4" r="1.0" fill="#dadada" filter="url(#blur05)"/>
<circle cx="404.8" cy="46.9" r="2.0" fill="#dadada" filter="url(#blur05)"/>
<ellipse cx="397.8" cy="30" rx="4" ry="5" fill="#e8e8e8" filter="url(#blur05)"/>
<line x1="363.8" y1="23.5" x2="375.3" y2="40" stroke="#9a9a9a" stroke-width="1.0" filter="url(#blur05)"/>
<line x1="429.8" y1="23" x2="418.8" y2="38.5" stroke="#9a9a9a" stroke-width="1.0" filter="url(#blur05)"/>
<path d="M388.5,19.6 L406.5,19.6 Q404.8,25.8 397.8,26 Q390.3,25.8 388.5,19.6 Z" fill="#080808"/>
<ellipse cx="397.3" cy="28.5" rx="3.5" ry="2.5" fill="#c8c8c8" filter="url(#blur05)"/>
<circle cx="396.8" cy="30.2" r="2.3" fill="#b8b8b8" filter="url(#blur05)"/>
<path d="M378.8,66 Q380.8,60.5 389.8,60.5 L399.8,61.5 Q403.8,66 400.8,72 Q395.8,78 387.8,81 Q378.8,83 378.3,74 Z" fill="#8e8e8e" filter="url(#blur05)"/>
<path d="M378.8,80 Q379.8,90 380.8,94 L383.8,94 L384.8,82 Z" fill="#c8c8c8" filter="url(#blur05)"/>
<path d="M401.8,65 Q413.8,64 416.3,72 Q414.8,77.5 410.8,77 Q405.8,72 401.8,70 Z" fill="#8a8a8a" filter="url(#blur05)"/>
<ellipse cx="405.6" cy="61.9" rx="5.4" ry="5.3" fill="#080808"/>
<ellipse cx="387.6" cy="82.7" rx="1.9" ry="4.8" fill="#1a1a1a" filter="url(#blur05)"/>
<ellipse cx="407.0" cy="84" rx="1.9" ry="4.8" fill="#1a1a1a" filter="url(#blur05)"/>
<ellipse cx="397.3" cy="111.8" rx="5.6" ry="4.2" fill="#080808"/>
<circle cx="388.0" cy="114.8" r="0.8" fill="#333"/>
<path d="M453.5,19 L459.5,19 L463.5,36 L475.5,34 L475.5,22 L487.5,22 L487.5,34 L499.5,36 L503.5,19 L509.5,19 L506.5,42 L507.5,60 L505.5,95 L507.5,122 L455.5,122 L457.5,95 L455.5,60 L456.5,42 Z" fill="#f2f2f2" filter="url(#blur1)"/>
<circle cx="493.5" cy="74.5" r="1.5" fill="#e4e4e4"/>
<circle cx="485.1" cy="88.4" r="0.8" fill="#e4e4e4"/>
<circle cx="469.9" cy="57.9" r="1.5" fill="#e4e4e4"/>
<circle cx="499.0" cy="89.4" r="1.6" fill="#e4e4e4"/>
<circle cx="487.2" cy="48.4" r="1.1" fill="#e4e4e4"/>
<circle cx="484.9" cy="100.1" r="1.2" fill="#e4e4e4"/>
<circle cx="489.7" cy="64.4" r="1.1" fill="#e4e4e4"/>
<circle cx="467.6" cy="71.2" r="1.4" fill="#e4e4e4"/>
<circle cx="465.1" cy="115.1" r="0.8" fill="#e4e4e4"/>
<circle cx="491.2" cy="65.5" r="1.7" fill="#e4e4e4"/>
<circle cx="472.5" cy="38.2" r="1.5" fill="#e4e4e4"/>
<circle cx="476.4" cy="105.5" r="1.5" fill="#e4e4e4"/>
<circle cx="479.0" cy="92.2" r="1.5" fill="#e4e4e4"/>
<circle cx="474.3" cy="52.6" r="1.5" fill="#e4e4e4"/>
<circle cx="484.4" cy="40.0" r="1.0" fill="#e4e4e4"/>
<circle cx="478.6" cy="43.6" r="1.3" fill="#e4e4e4"/>
<circle cx="477.1" cy="61.1" r="1.6" fill="#e4e4e4"/>
<circle cx="491.5" cy="41.7" r="1.4" fill="#e4e4e4"/>
<circle cx="502.2" cy="87.5" r="1.8" fill="#e4e4e4"/>
<circle cx="470.3" cy="54.8" r="1.1" fill="#e4e4e4"/>
<circle cx="470.3" cy="49.6" r="1.1" fill="#e4e4e4"/>
<circle cx="481.5" cy="105.0" r="1.6" fill="#e4e4e4"/>
<circle cx="462.2" cy="101.2" r="1.4" fill="#e4e4e4"/>
<circle cx="471.7" cy="36.6" r="1.7" fill="#e4e4e4"/>
<circle cx="466.2" cy="57.6" r="1.1" fill="#e4e4e4"/>
<circle cx="494.0" cy="116.4" r="1.7" fill="#e4e4e4"/>
<circle cx="496.2" cy="107.9" r="1.3" fill="#e4e4e4"/>
<circle cx="462.9" cy="56.0" r="0.9" fill="#e4e4e4"/>
<circle cx="465.4" cy="47.4" r="1.1" fill="#e4e4e4"/>
<circle cx="462.6" cy="61.1" r="1.7" fill="#e4e4e4"/>
<circle cx="470.7" cy="79.3" r="1.7" fill="#e4e4e4"/>
<circle cx="461.2" cy="97.8" r="1.3" fill="#e4e4e4"/>
<circle cx="461.8" cy="111.7" r="1.6" fill="#e4e4e4"/>
<circle cx="464.8" cy="117.7" r="1.4" fill="#e4e4e4"/>
<circle cx="487.2" cy="54.1" r="0.8" fill="#e4e4e4"/>
<circle cx="490.1" cy="96.6" r="1.0" fill="#e4e4e4"/>
<circle cx="461.9" cy="84.8" r="1.1" fill="#e4e4e4"/>
<circle cx="475.0" cy="109.8" r="1.4" fill="#e4e4e4"/>
<circle cx="465.5" cy="95.4" r="1.5" fill="#e4e4e4"/>
<circle cx="484.4" cy="117.1" r="1.3" fill="#e4e4e4"/>
<circle cx="487.8" cy="40.7" r="1.1" fill="#e4e4e4"/>
<circle cx="473.1" cy="72.5" r="1.3" fill="#e4e4e4"/>
<circle cx="465.3" cy="94.7" r="0.9" fill="#e4e4e4"/>
<circle cx="471.1" cy="85.7" r="0.8" fill="#e4e4e4"/>
<circle cx="474.3" cy="104.8" r="1.5" fill="#e4e4e4"/>
<circle cx="476.3" cy="50.2" r="1.6" fill="#e4e4e4"/>
<circle cx="497.0" cy="42.9" r="1.2" fill="#e4e4e4"/>
<circle cx="483.5" cy="94.9" r="1.0" fill="#e4e4e4"/>
<circle cx="495.0" cy="87.8" r="1.6" fill="#e4e4e4"/>
<circle cx="500.3" cy="94.1" r="1.5" fill="#e4e4e4"/>
<circle cx="473.0" cy="59.2" r="1.2" fill="#e4e4e4"/>
<circle cx="494.5" cy="86.7" r="1.1" fill="#e4e4e4"/>
<circle cx="498.4" cy="79.9" r="1.8" fill="#e4e4e4"/>
<circle cx="487.9" cy="98.5" r="1.1" fill="#e4e4e4"/>
<circle cx="502.2" cy="76.8" r="1.5" fill="#e4e4e4"/>
<circle cx="477.4" cy="80.5" r="1.0" fill="#e4e4e4"/>
<circle cx="476.0" cy="71.1" r="1.5" fill="#e4e4e4"/>
<circle cx="467.2" cy="52.8" r="1.4" fill="#e4e4e4"/>
<circle cx="480.4" cy="111.0" r="0.8" fill="#e4e4e4"/>
<circle cx="479.1" cy="106.7" r="1.6" fill="#e4e4e4"/>
<circle cx="475.3" cy="79.9" r="1.2" fill="#e4e4e4"/>
<circle cx="460.7" cy="42.9" r="1.0" fill="#e4e4e4"/>
<circle cx="497.1" cy="52.3" r="1.1" fill="#e4e4e4"/>
<circle cx="483.9" cy="95.3" r="1.4" fill="#e4e4e4"/>
<circle cx="473.5" cy="65.0" r="0.8" fill="#e4e4e4"/>
<circle cx="493.9" cy="68.1" r="1.1" fill="#e4e4e4"/>
<circle cx="469.2" cy="77.9" r="0.9" fill="#e4e4e4"/>
<circle cx="474.2" cy="44.9" r="1.0" fill="#e4e4e4"/>
<circle cx="482.7" cy="63.9" r="0.9" fill="#e4e4e4"/>
<circle cx="497.1" cy="41.1" r="1.2" fill="#e4e4e4"/>
<circle cx="472.8" cy="40.9" r="1.1" fill="#e4e4e4"/>
<circle cx="479.0" cy="94.6" r="1.1" fill="#e4e4e4"/>
<circle cx="476.4" cy="112.5" r="1.4" fill="#e4e4e4"/>
<circle cx="479.2" cy="54.0" r="1.6" fill="#e4e4e4"/>
<circle cx="499.6" cy="56.4" r="1.7" fill="#e4e4e4"/>
<circle cx="476.2" cy="76.7" r="0.8" fill="#e4e4e4"/>
<circle cx="470.7" cy="56.5" r="1.0" fill="#e4e4e4"/>
<circle cx="495.2" cy="116.8" r="1.1" fill="#e4e4e4"/>
<circle cx="494.2" cy="61.6" r="1.4" fill="#e4e4e4"/>
<circle cx="468.7" cy="113.3" r="1.3" fill="#e4e4e4"/>
<circle cx="485.3" cy="103.5" r="1.3" fill="#e4e4e4"/>
<circle cx="481.1" cy="96.5" r="1.3" fill="#e4e4e4"/>
<circle cx="484.7" cy="61.4" r="1.0" fill="#e4e4e4"/>
<circle cx="469.9" cy="118.6" r="1.4" fill="#e4e4e4"/>
<circle cx="461.3" cy="51.9" r="1.4" fill="#e4e4e4"/>
<circle cx="482.0" cy="120.1" r="1.7" fill="#e4e4e4"/>
<circle cx="463.5" cy="104.5" r="1.8" fill="#e4e4e4"/>
<circle cx="491.8" cy="117.0" r="1.2" fill="#e4e4e4"/>
<circle cx="486.9" cy="94.2" r="1.6" fill="#e4e4e4"/>
<circle cx="490.6" cy="105.7" r="1.1" fill="#e4e4e4"/>
<circle cx="493.9" cy="86.7" r="1.8" fill="#e4e4e4"/>
<circle cx="474.1" cy="88.7" r="1.7" fill="#e4e4e4"/>
<circle cx="492.4" cy="95.3" r="0.9" fill="#e4e4e4"/>
<circle cx="467.0" cy="63.0" r="1.5" fill="#e4e4e4"/>
<circle cx="461.9" cy="92.1" r="0.9" fill="#e4e4e4"/>
<circle cx="468.6" cy="59.6" r="1.3" fill="#e4e4e4"/>
<circle cx="490.7" cy="116.5" r="1.0" fill="#e4e4e4"/>
<circle cx="464.1" cy="108.9" r="1.4" fill="#e4e4e4"/>
<circle cx="499.1" cy="96.8" r="0.9" fill="#e4e4e4"/>
<circle cx="475.7" cy="54.6" r="1.3" fill="#e4e4e4"/>
<circle cx="472.5" cy="109.2" r="1.7" fill="#e4e4e4"/>
<circle cx="468.4" cy="121.0" r="1.8" fill="#e4e4e4"/>
<circle cx="476.7" cy="110.3" r="1.7" fill="#e4e4e4"/>
<circle cx="491.4" cy="66.9" r="1.4" fill="#e4e4e4"/>
<circle cx="492.7" cy="64.9" r="1.3" fill="#e4e4e4"/>
<circle cx="464.2" cy="49.3" r="1.6" fill="#e4e4e4"/>
<circle cx="473.5" cy="95.7" r="1.2" fill="#e4e4e4"/>
<circle cx="490.4" cy="60.3" r="0.9" fill="#e4e4e4"/>
<circle cx="488.5" cy="57.8" r="1.0" fill="#e4e4e4"/>
<circle cx="480.0" cy="78.2" r="1.7" fill="#e4e4e4"/>
<rect x="479.5" y="34" width="4" height="80" fill="#ececec" filter="url(#blur1)"/>
<circle cx="487.4" cy="87.9" r="1.5" fill="#cfcfcf" filter="url(#blur05)"/>
<circle cx="484.5" cy="78.1" r="1.4" fill="#cfcfcf" filter="url(#blur05)"/>
<circle cx="484.6" cy="104.1" r="1.7" fill="#cfcfcf" filter="url(#blur05)"/>
<circle cx="472.8" cy="105.0" r="2.0" fill="#cfcfcf" filter="url(#blur05)"/>
<circle cx="473.2" cy="85.8" r="1.0" fill="#cfcfcf" filter="url(#blur05)"/>
<circle cx="489.4" cy="81.0" r="2.0" fill="#cfcfcf" filter="url(#blur05)"/>
<circle cx="488.0" cy="98.8" r="1.7" fill="#cfcfcf" filter="url(#blur05)"/>
<circle cx="473.8" cy="75.2" r="1.7" fill="#cfcfcf" filter="url(#blur05)"/>
<circle cx="466.9" cy="90.6" r="1.9" fill="#cfcfcf" filter="url(#blur05)"/>
<circle cx="470.7" cy="88.0" r="1.6" fill="#cfcfcf" filter="url(#blur05)"/>
<circle cx="471.0" cy="80.5" r="1.7" fill="#cfcfcf" filter="url(#blur05)"/>
<circle cx="471.7" cy="78.9" r="1.3" fill="#cfcfcf" filter="url(#blur05)"/>
<circle cx="494.6" cy="102.7" r="1.1" fill="#cfcfcf" filter="url(#blur05)"/>
<circle cx="483.7" cy="87.2" r="1.0" fill="#cfcfcf" filter="url(#blur05)"/>
<circle cx="474.0" cy="94.8" r="1.0" fill="#cfcfcf" filter="url(#blur05)"/>
<circle cx="495.3" cy="83.1" r="1.4" fill="#cfcfcf" filter="url(#blur05)"/>
<circle cx="495.0" cy="78.5" r="1.2" fill="#cfcfcf" filter="url(#blur05)"/>
<circle cx="480.7" cy="84.0" r="1.4" fill="#cfcfcf" filter="url(#blur05)"/>
<circle cx="484.0" cy="104.4" r="1.5" fill="#cfcfcf" filter="url(#blur05)"/>
<circle cx="467.8" cy="85.9" r="2.0" fill="#cfcfcf" filter="url(#blur05)"/>
<circle cx="479.5" cy="75.9" r="1.3" fill="#cfcfcf" filter="url(#blur05)"/>
<circle cx="473.3" cy="85.2" r="1.4" fill="#cfcfcf" filter="url(#blur05)"/>
<circle cx="486.6" cy="97.0" r="1.1" fill="#cfcfcf" filter="url(#blur05)"/>
<circle cx="470.9" cy="100.3" r="2.1" fill="#cfcfcf" filter="url(#blur05)"/>
<circle cx="490.2" cy="79.7" r="1.8" fill="#cfcfcf" filter="url(#blur05)"/>
<circle cx="468.8" cy="95.6" r="1.3" fill="#cfcfcf" filter="url(#blur05)"/>
<circle cx="493.7" cy="54.9" r="1.5" fill="#dadada" filter="url(#blur05)"/>
<circle cx="489.6" cy="56.9" r="1.9" fill="#dadada" filter="url(#blur05)"/>
<circle cx="486.8" cy="50.3" r="1.4" fill="#dadada" filter="url(#blur05)"/>
<circle cx="488.1" cy="40.8" r="1.5" fill="#dadada" filter="url(#blur05)"/>
<circle cx="466.6" cy="39.8" r="1.7" fill="#dadada" filter="url(#blur05)"/>
<circle cx="478.8" cy="42.2" r="1.9" fill="#dadada" filter="url(#blur05)"/>
<circle cx="474.0" cy="48.8" r="1.5" fill="#dadada" filter="url(#blur05)"/>
<circle cx="470.1" cy="57.9" r="1.8" fill="#dadada" filter="url(#blur05)"/>
<circle cx="495.6" cy="44.0" r="1.9" fill="#dadada" filter="url(#blur05)"/>
<circle cx="496.3" cy="56.8" r="1.2" fill="#dadada" filter="url(#blur05)"/>
<circle cx="469.1" cy="39.7" r="1.1" fill="#dadada" filter="url(#blur05)"/>
<circle cx="488.8" cy="39.0" r="1.5" fill="#dadada" filter="url(#blur05)"/>
<circle cx="476.3" cy="52.6" r="1.0" fill="#dadada" filter="url(#blur05)"/>
<circle cx="489.4" cy="57.2" r="1.3" fill="#dadada" filter="url(#blur05)"/>
<ellipse cx="481.5" cy="30" rx="4" ry="5" fill="#e8e8e8" filter="url(#blur05)"/>
<path d="M455.5,20 Q449.5,30 459.5,40" stroke="#e4e4e4" stroke-width="3.5" fill="none" filter="url(#blur1)"/>
<path d="M505.5,20 Q511.5,30 501.5,40" stroke="#e4e4e4" stroke-width="3.5" fill="none" filter="url(#blur1)"/>
<line x1="456.5" y1="40.6" x2="459.8" y2="46.2" stroke="#444" stroke-width="1.6" filter="url(#blur05)"/>
<line x1="505.0" y1="39.2" x2="503.0" y2="46.2" stroke="#444" stroke-width="1.6" filter="url(#blur05)"/>
<line x1="461.4" y1="98" x2="459.4" y2="109" stroke="#777" stroke-width="1.6" filter="url(#blur05)"/>
<path d="M473.5,19.6 L487.7,19.6 Q486.5,24.8 480.6,25 Q474.7,24.8 473.5,19.6 Z" fill="#080808"/>
<ellipse cx="480.7" cy="27.5" rx="3.2" ry="2.3" fill="#cfcfcf" filter="url(#blur05)"/>
<circle cx="481.0" cy="29" r="2.2" fill="#c4c4c4" filter="url(#blur05)"/>
<path d="M461.5,66 Q463.5,59.5 473.5,59.5 L485.5,61 Q487.5,66 483.5,70 Q475.5,74 467.5,77 Q461.5,78 461.5,72 Z" fill="#a4a4a4" filter="url(#blur05)"/>
<path d="M489.5,66 Q499.5,66 501.0,71 Q498.5,75 493.5,74 Q490.5,70 489.5,68 Z" fill="#bdbdbd" filter="url(#blur05)"/>
<ellipse cx="490.0" cy="60" rx="5.8" ry="5.6" fill="#080808"/>
<ellipse cx="471.6" cy="81.5" rx="2.6" ry="5.6" fill="#0e0e0e" filter="url(#blur05)"/>
<ellipse cx="492.4" cy="82.2" rx="2.6" ry="5.6" fill="#0e0e0e" filter="url(#blur05)"/>
<ellipse cx="481.3" cy="110.5" rx="5.9" ry="4.1" fill="#080808"/>
<line x1="42.70" y1="148.80" x2="471.50" y2="148.80" stroke="#e6e6e6" stroke-width="0.8" />
<line x1="42.70" y1="168.23" x2="471.50" y2="168.23" stroke="#e6e6e6" stroke-width="0.8" />
<line x1="42.70" y1="187.66" x2="471.50" y2="187.66" stroke="#e6e6e6" stroke-width="0.8" />
<line x1="42.70" y1="207.09" x2="471.50" y2="207.09" stroke="#e6e6e6" stroke-width="0.8" />
<line x1="42.70" y1="226.52" x2="471.50" y2="226.52" stroke="#e6e6e6" stroke-width="0.8" />
<line x1="42.70" y1="245.95" x2="471.50" y2="245.95" stroke="#e6e6e6" stroke-width="0.8" />
<line x1="100.57" y1="148.80" x2="100.57" y2="265.40" stroke="#e6e6e6" stroke-width="0.8" />
<line x1="157.64" y1="148.80" x2="157.64" y2="265.40" stroke="#e6e6e6" stroke-width="0.8" />
<line x1="214.72" y1="148.80" x2="214.72" y2="265.40" stroke="#e6e6e6" stroke-width="0.8" />
<line x1="271.79" y1="148.80" x2="271.79" y2="265.40" stroke="#e6e6e6" stroke-width="0.8" />
<line x1="328.86" y1="148.80" x2="328.86" y2="265.40" stroke="#e6e6e6" stroke-width="0.8" />
<line x1="385.93" y1="148.80" x2="385.93" y2="265.40" stroke="#e6e6e6" stroke-width="0.8" />
<line x1="443.00" y1="148.80" x2="443.00" y2="265.40" stroke="#e6e6e6" stroke-width="0.8" />
<line x1="42.70" y1="265.40" x2="471.50" y2="265.40" stroke="#8c8c8c" stroke-width="1.0" />
<line x1="42.70" y1="147.80" x2="42.70" y2="265.40" stroke="#b8b8b8" stroke-width="1.6" />
<line x1="40.80" y1="148.80" x2="42.70" y2="148.80" stroke="#888" stroke-width="0.8" />
<text x="39.80" y="151.40" font-size="7.5" text-anchor="end" font-weight="normal" fill="#231f20" >1 × 10<tspan font-size="5.3" dy="-3.2">4</tspan></text>
<line x1="40.80" y1="168.23" x2="42.70" y2="168.23" stroke="#888" stroke-width="0.8" />
<text x="39.80" y="170.83" font-size="7.5" text-anchor="end" font-weight="normal" fill="#231f20" >1 × 10<tspan font-size="5.3" dy="-3.2">3</tspan></text>
<line x1="40.80" y1="187.66" x2="42.70" y2="187.66" stroke="#888" stroke-width="0.8" />
<text x="39.80" y="190.26" font-size="7.5" text-anchor="end" font-weight="normal" fill="#231f20" >1 × 10<tspan font-size="5.3" dy="-3.2">2</tspan></text>
<line x1="40.80" y1="207.09" x2="42.70" y2="207.09" stroke="#888" stroke-width="0.8" />
<text x="39.80" y="209.69" font-size="7.5" text-anchor="end" font-weight="normal" fill="#231f20" >1 × 10<tspan font-size="5.3" dy="-3.2">1</tspan></text>
<line x1="40.80" y1="226.52" x2="42.70" y2="226.52" stroke="#888" stroke-width="0.8" />
<text x="39.80" y="229.12" font-size="7.5" text-anchor="end" font-weight="normal" fill="#231f20" >1 × 10<tspan font-size="5.3" dy="-3.2">0</tspan></text>
<line x1="40.80" y1="245.95" x2="42.70" y2="245.95" stroke="#888" stroke-width="0.8" />
<text x="40.00" y="248.55" font-size="7.5" text-anchor="end" font-weight="normal" fill="#231f20" >1 × 10<tspan font-size="5.3" dy="-3.2">−1</tspan></text>
<line x1="40.80" y1="265.38" x2="42.70" y2="265.38" stroke="#888" stroke-width="0.8" />
<text x="40.00" y="267.98" font-size="7.5" text-anchor="end" font-weight="normal" fill="#231f20" >1 × 10<tspan font-size="5.3" dy="-3.2">−2</tspan></text>
<line x1="43.50" y1="265.40" x2="43.50" y2="267.00" stroke="#888" stroke-width="0.8" />
<text x="43.50" y="275.60" font-size="7.6" text-anchor="middle" font-weight="normal" fill="#231f20" >0</text>
<line x1="100.57" y1="265.40" x2="100.57" y2="267.00" stroke="#888" stroke-width="0.8" />
<text x="100.57" y="275.60" font-size="7.6" text-anchor="middle" font-weight="normal" fill="#231f20" >120</text>
<line x1="157.64" y1="265.40" x2="157.64" y2="267.00" stroke="#888" stroke-width="0.8" />
<text x="157.64" y="275.60" font-size="7.6" text-anchor="middle" font-weight="normal" fill="#231f20" >240</text>
<line x1="214.72" y1="265.40" x2="214.72" y2="267.00" stroke="#888" stroke-width="0.8" />
<text x="214.72" y="275.60" font-size="7.6" text-anchor="middle" font-weight="normal" fill="#231f20" >360</text>
<line x1="271.79" y1="265.40" x2="271.79" y2="267.00" stroke="#888" stroke-width="0.8" />
<text x="271.79" y="275.60" font-size="7.6" text-anchor="middle" font-weight="normal" fill="#231f20" >480</text>
<line x1="328.86" y1="265.40" x2="328.86" y2="267.00" stroke="#888" stroke-width="0.8" />
<text x="328.86" y="275.60" font-size="7.6" text-anchor="middle" font-weight="normal" fill="#231f20" >600</text>
<line x1="385.93" y1="265.40" x2="385.93" y2="267.00" stroke="#888" stroke-width="0.8" />
<text x="385.93" y="275.60" font-size="7.6" text-anchor="middle" font-weight="normal" fill="#231f20" >720</text>
<line x1="443.00" y1="265.40" x2="443.00" y2="267.00" stroke="#888" stroke-width="0.8" />
<text x="443.00" y="275.60" font-size="7.6" text-anchor="middle" font-weight="normal" fill="#231f20" >840</text>
<text x="254.40" y="288.80" font-size="8.1" text-anchor="middle" font-weight="normal" fill="#231f20" >Days after T-cell infusion</text>
<text x="7.30" y="204.70" font-size="7.8" text-anchor="middle" font-weight="normal" fill="#231f20" transform="rotate(-90 7.3 204.7)">Psi copies/µL blood</text>
<line x1="484.80" y1="161.90" x2="496.40" y2="161.90" stroke="#4472c4" stroke-width="1.2" />
<circle cx="490.60" cy="161.90" r="1.3" fill="#4472c4"/>
<text x="498.60" y="164.80" font-size="8.0" text-anchor="start" font-weight="normal" fill="#231f20" >001</text>
<line x1="484.80" y1="173.33" x2="496.40" y2="173.33" stroke="#ed7d31" stroke-width="1.2" />
<circle cx="490.60" cy="173.33" r="1.3" fill="#ed7d31"/>
<text x="498.60" y="176.23" font-size="8.0" text-anchor="start" font-weight="normal" fill="#231f20" >002</text>
<line x1="484.80" y1="184.76" x2="496.40" y2="184.76" stroke="#a5a5a5" stroke-width="1.2" />
<circle cx="490.60" cy="184.76" r="1.3" fill="#a5a5a5"/>
<text x="498.60" y="187.66" font-size="8.0" text-anchor="start" font-weight="normal" fill="#231f20" >003</text>
<line x1="484.80" y1="196.19" x2="496.40" y2="196.19" stroke="#ffc000" stroke-width="1.2" />
<circle cx="490.60" cy="196.19" r="1.3" fill="#ffc000"/>
<text x="498.60" y="199.09" font-size="8.0" text-anchor="start" font-weight="normal" fill="#231f20" >004</text>
<line x1="484.80" y1="207.62" x2="496.40" y2="207.62" stroke="#5b9bd5" stroke-width="1.2" />
<circle cx="490.60" cy="207.62" r="1.3" fill="#5b9bd5"/>
<text x="498.60" y="210.52" font-size="8.0" text-anchor="start" font-weight="normal" fill="#231f20" >005</text>
<line x1="484.80" y1="219.05" x2="496.40" y2="219.05" stroke="#6aa842" stroke-width="1.2" />
<circle cx="490.60" cy="219.05" r="1.3" fill="#6aa842"/>
<text x="498.60" y="221.95" font-size="8.0" text-anchor="start" font-weight="normal" fill="#231f20" >009</text>
<line x1="484.80" y1="230.48" x2="496.40" y2="230.48" stroke="#255e91" stroke-width="1.2" />
<circle cx="490.60" cy="230.48" r="1.3" fill="#255e91"/>
<text x="498.60" y="233.38" font-size="8.0" text-anchor="start" font-weight="normal" fill="#231f20" >010</text>
<line x1="484.80" y1="241.91" x2="496.40" y2="241.91" stroke="#9e480e" stroke-width="1.2" />
<circle cx="490.60" cy="241.91" r="1.3" fill="#9e480e"/>
<text x="498.60" y="244.81" font-size="8.0" text-anchor="start" font-weight="normal" fill="#231f20" >014</text>
<line x1="484.80" y1="253.34" x2="496.40" y2="253.34" stroke="#7030a0" stroke-width="1.2" />
<circle cx="490.60" cy="253.34" r="1.3" fill="#7030a0"/>
<text x="498.60" y="256.24" font-size="8.0" text-anchor="start" font-weight="normal" fill="#231f20" >016</text>
<line x1="484.80" y1="264.77" x2="496.40" y2="264.77" stroke="#43682b" stroke-width="1.2" />
<circle cx="490.60" cy="264.77" r="1.3" fill="#43682b"/>
<text x="498.60" y="267.67" font-size="8.0" text-anchor="start" font-weight="normal" fill="#231f20" >017</text>
<line x1="41.40" y1="391.78" x2="464.80" y2="391.78" stroke="#e6e6e6" stroke-width="0.8" />
<line x1="41.40" y1="369.16" x2="464.80" y2="369.16" stroke="#e6e6e6" stroke-width="0.8" />
<line x1="41.40" y1="346.54" x2="464.80" y2="346.54" stroke="#e6e6e6" stroke-width="0.8" />
<line x1="41.40" y1="323.92" x2="464.80" y2="323.92" stroke="#e6e6e6" stroke-width="0.8" />
<line x1="41.40" y1="301.30" x2="464.80" y2="301.30" stroke="#e6e6e6" stroke-width="0.8" />
<line x1="98.06" y1="301.30" x2="98.06" y2="414.40" stroke="#e6e6e6" stroke-width="0.8" />
<line x1="154.52" y1="301.30" x2="154.52" y2="414.40" stroke="#e6e6e6" stroke-width="0.8" />
<line x1="210.98" y1="301.30" x2="210.98" y2="414.40" stroke="#e6e6e6" stroke-width="0.8" />
<line x1="267.44" y1="301.30" x2="267.44" y2="414.40" stroke="#e6e6e6" stroke-width="0.8" />
<line x1="323.90" y1="301.30" x2="323.90" y2="414.40" stroke="#e6e6e6" stroke-width="0.8" />
<line x1="380.36" y1="301.30" x2="380.36" y2="414.40" stroke="#e6e6e6" stroke-width="0.8" />
<line x1="436.82" y1="301.30" x2="436.82" y2="414.40" stroke="#e6e6e6" stroke-width="0.8" />
<line x1="41.40" y1="414.40" x2="464.80" y2="414.40" stroke="#8c8c8c" stroke-width="1.0" />
<line x1="41.40" y1="300.30" x2="41.40" y2="414.40" stroke="#b8b8b8" stroke-width="1.6" />
<line x1="39.60" y1="414.40" x2="41.40" y2="414.40" stroke="#888" stroke-width="0.8" />
<text x="38.60" y="417.10" font-size="7.7" text-anchor="end" font-weight="normal" fill="#231f20" >0</text>
<line x1="39.60" y1="391.78" x2="41.40" y2="391.78" stroke="#888" stroke-width="0.8" />
<text x="38.60" y="394.48" font-size="7.7" text-anchor="end" font-weight="normal" fill="#231f20" >10</text>
<line x1="39.60" y1="369.16" x2="41.40" y2="369.16" stroke="#888" stroke-width="0.8" />
<text x="38.60" y="371.86" font-size="7.7" text-anchor="end" font-weight="normal" fill="#231f20" >20</text>
<line x1="39.60" y1="346.54" x2="41.40" y2="346.54" stroke="#888" stroke-width="0.8" />
<text x="38.60" y="349.24" font-size="7.7" text-anchor="end" font-weight="normal" fill="#231f20" >30</text>
<line x1="39.60" y1="323.92" x2="41.40" y2="323.92" stroke="#888" stroke-width="0.8" />
<text x="38.60" y="326.62" font-size="7.7" text-anchor="end" font-weight="normal" fill="#231f20" >40</text>
<line x1="39.60" y1="301.30" x2="41.40" y2="301.30" stroke="#888" stroke-width="0.8" />
<text x="38.60" y="304.00" font-size="7.7" text-anchor="end" font-weight="normal" fill="#231f20" >50</text>
<line x1="41.60" y1="414.40" x2="41.60" y2="416.00" stroke="#888" stroke-width="0.8" />
<text x="41.60" y="425.40" font-size="7.6" text-anchor="middle" font-weight="normal" fill="#231f20" >0</text>
<line x1="98.06" y1="414.40" x2="98.06" y2="416.00" stroke="#888" stroke-width="0.8" />
<text x="98.06" y="425.40" font-size="7.6" text-anchor="middle" font-weight="normal" fill="#231f20" >120</text>
<line x1="154.52" y1="414.40" x2="154.52" y2="416.00" stroke="#888" stroke-width="0.8" />
<text x="154.52" y="425.40" font-size="7.6" text-anchor="middle" font-weight="normal" fill="#231f20" >240</text>
<line x1="210.98" y1="414.40" x2="210.98" y2="416.00" stroke="#888" stroke-width="0.8" />
<text x="210.98" y="425.40" font-size="7.6" text-anchor="middle" font-weight="normal" fill="#231f20" >360</text>
<line x1="267.44" y1="414.40" x2="267.44" y2="416.00" stroke="#888" stroke-width="0.8" />
<text x="267.44" y="425.40" font-size="7.6" text-anchor="middle" font-weight="normal" fill="#231f20" >480</text>
<line x1="323.90" y1="414.40" x2="323.90" y2="416.00" stroke="#888" stroke-width="0.8" />
<text x="323.90" y="425.40" font-size="7.6" text-anchor="middle" font-weight="normal" fill="#231f20" >600</text>
<line x1="380.36" y1="414.40" x2="380.36" y2="416.00" stroke="#888" stroke-width="0.8" />
<text x="380.36" y="425.40" font-size="7.6" text-anchor="middle" font-weight="normal" fill="#231f20" >720</text>
<line x1="436.82" y1="414.40" x2="436.82" y2="416.00" stroke="#888" stroke-width="0.8" />
<text x="436.82" y="425.40" font-size="7.6" text-anchor="middle" font-weight="normal" fill="#231f20" >840</text>
<text x="253.50" y="438.40" font-size="8.1" text-anchor="middle" font-weight="normal" fill="#231f20" >Days after T-cell infusion</text>
<text x="12.50" y="359.90" font-size="8.4" text-anchor="middle" font-weight="normal" fill="#231f20" transform="rotate(-90 12.5 359.9)">CD3<tspan font-size="5.4" dy="-3">+</tspan><tspan dy="3">/EGFRt</tspan><tspan font-size="5.4" dy="-3">+</tspan><tspan dy="3"> as</tspan></text>
<text x="22.20" y="359.40" font-size="8.1" text-anchor="middle" font-weight="normal" fill="#231f20" transform="rotate(-90 22.2 359.4)">% of viable singlets</text>
<line x1="481.00" y1="312.90" x2="493.00" y2="312.90" stroke="#4472c4" stroke-width="1.2" />
<circle cx="487.00" cy="312.90" r="1.3" fill="#4472c4"/>
<text x="494.40" y="315.80" font-size="8.0" text-anchor="start" font-weight="normal" fill="#231f20" >001</text>
<line x1="481.00" y1="324.27" x2="493.00" y2="324.27" stroke="#ed7d31" stroke-width="1.2" />
<circle cx="487.00" cy="324.27" r="1.3" fill="#ed7d31"/>
<text x="494.40" y="327.17" font-size="8.0" text-anchor="start" font-weight="normal" fill="#231f20" >002</text>
<line x1="481.00" y1="335.64" x2="493.00" y2="335.64" stroke="#a5a5a5" stroke-width="1.2" />
<circle cx="487.00" cy="335.64" r="1.3" fill="#a5a5a5"/>
<text x="494.40" y="338.54" font-size="8.0" text-anchor="start" font-weight="normal" fill="#231f20" >003</text>
<line x1="481.00" y1="347.01" x2="493.00" y2="347.01" stroke="#ffc000" stroke-width="1.2" />
<circle cx="487.00" cy="347.01" r="1.3" fill="#ffc000"/>
<text x="494.40" y="349.91" font-size="8.0" text-anchor="start" font-weight="normal" fill="#231f20" >004</text>
<line x1="481.00" y1="358.38" x2="493.00" y2="358.38" stroke="#5b9bd5" stroke-width="1.2" />
<circle cx="487.00" cy="358.38" r="1.3" fill="#5b9bd5"/>
<text x="494.40" y="361.28" font-size="8.0" text-anchor="start" font-weight="normal" fill="#231f20" >005</text>
<line x1="481.00" y1="369.75" x2="493.00" y2="369.75" stroke="#6aa842" stroke-width="1.2" />
<circle cx="487.00" cy="369.75" r="1.3" fill="#6aa842"/>
<text x="494.40" y="372.65" font-size="8.0" text-anchor="start" font-weight="normal" fill="#231f20" >009</text>
<line x1="481.00" y1="381.12" x2="493.00" y2="381.12" stroke="#255e91" stroke-width="1.2" />
<circle cx="487.00" cy="381.12" r="1.3" fill="#255e91"/>
<text x="494.40" y="384.02" font-size="8.0" text-anchor="start" font-weight="normal" fill="#231f20" >010</text>
<line x1="481.00" y1="392.49" x2="493.00" y2="392.49" stroke="#9e480e" stroke-width="1.2" />
<circle cx="487.00" cy="392.49" r="1.3" fill="#9e480e"/>
<text x="494.40" y="395.39" font-size="8.0" text-anchor="start" font-weight="normal" fill="#231f20" >014</text>
<line x1="481.00" y1="403.86" x2="493.00" y2="403.86" stroke="#7030a0" stroke-width="1.2" />
<circle cx="487.00" cy="403.86" r="1.3" fill="#7030a0"/>
<text x="494.40" y="406.76" font-size="8.0" text-anchor="start" font-weight="normal" fill="#231f20" >016</text>
<line x1="481.00" y1="415.23" x2="493.00" y2="415.23" stroke="#43682b" stroke-width="1.2" />
<circle cx="487.00" cy="415.23" r="1.3" fill="#43682b"/>
<text x="494.40" y="418.13" font-size="8.0" text-anchor="start" font-weight="normal" fill="#231f20" >017</text>
<rect x="312.7" y="340" width="82.5" height="26.5" fill="#fff"/>
<text x="355.70" y="353.00" font-size="8.1" text-anchor="middle" font-weight="normal" fill="#231f20" >Patient 004 redosed</text>
<text x="355.60" y="362.30" font-size="8.1" text-anchor="middle" font-weight="normal" fill="#231f20" >on day 595</text>
<line x1="339.60" y1="366.00" x2="332.50" y2="375.30" stroke="#111" stroke-width="1.2" />
<polygon points="330.6,378.2 330.3,372.8 334.9,375.9" fill="#111"/>
<line x1="41.80" y1="550.37" x2="464.60" y2="550.37" stroke="#e6e6e6" stroke-width="0.8" />
<line x1="41.80" y1="534.14" x2="464.60" y2="534.14" stroke="#e6e6e6" stroke-width="0.8" />
<line x1="41.80" y1="517.91" x2="464.60" y2="517.91" stroke="#e6e6e6" stroke-width="0.8" />
<line x1="41.80" y1="501.69" x2="464.60" y2="501.69" stroke="#e6e6e6" stroke-width="0.8" />
<line x1="41.80" y1="485.46" x2="464.60" y2="485.46" stroke="#e6e6e6" stroke-width="0.8" />
<line x1="41.80" y1="469.23" x2="464.60" y2="469.23" stroke="#e6e6e6" stroke-width="0.8" />
<line x1="41.80" y1="453.00" x2="464.60" y2="453.00" stroke="#e6e6e6" stroke-width="0.8" />
<line x1="97.96" y1="453.00" x2="97.96" y2="566.60" stroke="#e6e6e6" stroke-width="0.8" />
<line x1="154.42" y1="453.00" x2="154.42" y2="566.60" stroke="#e6e6e6" stroke-width="0.8" />
<line x1="210.88" y1="453.00" x2="210.88" y2="566.60" stroke="#e6e6e6" stroke-width="0.8" />
<line x1="267.34" y1="453.00" x2="267.34" y2="566.60" stroke="#e6e6e6" stroke-width="0.8" />
<line x1="323.80" y1="453.00" x2="323.80" y2="566.60" stroke="#e6e6e6" stroke-width="0.8" />
<line x1="380.26" y1="453.00" x2="380.26" y2="566.60" stroke="#e6e6e6" stroke-width="0.8" />
<line x1="436.72" y1="453.00" x2="436.72" y2="566.60" stroke="#e6e6e6" stroke-width="0.8" />
<line x1="41.80" y1="566.60" x2="464.60" y2="566.60" stroke="#8c8c8c" stroke-width="1.0" />
<line x1="41.80" y1="452.00" x2="41.80" y2="566.60" stroke="#b8b8b8" stroke-width="1.6" />
<line x1="40.00" y1="566.60" x2="41.80" y2="566.60" stroke="#888" stroke-width="0.8" />
<text x="38.80" y="569.30" font-size="7.7" text-anchor="end" font-weight="normal" fill="#231f20" >0</text>
<line x1="40.00" y1="550.37" x2="41.80" y2="550.37" stroke="#888" stroke-width="0.8" />
<text x="38.80" y="553.07" font-size="7.7" text-anchor="end" font-weight="normal" fill="#231f20" >2</text>
<line x1="40.00" y1="534.14" x2="41.80" y2="534.14" stroke="#888" stroke-width="0.8" />
<text x="38.80" y="536.84" font-size="7.7" text-anchor="end" font-weight="normal" fill="#231f20" >4</text>
<line x1="40.00" y1="517.91" x2="41.80" y2="517.91" stroke="#888" stroke-width="0.8" />
<text x="38.80" y="520.61" font-size="7.7" text-anchor="end" font-weight="normal" fill="#231f20" >6</text>
<line x1="40.00" y1="501.69" x2="41.80" y2="501.69" stroke="#888" stroke-width="0.8" />
<text x="38.80" y="504.39" font-size="7.7" text-anchor="end" font-weight="normal" fill="#231f20" >8</text>
<line x1="40.00" y1="485.46" x2="41.80" y2="485.46" stroke="#888" stroke-width="0.8" />
<text x="38.80" y="488.16" font-size="7.7" text-anchor="end" font-weight="normal" fill="#231f20" >10</text>
<line x1="40.00" y1="469.23" x2="41.80" y2="469.23" stroke="#888" stroke-width="0.8" />
<text x="38.80" y="471.93" font-size="7.7" text-anchor="end" font-weight="normal" fill="#231f20" >12</text>
<line x1="40.00" y1="453.00" x2="41.80" y2="453.00" stroke="#888" stroke-width="0.8" />
<text x="38.80" y="455.70" font-size="7.7" text-anchor="end" font-weight="normal" fill="#231f20" >14</text>
<line x1="41.50" y1="566.60" x2="41.50" y2="568.20" stroke="#888" stroke-width="0.8" />
<text x="41.50" y="577.80" font-size="7.6" text-anchor="middle" font-weight="normal" fill="#231f20" >0</text>
<line x1="97.96" y1="566.60" x2="97.96" y2="568.20" stroke="#888" stroke-width="0.8" />
<text x="97.96" y="577.80" font-size="7.6" text-anchor="middle" font-weight="normal" fill="#231f20" >120</text>
<line x1="154.42" y1="566.60" x2="154.42" y2="568.20" stroke="#888" stroke-width="0.8" />
<text x="154.42" y="577.80" font-size="7.6" text-anchor="middle" font-weight="normal" fill="#231f20" >240</text>
<line x1="210.88" y1="566.60" x2="210.88" y2="568.20" stroke="#888" stroke-width="0.8" />
<text x="210.88" y="577.80" font-size="7.6" text-anchor="middle" font-weight="normal" fill="#231f20" >360</text>
<line x1="267.34" y1="566.60" x2="267.34" y2="568.20" stroke="#888" stroke-width="0.8" />
<text x="267.34" y="577.80" font-size="7.6" text-anchor="middle" font-weight="normal" fill="#231f20" >480</text>
<line x1="323.80" y1="566.60" x2="323.80" y2="568.20" stroke="#888" stroke-width="0.8" />
<text x="323.80" y="577.80" font-size="7.6" text-anchor="middle" font-weight="normal" fill="#231f20" >600</text>
<line x1="380.26" y1="566.60" x2="380.26" y2="568.20" stroke="#888" stroke-width="0.8" />
<text x="380.26" y="577.80" font-size="7.6" text-anchor="middle" font-weight="normal" fill="#231f20" >720</text>
<line x1="436.72" y1="566.60" x2="436.72" y2="568.20" stroke="#888" stroke-width="0.8" />
<text x="436.72" y="577.80" font-size="7.6" text-anchor="middle" font-weight="normal" fill="#231f20" >840</text>
<text x="253.50" y="589.60" font-size="8.1" text-anchor="middle" font-weight="normal" fill="#231f20" >Days after T-cell infusion</text>
<text x="12.70" y="510.00" font-size="8.1" text-anchor="middle" font-weight="normal" fill="#231f20" transform="rotate(-90 12.7 510)">% CD19<tspan font-size="5.3" dy="-3">+</tspan><tspan dy="3"> and/or CD20</tspan><tspan font-size="5.3" dy="-3">+</tspan></text>
<text x="22.20" y="510.20" font-size="8.0" text-anchor="middle" font-weight="normal" fill="#231f20" transform="rotate(-90 22.2 510.2)">among lymphocytes</text>
<line x1="41.80" y1="542.70" x2="464.60" y2="542.70" stroke="#e2463f" stroke-width="1.3" stroke-dasharray="2,1.5"/>
<line x1="473.80" y1="455.70" x2="488.20" y2="455.70" stroke="#4472c4" stroke-width="1.2" />
<circle cx="481.00" cy="455.70" r="1.3" fill="#4472c4"/>
<text x="490.00" y="458.60" font-size="8.0" text-anchor="start" font-weight="normal" fill="#231f20" >001</text>
<line x1="473.80" y1="466.90" x2="488.20" y2="466.90" stroke="#ed7d31" stroke-width="1.2" />
<circle cx="481.00" cy="466.90" r="1.3" fill="#ed7d31"/>
<text x="490.00" y="469.80" font-size="8.0" text-anchor="start" font-weight="normal" fill="#231f20" >002</text>
<line x1="473.80" y1="478.10" x2="488.20" y2="478.10" stroke="#a5a5a5" stroke-width="1.2" />
<circle cx="481.00" cy="478.10" r="1.3" fill="#a5a5a5"/>
<text x="490.00" y="481.00" font-size="8.0" text-anchor="start" font-weight="normal" fill="#231f20" >003</text>
<line x1="473.80" y1="489.30" x2="488.20" y2="489.30" stroke="#ffc000" stroke-width="1.2" />
<circle cx="481.00" cy="489.30" r="1.3" fill="#ffc000"/>
<text x="490.00" y="492.20" font-size="8.0" text-anchor="start" font-weight="normal" fill="#231f20" >004</text>
<line x1="473.80" y1="500.50" x2="488.20" y2="500.50" stroke="#5b9bd5" stroke-width="1.2" />
<circle cx="481.00" cy="500.50" r="1.3" fill="#5b9bd5"/>
<text x="490.00" y="503.40" font-size="8.0" text-anchor="start" font-weight="normal" fill="#231f20" >005</text>
<line x1="473.80" y1="511.70" x2="488.20" y2="511.70" stroke="#6aa842" stroke-width="1.2" />
<circle cx="481.00" cy="511.70" r="1.3" fill="#6aa842"/>
<text x="490.00" y="514.60" font-size="8.0" text-anchor="start" font-weight="normal" fill="#231f20" >009</text>
<line x1="473.80" y1="522.90" x2="488.20" y2="522.90" stroke="#255e91" stroke-width="1.2" />
<circle cx="481.00" cy="522.90" r="1.3" fill="#255e91"/>
<text x="490.00" y="525.80" font-size="8.0" text-anchor="start" font-weight="normal" fill="#231f20" >010</text>
<line x1="473.80" y1="534.10" x2="488.20" y2="534.10" stroke="#9e480e" stroke-width="1.2" />
<circle cx="481.00" cy="534.10" r="1.3" fill="#9e480e"/>
<text x="490.00" y="537.00" font-size="8.0" text-anchor="start" font-weight="normal" fill="#231f20" >014</text>
<line x1="473.80" y1="545.30" x2="488.20" y2="545.30" stroke="#7030a0" stroke-width="1.2" />
<circle cx="481.00" cy="545.30" r="1.3" fill="#7030a0"/>
<text x="490.00" y="548.20" font-size="8.0" text-anchor="start" font-weight="normal" fill="#231f20" >016</text>
<line x1="473.80" y1="556.50" x2="488.20" y2="556.50" stroke="#43682b" stroke-width="1.2" />
<circle cx="481.00" cy="556.50" r="1.3" fill="#43682b"/>
<text x="490.00" y="559.40" font-size="8.0" text-anchor="start" font-weight="normal" fill="#231f20" >017</text>
<line x1="473.80" y1="567.70" x2="488.20" y2="567.70" stroke="#e2463f" stroke-width="1.3" stroke-dasharray="2,1.5"/>
<text x="490.00" y="570.60" font-size="8.0" text-anchor="start" font-weight="normal" fill="#231f20" >3% Line</text>
<rect x="203" y="454" width="65" height="35.5" fill="#fff"/>
<text x="235.20" y="466.30" font-size="7.7" text-anchor="middle" font-weight="normal" fill="#231f20" >Patient 004</text>
<text x="235.20" y="475.60" font-size="7.7" text-anchor="middle" font-weight="normal" fill="#231f20" >relapse detected</text>
<text x="235.20" y="484.60" font-size="7.7" text-anchor="middle" font-weight="normal" fill="#231f20" >on day 555</text>
<line x1="270.20" y1="467.90" x2="285.50" y2="467.90" stroke="#111" stroke-width="1.2" />
<polygon points="289.2,467.9 284.4,465.3 284.4,470.5" fill="#111"/>
<line x1="39.80" y1="711.17" x2="143.50" y2="711.17" stroke="#dcdcdc" stroke-width="0.8" />
<line x1="39.80" y1="691.83" x2="143.50" y2="691.83" stroke="#dcdcdc" stroke-width="0.8" />
<line x1="39.80" y1="672.50" x2="143.50" y2="672.50" stroke="#dcdcdc" stroke-width="0.8" />
<line x1="39.80" y1="653.17" x2="143.50" y2="653.17" stroke="#dcdcdc" stroke-width="0.8" />
<line x1="39.80" y1="633.83" x2="143.50" y2="633.83" stroke="#dcdcdc" stroke-width="0.8" />
<line x1="57.08" y1="614.50" x2="57.08" y2="730.50" stroke="#dcdcdc" stroke-width="0.8" />
<line x1="74.37" y1="614.50" x2="74.37" y2="730.50" stroke="#dcdcdc" stroke-width="0.8" />
<line x1="91.65" y1="614.50" x2="91.65" y2="730.50" stroke="#dcdcdc" stroke-width="0.8" />
<line x1="108.93" y1="614.50" x2="108.93" y2="730.50" stroke="#dcdcdc" stroke-width="0.8" />
<line x1="126.22" y1="614.50" x2="126.22" y2="730.50" stroke="#dcdcdc" stroke-width="0.8" />
<rect x="39.8" y="614.5" width="103.70" height="116.00" fill="none" stroke="#7a7a7a" stroke-width="0.9"/>
<text x="36.20" y="733.50" font-size="8.4" text-anchor="end" font-weight="normal" fill="#231f20" >0</text>
<text x="36.20" y="714.17" font-size="8.4" text-anchor="end" font-weight="normal" fill="#231f20" >100</text>
<text x="36.20" y="694.83" font-size="8.4" text-anchor="end" font-weight="normal" fill="#231f20" >200</text>
<text x="36.20" y="675.50" font-size="8.4" text-anchor="end" font-weight="normal" fill="#231f20" >300</text>
<text x="36.20" y="656.17" font-size="8.4" text-anchor="end" font-weight="normal" fill="#231f20" >400</text>
<text x="36.20" y="636.83" font-size="8.4" text-anchor="end" font-weight="normal" fill="#231f20" >500</text>
<text x="36.20" y="617.50" font-size="8.4" text-anchor="end" font-weight="normal" fill="#231f20" >600</text>
<line x1="39.80" y1="730.50" x2="39.80" y2="732.30" stroke="#7a7a7a" stroke-width="0.8" />
<text x="39.20" y="743.10" font-size="8.5" text-anchor="middle" font-weight="normal" fill="#231f20" >−30</text>
<line x1="57.08" y1="730.50" x2="57.08" y2="732.30" stroke="#7a7a7a" stroke-width="0.8" />
<text x="56.48" y="743.10" font-size="8.5" text-anchor="middle" font-weight="normal" fill="#231f20" >−20</text>
<line x1="74.37" y1="730.50" x2="74.37" y2="732.30" stroke="#7a7a7a" stroke-width="0.8" />
<text x="73.77" y="743.10" font-size="8.5" text-anchor="middle" font-weight="normal" fill="#231f20" >−10</text>
<line x1="91.65" y1="730.50" x2="91.65" y2="732.30" stroke="#7a7a7a" stroke-width="0.8" />
<text x="91.65" y="743.10" font-size="8.5" text-anchor="middle" font-weight="normal" fill="#231f20" >0</text>
<line x1="108.93" y1="730.50" x2="108.93" y2="732.30" stroke="#7a7a7a" stroke-width="0.8" />
<text x="108.93" y="743.10" font-size="8.5" text-anchor="middle" font-weight="normal" fill="#231f20" >10</text>
<line x1="126.22" y1="730.50" x2="126.22" y2="732.30" stroke="#7a7a7a" stroke-width="0.8" />
<text x="126.22" y="743.10" font-size="8.5" text-anchor="middle" font-weight="normal" fill="#231f20" >20</text>
<line x1="143.50" y1="730.50" x2="143.50" y2="732.30" stroke="#7a7a7a" stroke-width="0.8" />
<text x="143.50" y="743.10" font-size="8.5" text-anchor="middle" font-weight="normal" fill="#231f20" >30</text>
<text x="91.65" y="755.50" font-size="8.6" text-anchor="middle" font-weight="normal" fill="#231f20" >Days from T-cell infusion</text>
<text x="91.85" y="609.30" font-size="8.6" text-anchor="middle" font-weight="normal" fill="#231f20" >IL6</text>
<text x="15.80" y="672.50" font-size="8.5" text-anchor="middle" font-weight="normal" fill="#231f20" transform="rotate(-90 15.8 672.50)">pg/mL</text>
<line x1="218.40" y1="701.50" x2="323.20" y2="701.50" stroke="#dcdcdc" stroke-width="0.8" />
<line x1="218.40" y1="672.50" x2="323.20" y2="672.50" stroke="#dcdcdc" stroke-width="0.8" />
<line x1="218.40" y1="643.50" x2="323.20" y2="643.50" stroke="#dcdcdc" stroke-width="0.8" />
<line x1="235.87" y1="614.50" x2="235.87" y2="730.50" stroke="#dcdcdc" stroke-width="0.8" />
<line x1="253.33" y1="614.50" x2="253.33" y2="730.50" stroke="#dcdcdc" stroke-width="0.8" />
<line x1="270.80" y1="614.50" x2="270.80" y2="730.50" stroke="#dcdcdc" stroke-width="0.8" />
<line x1="288.27" y1="614.50" x2="288.27" y2="730.50" stroke="#dcdcdc" stroke-width="0.8" />
<line x1="305.73" y1="614.50" x2="305.73" y2="730.50" stroke="#dcdcdc" stroke-width="0.8" />
<rect x="218.4" y="614.5" width="104.80" height="116.00" fill="none" stroke="#7a7a7a" stroke-width="0.9"/>
<text x="214.80" y="733.50" font-size="8.4" text-anchor="end" font-weight="normal" fill="#231f20" >0</text>
<text x="214.80" y="704.50" font-size="8.4" text-anchor="end" font-weight="normal" fill="#231f20" >50</text>
<text x="214.80" y="675.50" font-size="8.4" text-anchor="end" font-weight="normal" fill="#231f20" >100</text>
<text x="214.80" y="646.50" font-size="8.4" text-anchor="end" font-weight="normal" fill="#231f20" >150</text>
<text x="214.80" y="617.50" font-size="8.4" text-anchor="end" font-weight="normal" fill="#231f20" >200</text>
<line x1="218.40" y1="730.50" x2="218.40" y2="732.30" stroke="#7a7a7a" stroke-width="0.8" />
<text x="217.80" y="743.10" font-size="8.5" text-anchor="middle" font-weight="normal" fill="#231f20" >−30</text>
<line x1="235.87" y1="730.50" x2="235.87" y2="732.30" stroke="#7a7a7a" stroke-width="0.8" />
<text x="235.27" y="743.10" font-size="8.5" text-anchor="middle" font-weight="normal" fill="#231f20" >−20</text>
<line x1="253.33" y1="730.50" x2="253.33" y2="732.30" stroke="#7a7a7a" stroke-width="0.8" />
<text x="252.73" y="743.10" font-size="8.5" text-anchor="middle" font-weight="normal" fill="#231f20" >−10</text>
<line x1="270.80" y1="730.50" x2="270.80" y2="732.30" stroke="#7a7a7a" stroke-width="0.8" />
<text x="270.80" y="743.10" font-size="8.5" text-anchor="middle" font-weight="normal" fill="#231f20" >0</text>
<line x1="288.27" y1="730.50" x2="288.27" y2="732.30" stroke="#7a7a7a" stroke-width="0.8" />
<text x="288.27" y="743.10" font-size="8.5" text-anchor="middle" font-weight="normal" fill="#231f20" >10</text>
<line x1="305.73" y1="730.50" x2="305.73" y2="732.30" stroke="#7a7a7a" stroke-width="0.8" />
<text x="305.73" y="743.10" font-size="8.5" text-anchor="middle" font-weight="normal" fill="#231f20" >20</text>
<line x1="323.20" y1="730.50" x2="323.20" y2="732.30" stroke="#7a7a7a" stroke-width="0.8" />
<text x="323.20" y="743.10" font-size="8.5" text-anchor="middle" font-weight="normal" fill="#231f20" >30</text>
<text x="270.80" y="755.50" font-size="8.6" text-anchor="middle" font-weight="normal" fill="#231f20" >Days from T-cell infusion</text>
<text x="271.00" y="609.30" font-size="8.6" text-anchor="middle" font-weight="normal" fill="#231f20" >IFNγ</text>
<text x="194.60" y="672.50" font-size="8.5" text-anchor="middle" font-weight="normal" fill="#231f20" transform="rotate(-90 194.6 672.50)">pg/mL</text>
<line x1="391.50" y1="717.61" x2="501.40" y2="717.61" stroke="#dcdcdc" stroke-width="0.8" />
<line x1="391.50" y1="704.72" x2="501.40" y2="704.72" stroke="#dcdcdc" stroke-width="0.8" />
<line x1="391.50" y1="691.83" x2="501.40" y2="691.83" stroke="#dcdcdc" stroke-width="0.8" />
<line x1="391.50" y1="678.94" x2="501.40" y2="678.94" stroke="#dcdcdc" stroke-width="0.8" />
<line x1="391.50" y1="666.06" x2="501.40" y2="666.06" stroke="#dcdcdc" stroke-width="0.8" />
<line x1="391.50" y1="653.17" x2="501.40" y2="653.17" stroke="#dcdcdc" stroke-width="0.8" />
<line x1="391.50" y1="640.28" x2="501.40" y2="640.28" stroke="#dcdcdc" stroke-width="0.8" />
<line x1="391.50" y1="627.39" x2="501.40" y2="627.39" stroke="#dcdcdc" stroke-width="0.8" />
<line x1="409.82" y1="614.50" x2="409.82" y2="730.50" stroke="#dcdcdc" stroke-width="0.8" />
<line x1="428.13" y1="614.50" x2="428.13" y2="730.50" stroke="#dcdcdc" stroke-width="0.8" />
<line x1="446.45" y1="614.50" x2="446.45" y2="730.50" stroke="#dcdcdc" stroke-width="0.8" />
<line x1="464.77" y1="614.50" x2="464.77" y2="730.50" stroke="#dcdcdc" stroke-width="0.8" />
<line x1="483.08" y1="614.50" x2="483.08" y2="730.50" stroke="#dcdcdc" stroke-width="0.8" />
<rect x="391.5" y="614.5" width="109.90" height="116.00" fill="none" stroke="#7a7a7a" stroke-width="0.9"/>
<text x="387.90" y="733.50" font-size="8.4" text-anchor="end" font-weight="normal" fill="#231f20" >0</text>
<text x="387.90" y="720.61" font-size="8.4" text-anchor="end" font-weight="normal" fill="#231f20" >5</text>
<text x="387.90" y="707.72" font-size="8.4" text-anchor="end" font-weight="normal" fill="#231f20" >10</text>
<text x="387.90" y="694.83" font-size="8.4" text-anchor="end" font-weight="normal" fill="#231f20" >15</text>
<text x="387.90" y="681.94" font-size="8.4" text-anchor="end" font-weight="normal" fill="#231f20" >20</text>
<text x="387.90" y="669.06" font-size="8.4" text-anchor="end" font-weight="normal" fill="#231f20" >25</text>
<text x="387.90" y="656.17" font-size="8.4" text-anchor="end" font-weight="normal" fill="#231f20" >30</text>
<text x="387.90" y="643.28" font-size="8.4" text-anchor="end" font-weight="normal" fill="#231f20" >35</text>
<text x="387.90" y="630.39" font-size="8.4" text-anchor="end" font-weight="normal" fill="#231f20" >40</text>
<text x="387.90" y="617.50" font-size="8.4" text-anchor="end" font-weight="normal" fill="#231f20" >45</text>
<line x1="391.50" y1="730.50" x2="391.50" y2="732.30" stroke="#7a7a7a" stroke-width="0.8" />
<text x="390.90" y="743.10" font-size="8.5" text-anchor="middle" font-weight="normal" fill="#231f20" >−30</text>
<line x1="409.82" y1="730.50" x2="409.82" y2="732.30" stroke="#7a7a7a" stroke-width="0.8" />
<text x="409.22" y="743.10" font-size="8.5" text-anchor="middle" font-weight="normal" fill="#231f20" >−20</text>
<line x1="428.13" y1="730.50" x2="428.13" y2="732.30" stroke="#7a7a7a" stroke-width="0.8" />
<text x="427.53" y="743.10" font-size="8.5" text-anchor="middle" font-weight="normal" fill="#231f20" >−10</text>
<line x1="446.45" y1="730.50" x2="446.45" y2="732.30" stroke="#7a7a7a" stroke-width="0.8" />
<text x="446.45" y="743.10" font-size="8.5" text-anchor="middle" font-weight="normal" fill="#231f20" >0</text>
<line x1="464.77" y1="730.50" x2="464.77" y2="732.30" stroke="#7a7a7a" stroke-width="0.8" />
<text x="464.77" y="743.10" font-size="8.5" text-anchor="middle" font-weight="normal" fill="#231f20" >10</text>
<line x1="483.08" y1="730.50" x2="483.08" y2="732.30" stroke="#7a7a7a" stroke-width="0.8" />
<text x="483.08" y="743.10" font-size="8.5" text-anchor="middle" font-weight="normal" fill="#231f20" >20</text>
<line x1="501.40" y1="730.50" x2="501.40" y2="732.30" stroke="#7a7a7a" stroke-width="0.8" />
<text x="501.40" y="743.10" font-size="8.5" text-anchor="middle" font-weight="normal" fill="#231f20" >30</text>
<text x="446.45" y="755.50" font-size="8.6" text-anchor="middle" font-weight="normal" fill="#231f20" >Days from T-cell infusion</text>
<text x="446.65" y="609.30" font-size="8.6" text-anchor="middle" font-weight="normal" fill="#231f20" >IL1β</text>
<text x="372.70" y="672.50" font-size="8.5" text-anchor="middle" font-weight="normal" fill="#231f20" transform="rotate(-90 372.7 672.50)">pg/mL</text>
<line x1="93.85" y1="891.88" x2="203.60" y2="891.88" stroke="#dcdcdc" stroke-width="0.8" />
<line x1="93.85" y1="878.96" x2="203.60" y2="878.96" stroke="#dcdcdc" stroke-width="0.8" />
<line x1="93.85" y1="866.03" x2="203.60" y2="866.03" stroke="#dcdcdc" stroke-width="0.8" />
<line x1="93.85" y1="853.11" x2="203.60" y2="853.11" stroke="#dcdcdc" stroke-width="0.8" />
<line x1="93.85" y1="840.19" x2="203.60" y2="840.19" stroke="#dcdcdc" stroke-width="0.8" />
<line x1="93.85" y1="827.27" x2="203.60" y2="827.27" stroke="#dcdcdc" stroke-width="0.8" />
<line x1="93.85" y1="814.34" x2="203.60" y2="814.34" stroke="#dcdcdc" stroke-width="0.8" />
<line x1="93.85" y1="801.42" x2="203.60" y2="801.42" stroke="#dcdcdc" stroke-width="0.8" />
<line x1="112.14" y1="788.50" x2="112.14" y2="904.80" stroke="#dcdcdc" stroke-width="0.8" />
<line x1="130.43" y1="788.50" x2="130.43" y2="904.80" stroke="#dcdcdc" stroke-width="0.8" />
<line x1="148.72" y1="788.50" x2="148.72" y2="904.80" stroke="#dcdcdc" stroke-width="0.8" />
<line x1="167.02" y1="788.50" x2="167.02" y2="904.80" stroke="#dcdcdc" stroke-width="0.8" />
<line x1="185.31" y1="788.50" x2="185.31" y2="904.80" stroke="#dcdcdc" stroke-width="0.8" />
<rect x="93.85" y="788.5" width="109.75" height="116.30" fill="none" stroke="#7a7a7a" stroke-width="0.9"/>
<text x="90.25" y="907.80" font-size="8.4" text-anchor="end" font-weight="normal" fill="#231f20" >0</text>
<text x="90.25" y="894.88" font-size="8.4" text-anchor="end" font-weight="normal" fill="#231f20" >5</text>
<text x="90.25" y="881.96" font-size="8.4" text-anchor="end" font-weight="normal" fill="#231f20" >10</text>
<text x="90.25" y="869.03" font-size="8.4" text-anchor="end" font-weight="normal" fill="#231f20" >15</text>
<text x="90.25" y="856.11" font-size="8.4" text-anchor="end" font-weight="normal" fill="#231f20" >20</text>
<text x="90.25" y="843.19" font-size="8.4" text-anchor="end" font-weight="normal" fill="#231f20" >25</text>
<text x="90.25" y="830.27" font-size="8.4" text-anchor="end" font-weight="normal" fill="#231f20" >30</text>
<text x="90.25" y="817.34" font-size="8.4" text-anchor="end" font-weight="normal" fill="#231f20" >35</text>
<text x="90.25" y="804.42" font-size="8.4" text-anchor="end" font-weight="normal" fill="#231f20" >40</text>
<text x="90.25" y="791.50" font-size="8.4" text-anchor="end" font-weight="normal" fill="#231f20" >45</text>
<line x1="93.85" y1="904.80" x2="93.85" y2="906.60" stroke="#7a7a7a" stroke-width="0.8" />
<text x="93.25" y="917.40" font-size="8.5" text-anchor="middle" font-weight="normal" fill="#231f20" >−30</text>
<line x1="112.14" y1="904.80" x2="112.14" y2="906.60" stroke="#7a7a7a" stroke-width="0.8" />
<text x="111.54" y="917.40" font-size="8.5" text-anchor="middle" font-weight="normal" fill="#231f20" >−20</text>
<line x1="130.43" y1="904.80" x2="130.43" y2="906.60" stroke="#7a7a7a" stroke-width="0.8" />
<text x="129.83" y="917.40" font-size="8.5" text-anchor="middle" font-weight="normal" fill="#231f20" >−10</text>
<line x1="148.72" y1="904.80" x2="148.72" y2="906.60" stroke="#7a7a7a" stroke-width="0.8" />
<text x="148.72" y="917.40" font-size="8.5" text-anchor="middle" font-weight="normal" fill="#231f20" >0</text>
<line x1="167.02" y1="904.80" x2="167.02" y2="906.60" stroke="#7a7a7a" stroke-width="0.8" />
<text x="167.02" y="917.40" font-size="8.5" text-anchor="middle" font-weight="normal" fill="#231f20" >10</text>
<line x1="185.31" y1="904.80" x2="185.31" y2="906.60" stroke="#7a7a7a" stroke-width="0.8" />
<text x="185.31" y="917.40" font-size="8.5" text-anchor="middle" font-weight="normal" fill="#231f20" >20</text>
<line x1="203.60" y1="904.80" x2="203.60" y2="906.60" stroke="#7a7a7a" stroke-width="0.8" />
<text x="203.60" y="917.40" font-size="8.5" text-anchor="middle" font-weight="normal" fill="#231f20" >30</text>
<text x="148.72" y="929.80" font-size="8.6" text-anchor="middle" font-weight="normal" fill="#231f20" >Days from T-cell infusion</text>
<text x="148.92" y="783.30" font-size="8.6" text-anchor="middle" font-weight="normal" fill="#231f20" >IL12P70</text>
<text x="75.00" y="846.65" font-size="8.5" text-anchor="middle" font-weight="normal" fill="#231f20" transform="rotate(-90 75.0 846.65)">pg/mL</text>
<line x1="278.30" y1="885.22" x2="383.35" y2="885.22" stroke="#dcdcdc" stroke-width="0.8" />
<line x1="278.30" y1="865.83" x2="383.35" y2="865.83" stroke="#dcdcdc" stroke-width="0.8" />
<line x1="278.30" y1="846.45" x2="383.35" y2="846.45" stroke="#dcdcdc" stroke-width="0.8" />
<line x1="278.30" y1="827.07" x2="383.35" y2="827.07" stroke="#dcdcdc" stroke-width="0.8" />
<line x1="278.30" y1="807.68" x2="383.35" y2="807.68" stroke="#dcdcdc" stroke-width="0.8" />
<line x1="295.81" y1="788.30" x2="295.81" y2="904.60" stroke="#dcdcdc" stroke-width="0.8" />
<line x1="313.32" y1="788.30" x2="313.32" y2="904.60" stroke="#dcdcdc" stroke-width="0.8" />
<line x1="330.83" y1="788.30" x2="330.83" y2="904.60" stroke="#dcdcdc" stroke-width="0.8" />
<line x1="348.33" y1="788.30" x2="348.33" y2="904.60" stroke="#dcdcdc" stroke-width="0.8" />
<line x1="365.84" y1="788.30" x2="365.84" y2="904.60" stroke="#dcdcdc" stroke-width="0.8" />
<rect x="278.3" y="788.3" width="105.05" height="116.30" fill="none" stroke="#7a7a7a" stroke-width="0.9"/>
<text x="274.70" y="907.60" font-size="8.4" text-anchor="end" font-weight="normal" fill="#231f20" >0</text>
<text x="274.70" y="888.22" font-size="8.4" text-anchor="end" font-weight="normal" fill="#231f20" >50</text>
<text x="274.70" y="868.83" font-size="8.4" text-anchor="end" font-weight="normal" fill="#231f20" >100</text>
<text x="274.70" y="849.45" font-size="8.4" text-anchor="end" font-weight="normal" fill="#231f20" >150</text>
<text x="274.70" y="830.07" font-size="8.4" text-anchor="end" font-weight="normal" fill="#231f20" >200</text>
<text x="274.70" y="810.68" font-size="8.4" text-anchor="end" font-weight="normal" fill="#231f20" >250</text>
<text x="274.70" y="791.30" font-size="8.4" text-anchor="end" font-weight="normal" fill="#231f20" >300</text>
<line x1="278.30" y1="904.60" x2="278.30" y2="906.40" stroke="#7a7a7a" stroke-width="0.8" />
<text x="277.70" y="917.20" font-size="8.5" text-anchor="middle" font-weight="normal" fill="#231f20" >−30</text>
<line x1="295.81" y1="904.60" x2="295.81" y2="906.40" stroke="#7a7a7a" stroke-width="0.8" />
<text x="295.21" y="917.20" font-size="8.5" text-anchor="middle" font-weight="normal" fill="#231f20" >−20</text>
<line x1="313.32" y1="904.60" x2="313.32" y2="906.40" stroke="#7a7a7a" stroke-width="0.8" />
<text x="312.72" y="917.20" font-size="8.5" text-anchor="middle" font-weight="normal" fill="#231f20" >−10</text>
<line x1="330.83" y1="904.60" x2="330.83" y2="906.40" stroke="#7a7a7a" stroke-width="0.8" />
<text x="330.83" y="917.20" font-size="8.5" text-anchor="middle" font-weight="normal" fill="#231f20" >0</text>
<line x1="348.33" y1="904.60" x2="348.33" y2="906.40" stroke="#7a7a7a" stroke-width="0.8" />
<text x="348.33" y="917.20" font-size="8.5" text-anchor="middle" font-weight="normal" fill="#231f20" >10</text>
<line x1="365.84" y1="904.60" x2="365.84" y2="906.40" stroke="#7a7a7a" stroke-width="0.8" />
<text x="365.84" y="917.20" font-size="8.5" text-anchor="middle" font-weight="normal" fill="#231f20" >20</text>
<line x1="383.35" y1="904.60" x2="383.35" y2="906.40" stroke="#7a7a7a" stroke-width="0.8" />
<text x="383.35" y="917.20" font-size="8.5" text-anchor="middle" font-weight="normal" fill="#231f20" >30</text>
<text x="330.83" y="929.60" font-size="8.6" text-anchor="middle" font-weight="normal" fill="#231f20" >Days from T-cell infusion</text>
<text x="331.03" y="783.10" font-size="8.6" text-anchor="middle" font-weight="normal" fill="#231f20" >GM-CSF</text>
<text x="254.30" y="846.45" font-size="8.5" text-anchor="middle" font-weight="normal" fill="#231f20" transform="rotate(-90 254.3 846.45)">pg/mL</text>
<line x1="397.90" y1="784.40" x2="414.70" y2="784.40" stroke="#4472c4" stroke-width="1.2" />
<circle cx="406.3" cy="784.40" r="1.8" fill="#4472c4"/>
<text x="417.80" y="787.50" font-size="8.9" text-anchor="start" font-weight="normal" fill="#231f20" >001</text>
<line x1="397.90" y1="799.28" x2="414.70" y2="799.28" stroke="#ed7d31" stroke-width="1.2" />
<circle cx="406.3" cy="799.28" r="1.8" fill="#ed7d31"/>
<text x="417.80" y="802.38" font-size="8.9" text-anchor="start" font-weight="normal" fill="#231f20" >002</text>
<line x1="397.90" y1="814.16" x2="414.70" y2="814.16" stroke="#a5a5a5" stroke-width="1.2" />
<circle cx="406.3" cy="814.16" r="1.8" fill="#a5a5a5"/>
<text x="417.80" y="817.26" font-size="8.9" text-anchor="start" font-weight="normal" fill="#231f20" >003</text>
<line x1="397.90" y1="829.04" x2="414.70" y2="829.04" stroke="#ffc000" stroke-width="1.2" />
<circle cx="406.3" cy="829.04" r="1.8" fill="#ffc000"/>
<text x="417.80" y="832.14" font-size="8.9" text-anchor="start" font-weight="normal" fill="#231f20" >004</text>
<line x1="397.90" y1="843.92" x2="414.70" y2="843.92" stroke="#5b9bd5" stroke-width="1.2" />
<circle cx="406.3" cy="843.92" r="1.8" fill="#5b9bd5"/>
<text x="417.80" y="847.02" font-size="8.9" text-anchor="start" font-weight="normal" fill="#231f20" >005</text>
<line x1="397.90" y1="858.80" x2="414.70" y2="858.80" stroke="#6aa842" stroke-width="1.2" />
<circle cx="406.3" cy="858.80" r="1.8" fill="#6aa842"/>
<text x="417.80" y="861.90" font-size="8.9" text-anchor="start" font-weight="normal" fill="#231f20" >009</text>
<line x1="397.90" y1="873.68" x2="414.70" y2="873.68" stroke="#255e91" stroke-width="1.2" />
<circle cx="406.3" cy="873.68" r="1.8" fill="#255e91"/>
<text x="417.80" y="876.78" font-size="8.9" text-anchor="start" font-weight="normal" fill="#231f20" >010</text>
<line x1="397.90" y1="888.56" x2="414.70" y2="888.56" stroke="#9e480e" stroke-width="1.2" />
<circle cx="406.3" cy="888.56" r="1.8" fill="#9e480e"/>
<text x="417.80" y="891.66" font-size="8.9" text-anchor="start" font-weight="normal" fill="#231f20" >014</text>
<line x1="397.90" y1="903.44" x2="414.70" y2="903.44" stroke="#7030a0" stroke-width="1.2" />
<circle cx="406.3" cy="903.44" r="1.8" fill="#7030a0"/>
<text x="417.80" y="906.54" font-size="8.9" text-anchor="start" font-weight="normal" fill="#231f20" >016</text>
<line x1="397.90" y1="918.32" x2="414.70" y2="918.32" stroke="#43682b" stroke-width="1.2" />
<circle cx="406.3" cy="918.32" r="1.8" fill="#43682b"/>
<text x="417.80" y="921.42" font-size="8.9" text-anchor="start" font-weight="normal" fill="#231f20" >017</text>
<g clip-path="url(#clipC)">
<polygon points="43.6,195 47.2,190 47.6,265.4 43.6,265.4" fill="#fbdcc6"/>
<polyline points="46.60,265.40 47.60,215.00 48.50,167.70" fill="none" stroke="#f3a676" stroke-width="1.0" stroke-linejoin="round"/>
<polyline points="45.80,181.50 48.50,168.50 56.60,173.80 70.80,188.90 85.70,199.20 100.00,211.50 128.50,220.40 171.20,229.00 214.00,233.50 257.00,230.40 299.60,226.20" fill="none" stroke="#5b9bd5" stroke-width="1.1" stroke-linejoin="round"/>
<circle cx="45.80" cy="181.50" r="1.3" fill="#5b9bd5"/>
<circle cx="48.50" cy="168.50" r="1.3" fill="#5b9bd5"/>
<circle cx="56.60" cy="173.80" r="1.3" fill="#5b9bd5"/>
<circle cx="70.80" cy="188.90" r="1.3" fill="#5b9bd5"/>
<circle cx="85.70" cy="199.20" r="1.3" fill="#5b9bd5"/>
<circle cx="100.00" cy="211.50" r="1.3" fill="#5b9bd5"/>
<circle cx="128.50" cy="220.40" r="1.3" fill="#5b9bd5"/>
<circle cx="171.20" cy="229.00" r="1.3" fill="#5b9bd5"/>
<circle cx="214.00" cy="233.50" r="1.3" fill="#5b9bd5"/>
<circle cx="257.00" cy="230.40" r="1.3" fill="#5b9bd5"/>
<circle cx="299.60" cy="226.20" r="1.3" fill="#5b9bd5"/>
<polyline points="48.50,167.70 56.60,176.90 70.80,191.50 85.70,200.00 100.00,207.90 128.50,217.50 171.20,214.20 214.00,217.50 257.00,224.20 299.60,233.30" fill="none" stroke="#ed7d31" stroke-width="1.1" stroke-linejoin="round"/>
<circle cx="48.50" cy="167.70" r="1.3" fill="#ed7d31"/>
<circle cx="56.60" cy="176.90" r="1.3" fill="#ed7d31"/>
<circle cx="70.80" cy="191.50" r="1.3" fill="#ed7d31"/>
<circle cx="85.70" cy="200.00" r="1.3" fill="#ed7d31"/>
<circle cx="100.00" cy="207.90" r="1.3" fill="#ed7d31"/>
<circle cx="128.50" cy="217.50" r="1.3" fill="#ed7d31"/>
<circle cx="171.20" cy="214.20" r="1.3" fill="#ed7d31"/>
<circle cx="214.00" cy="217.50" r="1.3" fill="#ed7d31"/>
<circle cx="257.00" cy="224.20" r="1.3" fill="#ed7d31"/>
<circle cx="299.60" cy="233.30" r="1.3" fill="#ed7d31"/>
<polyline points="299.60,233.30 319.40,265.40" fill="none" stroke="#ed7d31" stroke-width="1.1" stroke-linejoin="round" stroke-dasharray="2,1.5"/>
<polyline points="48.50,165.40 56.60,182.30 70.80,186.20 85.70,192.30 100.00,196.20 128.50,204.60 171.20,229.00" fill="none" stroke="#ffc000" stroke-width="1.1" stroke-linejoin="round"/>
<circle cx="48.50" cy="165.40" r="1.3" fill="#ffc000"/>
<circle cx="56.60" cy="182.30" r="1.3" fill="#ffc000"/>
<circle cx="70.80" cy="186.20" r="1.3" fill="#ffc000"/>
<circle cx="85.70" cy="192.30" r="1.3" fill="#ffc000"/>
<circle cx="100.00" cy="196.20" r="1.3" fill="#ffc000"/>
<circle cx="128.50" cy="204.60" r="1.3" fill="#ffc000"/>
<circle cx="171.20" cy="229.00" r="1.3" fill="#ffc000"/>
<polyline points="171.20,229.00 192.30,265.40" fill="none" stroke="#ffc000" stroke-width="1.1" stroke-linejoin="round" stroke-dasharray="2,1.5"/>
<polyline points="282.00,265.40 299.60,235.40 329.00,249.20" fill="none" stroke="#ffc000" stroke-width="1.1" stroke-linejoin="round"/>
<circle cx="299.60" cy="235.40" r="1.3" fill="#ffc000"/>
<circle cx="329.00" cy="249.20" r="1.3" fill="#ffc000"/>
<polyline points="329.00,249.20 329.00,265.40" fill="none" stroke="#ffc000" stroke-width="1.1" stroke-linejoin="round" stroke-dasharray="2,1.5"/>
<polyline points="48.50,166.50 56.60,174.50 70.80,189.50" fill="none" stroke="#a5a5a5" stroke-width="1.0" stroke-linejoin="round"/>
<circle cx="48.50" cy="166.50" r="1.3" fill="#a5a5a5"/>
<circle cx="56.60" cy="174.50" r="1.3" fill="#a5a5a5"/>
<circle cx="70.80" cy="189.50" r="1.3" fill="#a5a5a5"/>
<polyline points="46.20,206.00 48.50,178.50 56.60,191.50 70.80,211.50 85.70,213.80 100.00,216.50 128.50,214.60 171.20,229.00 214.00,204.00" fill="none" stroke="#6aa842" stroke-width="1.1" stroke-linejoin="round"/>
<circle cx="46.20" cy="206.00" r="1.3" fill="#6aa842"/>
<circle cx="48.50" cy="178.50" r="1.3" fill="#6aa842"/>
<circle cx="56.60" cy="191.50" r="1.3" fill="#6aa842"/>
<circle cx="70.80" cy="211.50" r="1.3" fill="#6aa842"/>
<circle cx="85.70" cy="213.80" r="1.3" fill="#6aa842"/>
<circle cx="100.00" cy="216.50" r="1.3" fill="#6aa842"/>
<circle cx="128.50" cy="214.60" r="1.3" fill="#6aa842"/>
<circle cx="171.20" cy="229.00" r="1.3" fill="#6aa842"/>
<circle cx="214.00" cy="204.00" r="1.3" fill="#6aa842"/>
<polyline points="44.60,265.40 45.00,206.70" fill="none" stroke="#a9cf8f" stroke-width="1.0" stroke-linejoin="round"/>
<polyline points="45.90,233.10 48.50,185.40 56.60,209.20" fill="none" stroke="#255e91" stroke-width="1.1" stroke-linejoin="round"/>
<circle cx="45.90" cy="233.10" r="1.3" fill="#255e91"/>
<circle cx="48.50" cy="185.40" r="1.3" fill="#255e91"/>
<circle cx="56.60" cy="209.20" r="1.3" fill="#255e91"/>
<polyline points="56.60,209.20 65.40,265.40" fill="none" stroke="#255e91" stroke-width="1.1" stroke-linejoin="round" stroke-dasharray="2,1.5"/>
<polyline points="45.90,210.00 48.50,196.90 56.60,203.80 70.80,217.70 85.70,203.10" fill="none" stroke="#7030a0" stroke-width="1.1" stroke-linejoin="round"/>
<circle cx="45.90" cy="210.00" r="1.3" fill="#7030a0"/>
<circle cx="48.50" cy="196.90" r="1.3" fill="#7030a0"/>
<circle cx="56.60" cy="203.80" r="1.3" fill="#7030a0"/>
<circle cx="70.80" cy="217.70" r="1.3" fill="#7030a0"/>
<circle cx="85.70" cy="203.10" r="1.3" fill="#7030a0"/>
<polyline points="45.90,210.00 46.30,212.20 45.90,214.30" fill="none" stroke="#7030a0" stroke-width="0.8" stroke-linejoin="round"/>
<circle cx="45.90" cy="210.00" r="1.3" fill="#7030a0"/>
<circle cx="46.30" cy="212.20" r="1.3" fill="#7030a0"/>
<circle cx="45.90" cy="214.30" r="1.3" fill="#7030a0"/>
<polyline points="47.50,265.40 48.80,196.00 56.60,229.70 70.80,222.00 85.70,214.60 100.00,224.20 128.50,235.80 171.20,229.60" fill="none" stroke="#9e480e" stroke-width="1.1" stroke-linejoin="round"/>
<circle cx="48.80" cy="196.00" r="1.3" fill="#9e480e"/>
<circle cx="56.60" cy="229.70" r="1.3" fill="#9e480e"/>
<circle cx="70.80" cy="222.00" r="1.3" fill="#9e480e"/>
<circle cx="85.70" cy="214.60" r="1.3" fill="#9e480e"/>
<circle cx="100.00" cy="224.20" r="1.3" fill="#9e480e"/>
<circle cx="128.50" cy="235.80" r="1.3" fill="#9e480e"/>
<circle cx="171.20" cy="229.60" r="1.3" fill="#9e480e"/>
<circle cx="48.8" cy="230.2" r="1.4" fill="#43682b"/>
<polyline points="48.80,230.20 53.00,265.40" fill="none" stroke="#43682b" stroke-width="1.1" stroke-linejoin="round" stroke-dasharray="1.6,1.3"/>
<polyline points="116.30,265.40 128.50,235.80" fill="none" stroke="#2f5597" stroke-width="1.1" stroke-linejoin="round"/>
<polyline points="128.50,235.80 147.00,265.40" fill="none" stroke="#2f5597" stroke-width="1.1" stroke-linejoin="round" stroke-dasharray="2,1.5"/>
<polyline points="45.40,151.20 48.90,151.20 56.60,172.30 70.80,182.30 85.70,190.50 100.00,200.20 128.50,216.50 171.20,218.50 214.00,214.20 257.00,210.80" fill="none" stroke="#4472c4" stroke-width="1.1" stroke-linejoin="round"/>
<circle cx="45.40" cy="151.20" r="1.3" fill="#4472c4"/>
<circle cx="48.90" cy="151.20" r="1.3" fill="#4472c4"/>
<circle cx="56.60" cy="172.30" r="1.3" fill="#4472c4"/>
<circle cx="70.80" cy="182.30" r="1.3" fill="#4472c4"/>
<circle cx="85.70" cy="190.50" r="1.3" fill="#4472c4"/>
<circle cx="100.00" cy="200.20" r="1.3" fill="#4472c4"/>
<circle cx="128.50" cy="216.50" r="1.3" fill="#4472c4"/>
<circle cx="171.20" cy="218.50" r="1.3" fill="#4472c4"/>
<circle cx="214.00" cy="214.20" r="1.3" fill="#4472c4"/>
<circle cx="257.00" cy="210.80" r="1.3" fill="#4472c4"/>
<polyline points="257.00,210.80 282.00,265.40" fill="none" stroke="#4472c4" stroke-width="1.1" stroke-linejoin="round" stroke-dasharray="2,1.5"/>
<polyline points="361.70,265.40 385.90,211.30 471.10,191.90" fill="none" stroke="#4472c4" stroke-width="1.1" stroke-linejoin="round"/>
<circle cx="385.90" cy="211.30" r="1.3" fill="#4472c4"/>
<circle cx="471.10" cy="191.90" r="1.3" fill="#4472c4"/>
</g>
<g clip-path="url(#clipD)">
<polyline points="42.60,412.50 48.50,405.00 55.10,413.00 69.60,413.50 126.00,413.50 168.50,413.00 252.70,411.50 294.20,413.00 337.00,413.50 380.40,413.50 463.50,413.50" fill="none" stroke="#a5a5a5" stroke-width="1.2" stroke-linejoin="round"/>
<circle cx="42.60" cy="412.50" r="1.2" fill="#a5a5a5"/>
<circle cx="48.50" cy="405.00" r="1.2" fill="#a5a5a5"/>
<circle cx="55.10" cy="413.00" r="1.2" fill="#a5a5a5"/>
<circle cx="69.60" cy="413.50" r="1.2" fill="#a5a5a5"/>
<circle cx="126.00" cy="413.50" r="1.2" fill="#a5a5a5"/>
<circle cx="168.50" cy="413.00" r="1.2" fill="#a5a5a5"/>
<circle cx="252.70" cy="411.50" r="1.2" fill="#a5a5a5"/>
<circle cx="294.20" cy="413.00" r="1.2" fill="#a5a5a5"/>
<circle cx="337.00" cy="413.50" r="1.2" fill="#a5a5a5"/>
<circle cx="380.40" cy="413.50" r="1.2" fill="#a5a5a5"/>
<circle cx="463.50" cy="413.50" r="1.2" fill="#a5a5a5"/>
<polyline points="42.60,407.00 45.50,410.00 48.50,406.00 55.10,411.00 69.60,413.50 126.00,413.50 210.80,413.50" fill="none" stroke="#9e480e" stroke-width="1.1" stroke-linejoin="round"/>
<circle cx="42.60" cy="407.00" r="1.3" fill="#9e480e"/>
<circle cx="45.50" cy="410.00" r="1.3" fill="#9e480e"/>
<circle cx="48.50" cy="406.00" r="1.3" fill="#9e480e"/>
<circle cx="55.10" cy="411.00" r="1.3" fill="#9e480e"/>
<circle cx="69.60" cy="413.50" r="1.3" fill="#9e480e"/>
<circle cx="126.00" cy="413.50" r="1.3" fill="#9e480e"/>
<circle cx="210.80" cy="413.50" r="1.3" fill="#9e480e"/>
<polyline points="42.60,401.50 45.50,408.00 48.30,386.00 55.10,402.00 69.60,410.00 84.00,413.00 126.00,413.00 168.50,411.00 210.80,410.00 252.70,413.00 294.20,409.00 337.00,411.00 380.40,410.50" fill="none" stroke="#ed7d31" stroke-width="1.1" stroke-linejoin="round"/>
<circle cx="42.60" cy="401.50" r="1.3" fill="#ed7d31"/>
<circle cx="45.50" cy="408.00" r="1.3" fill="#ed7d31"/>
<circle cx="48.30" cy="386.00" r="1.3" fill="#ed7d31"/>
<circle cx="55.10" cy="402.00" r="1.3" fill="#ed7d31"/>
<circle cx="69.60" cy="410.00" r="1.3" fill="#ed7d31"/>
<circle cx="84.00" cy="413.00" r="1.3" fill="#ed7d31"/>
<circle cx="126.00" cy="413.00" r="1.3" fill="#ed7d31"/>
<circle cx="168.50" cy="411.00" r="1.3" fill="#ed7d31"/>
<circle cx="210.80" cy="410.00" r="1.3" fill="#ed7d31"/>
<circle cx="252.70" cy="413.00" r="1.3" fill="#ed7d31"/>
<circle cx="294.20" cy="409.00" r="1.3" fill="#ed7d31"/>
<circle cx="337.00" cy="411.00" r="1.3" fill="#ed7d31"/>
<circle cx="380.40" cy="410.50" r="1.3" fill="#ed7d31"/>
<polyline points="42.60,413.00 45.50,410.00 48.50,393.00 55.10,408.00 69.60,413.00 84.00,413.00 126.00,413.00 168.50,412.00 210.80,407.70 252.70,413.00" fill="none" stroke="#255e91" stroke-width="1.1" stroke-linejoin="round"/>
<circle cx="42.60" cy="413.00" r="1.3" fill="#255e91"/>
<circle cx="45.50" cy="410.00" r="1.3" fill="#255e91"/>
<circle cx="48.50" cy="393.00" r="1.3" fill="#255e91"/>
<circle cx="55.10" cy="408.00" r="1.3" fill="#255e91"/>
<circle cx="69.60" cy="413.00" r="1.3" fill="#255e91"/>
<circle cx="84.00" cy="413.00" r="1.3" fill="#255e91"/>
<circle cx="126.00" cy="413.00" r="1.3" fill="#255e91"/>
<circle cx="168.50" cy="412.00" r="1.3" fill="#255e91"/>
<circle cx="210.80" cy="407.70" r="1.3" fill="#255e91"/>
<circle cx="252.70" cy="413.00" r="1.3" fill="#255e91"/>
<polyline points="42.60,408.00 45.20,399.00 48.50,399.50 55.10,402.00 69.60,412.00" fill="none" stroke="#7030a0" stroke-width="1.1" stroke-linejoin="round"/>
<circle cx="42.60" cy="408.00" r="1.3" fill="#7030a0"/>
<circle cx="45.20" cy="399.00" r="1.3" fill="#7030a0"/>
<circle cx="48.50" cy="399.50" r="1.3" fill="#7030a0"/>
<circle cx="55.10" cy="402.00" r="1.3" fill="#7030a0"/>
<circle cx="69.60" cy="412.00" r="1.3" fill="#7030a0"/>
<circle cx="83.6" cy="405.6" r="1.5" fill="#7030a0"/>
<polyline points="42.60,412.00 47.20,364.90 55.10,412.00 69.60,413.00" fill="none" stroke="#43682b" stroke-width="1.1" stroke-linejoin="round"/>
<circle cx="42.60" cy="412.00" r="1.3" fill="#43682b"/>
<circle cx="47.20" cy="364.90" r="1.3" fill="#43682b"/>
<circle cx="55.10" cy="412.00" r="1.3" fill="#43682b"/>
<circle cx="69.60" cy="413.00" r="1.3" fill="#43682b"/>
<polyline points="42.60,410.00 45.40,380.00 48.00,327.30 55.10,386.00 61.50,400.50 69.60,408.40 84.00,412.00 126.00,412.50 168.50,412.00 210.80,410.50 252.70,412.00" fill="none" stroke="#6aa842" stroke-width="1.1" stroke-linejoin="round"/>
<circle cx="42.60" cy="410.00" r="1.3" fill="#6aa842"/>
<circle cx="45.40" cy="380.00" r="1.3" fill="#6aa842"/>
<circle cx="48.00" cy="327.30" r="1.3" fill="#6aa842"/>
<circle cx="55.10" cy="386.00" r="1.3" fill="#6aa842"/>
<circle cx="61.50" cy="400.50" r="1.3" fill="#6aa842"/>
<circle cx="69.60" cy="408.40" r="1.3" fill="#6aa842"/>
<circle cx="84.00" cy="412.00" r="1.3" fill="#6aa842"/>
<circle cx="126.00" cy="412.50" r="1.3" fill="#6aa842"/>
<circle cx="168.50" cy="412.00" r="1.3" fill="#6aa842"/>
<circle cx="210.80" cy="410.50" r="1.3" fill="#6aa842"/>
<circle cx="252.70" cy="412.00" r="1.3" fill="#6aa842"/>
<polyline points="42.80,412.00 44.60,321.80 47.80,398.00 54.90,401.90 83.60,401.90 97.60,406.00 126.00,410.00 168.50,412.50 210.80,412.50 252.70,413.00 294.20,413.20 337.00,412.50" fill="none" stroke="#5b9bd5" stroke-width="1.1" stroke-linejoin="round"/>
<circle cx="42.80" cy="412.00" r="1.3" fill="#5b9bd5"/>
<circle cx="44.60" cy="321.80" r="1.3" fill="#5b9bd5"/>
<circle cx="47.80" cy="398.00" r="1.3" fill="#5b9bd5"/>
<circle cx="54.90" cy="401.90" r="1.3" fill="#5b9bd5"/>
<circle cx="83.60" cy="401.90" r="1.3" fill="#5b9bd5"/>
<circle cx="97.60" cy="406.00" r="1.3" fill="#5b9bd5"/>
<circle cx="126.00" cy="410.00" r="1.3" fill="#5b9bd5"/>
<circle cx="168.50" cy="412.50" r="1.3" fill="#5b9bd5"/>
<circle cx="210.80" cy="412.50" r="1.3" fill="#5b9bd5"/>
<circle cx="252.70" cy="413.00" r="1.3" fill="#5b9bd5"/>
<circle cx="294.20" cy="413.20" r="1.3" fill="#5b9bd5"/>
<circle cx="337.00" cy="412.50" r="1.3" fill="#5b9bd5"/>
<polyline points="42.60,400.00 45.50,405.00 48.50,320.00 55.10,374.80 61.50,394.00 69.60,402.30 84.20,401.00 97.60,400.40 126.00,411.00 168.50,411.50 210.80,409.00 252.70,411.00 294.20,408.00 324.20,410.80 327.70,382.00 335.30,399.20 349.50,405.60" fill="none" stroke="#ffc000" stroke-width="1.1" stroke-linejoin="round"/>
<circle cx="48.50" cy="320.00" r="1.3" fill="#ffc000"/>
<circle cx="55.10" cy="374.80" r="1.3" fill="#ffc000"/>
<circle cx="69.60" cy="402.30" r="1.3" fill="#ffc000"/>
<circle cx="84.20" cy="401.00" r="1.3" fill="#ffc000"/>
<circle cx="97.60" cy="400.40" r="1.3" fill="#ffc000"/>
<circle cx="126.00" cy="411.00" r="1.3" fill="#ffc000"/>
<circle cx="168.50" cy="411.50" r="1.3" fill="#ffc000"/>
<circle cx="210.80" cy="409.00" r="1.3" fill="#ffc000"/>
<circle cx="252.70" cy="411.00" r="1.3" fill="#ffc000"/>
<circle cx="294.20" cy="408.00" r="1.3" fill="#ffc000"/>
<circle cx="324.20" cy="410.80" r="1.3" fill="#ffc000"/>
<circle cx="327.70" cy="382.00" r="1.3" fill="#ffc000"/>
<circle cx="335.30" cy="399.20" r="1.3" fill="#ffc000"/>
<circle cx="349.50" cy="405.60" r="1.3" fill="#ffc000"/>
<polyline points="42.60,412.00 44.60,303.80 54.90,371.50 61.50,393.00 69.70,401.30 97.60,405.80 125.50,396.50 168.50,405.20 210.80,401.30 252.70,412.20 294.20,412.50 336.50,411.60 380.40,407.90 463.50,408.90" fill="none" stroke="#4472c4" stroke-width="1.1" stroke-linejoin="round"/>
<circle cx="44.60" cy="303.80" r="1.3" fill="#4472c4"/>
<circle cx="54.90" cy="371.50" r="1.3" fill="#4472c4"/>
<circle cx="69.70" cy="401.30" r="1.3" fill="#4472c4"/>
<circle cx="97.60" cy="405.80" r="1.3" fill="#4472c4"/>
<circle cx="125.50" cy="396.50" r="1.3" fill="#4472c4"/>
<circle cx="168.50" cy="405.20" r="1.3" fill="#4472c4"/>
<circle cx="210.80" cy="401.30" r="1.3" fill="#4472c4"/>
<circle cx="252.70" cy="412.20" r="1.3" fill="#4472c4"/>
<circle cx="294.20" cy="412.50" r="1.3" fill="#4472c4"/>
<circle cx="336.50" cy="411.60" r="1.3" fill="#4472c4"/>
<circle cx="380.40" cy="407.90" r="1.3" fill="#4472c4"/>
<circle cx="463.50" cy="408.90" r="1.3" fill="#4472c4"/>
</g>
<g clip-path="url(#clipE)">
<polyline points="42.20,565.00 44.80,563.50 55.40,565.80 84.20,565.80 97.70,565.80 125.60,565.80 210.60,565.60" fill="none" stroke="#9e480e" stroke-width="1.1" stroke-linejoin="round"/>
<circle cx="42.20" cy="565.00" r="1.3" fill="#9e480e"/>
<circle cx="44.80" cy="563.50" r="1.3" fill="#9e480e"/>
<circle cx="55.40" cy="565.80" r="1.3" fill="#9e480e"/>
<circle cx="84.20" cy="565.80" r="1.3" fill="#9e480e"/>
<circle cx="97.70" cy="565.80" r="1.3" fill="#9e480e"/>
<circle cx="125.60" cy="565.80" r="1.3" fill="#9e480e"/>
<circle cx="210.60" cy="565.60" r="1.3" fill="#9e480e"/>
<polyline points="42.20,565.00 44.80,564.40 49.60,562.50 55.40,564.50 69.80,565.50" fill="none" stroke="#7030a0" stroke-width="1.1" stroke-linejoin="round"/>
<circle cx="42.20" cy="565.00" r="1.3" fill="#7030a0"/>
<circle cx="44.80" cy="564.40" r="1.3" fill="#7030a0"/>
<circle cx="49.60" cy="562.50" r="1.3" fill="#7030a0"/>
<circle cx="55.40" cy="564.50" r="1.3" fill="#7030a0"/>
<circle cx="69.80" cy="565.50" r="1.3" fill="#7030a0"/>
<polyline points="42.20,563.00 44.80,561.00 55.40,565.40 69.80,564.40 84.20,563.50 97.70,560.60 125.60,558.70 168.50,557.30 210.60,555.80 252.30,560.40 294.80,556.40 337.00,554.20 380.00,564.40" fill="none" stroke="#ed7d31" stroke-width="1.1" stroke-linejoin="round"/>
<circle cx="42.20" cy="563.00" r="1.3" fill="#ed7d31"/>
<circle cx="44.80" cy="561.00" r="1.3" fill="#ed7d31"/>
<circle cx="55.40" cy="565.40" r="1.3" fill="#ed7d31"/>
<circle cx="69.80" cy="564.40" r="1.3" fill="#ed7d31"/>
<circle cx="84.20" cy="563.50" r="1.3" fill="#ed7d31"/>
<circle cx="97.70" cy="560.60" r="1.3" fill="#ed7d31"/>
<circle cx="125.60" cy="558.70" r="1.3" fill="#ed7d31"/>
<circle cx="168.50" cy="557.30" r="1.3" fill="#ed7d31"/>
<circle cx="210.60" cy="555.80" r="1.3" fill="#ed7d31"/>
<circle cx="252.30" cy="560.40" r="1.3" fill="#ed7d31"/>
<circle cx="294.80" cy="556.40" r="1.3" fill="#ed7d31"/>
<circle cx="337.00" cy="554.20" r="1.3" fill="#ed7d31"/>
<circle cx="380.00" cy="564.40" r="1.3" fill="#ed7d31"/>
<polyline points="42.20,562.00 43.00,548.00 44.80,562.00 55.40,562.50 69.80,559.60 84.20,558.70 97.70,558.70 125.60,554.80 168.50,563.50 210.60,561.30 240.00,556.70 252.30,553.60 294.70,468.00 325.00,525.70 327.70,559.50 335.40,559.50 341.50,555.80 349.20,555.80" fill="none" stroke="#ffc000" stroke-width="1.1" stroke-linejoin="round"/>
<circle cx="44.80" cy="562.00" r="1.3" fill="#ffc000"/>
<circle cx="55.40" cy="562.50" r="1.3" fill="#ffc000"/>
<circle cx="69.80" cy="559.60" r="1.3" fill="#ffc000"/>
<circle cx="84.20" cy="558.70" r="1.3" fill="#ffc000"/>
<circle cx="97.70" cy="558.70" r="1.3" fill="#ffc000"/>
<circle cx="125.60" cy="554.80" r="1.3" fill="#ffc000"/>
<circle cx="168.50" cy="563.50" r="1.3" fill="#ffc000"/>
<circle cx="210.60" cy="561.30" r="1.3" fill="#ffc000"/>
<circle cx="252.30" cy="553.60" r="1.3" fill="#ffc000"/>
<circle cx="294.70" cy="468.00" r="1.3" fill="#ffc000"/>
<circle cx="325.00" cy="525.70" r="1.3" fill="#ffc000"/>
<circle cx="335.40" cy="559.50" r="1.3" fill="#ffc000"/>
<circle cx="349.20" cy="555.80" r="1.3" fill="#ffc000"/>
<polyline points="42.20,545.00 43.40,535.00 44.80,558.00 48.70,561.00" fill="none" stroke="#43682b" stroke-width="1.1" stroke-linejoin="round"/>
<circle cx="42.20" cy="545.00" r="1.3" fill="#43682b"/>
<circle cx="43.40" cy="535.00" r="1.3" fill="#43682b"/>
<circle cx="44.80" cy="558.00" r="1.3" fill="#43682b"/>
<circle cx="48.70" cy="561.00" r="1.3" fill="#43682b"/>
<polyline points="42.00,566.00 42.50,463.00 44.70,465.50 44.70,492.70 47.40,518.20 48.70,562.00 55.40,560.00 69.80,558.70 84.20,544.20 97.70,556.20 125.60,558.00 168.50,564.40 210.60,562.00" fill="none" stroke="#6aa842" stroke-width="1.1" stroke-linejoin="round"/>
<circle cx="42.00" cy="566.00" r="1.3" fill="#6aa842"/>
<circle cx="42.50" cy="463.00" r="1.3" fill="#6aa842"/>
<circle cx="44.70" cy="465.50" r="1.3" fill="#6aa842"/>
<circle cx="44.70" cy="492.70" r="1.3" fill="#6aa842"/>
<circle cx="47.40" cy="518.20" r="1.3" fill="#6aa842"/>
<circle cx="48.70" cy="562.00" r="1.3" fill="#6aa842"/>
<circle cx="55.40" cy="560.00" r="1.3" fill="#6aa842"/>
<circle cx="69.80" cy="558.70" r="1.3" fill="#6aa842"/>
<circle cx="84.20" cy="544.20" r="1.3" fill="#6aa842"/>
<circle cx="97.70" cy="556.20" r="1.3" fill="#6aa842"/>
<circle cx="125.60" cy="558.00" r="1.3" fill="#6aa842"/>
<circle cx="168.50" cy="564.40" r="1.3" fill="#6aa842"/>
<circle cx="210.60" cy="562.00" r="1.3" fill="#6aa842"/>
<polyline points="42.20,560.00 42.70,526.20 43.40,557.80 44.80,560.60 55.40,556.20 69.80,555.80 84.20,553.50 97.70,560.60 125.60,562.50 168.50,562.50 210.60,563.00" fill="none" stroke="#255e91" stroke-width="1.5" stroke-linejoin="round"/>
<circle cx="42.20" cy="560.00" r="1.3" fill="#255e91"/>
<circle cx="42.70" cy="526.20" r="1.3" fill="#255e91"/>
<circle cx="43.40" cy="557.80" r="1.3" fill="#255e91"/>
<circle cx="44.80" cy="560.60" r="1.3" fill="#255e91"/>
<circle cx="55.40" cy="556.20" r="1.3" fill="#255e91"/>
<circle cx="69.80" cy="555.80" r="1.3" fill="#255e91"/>
<circle cx="84.20" cy="553.50" r="1.3" fill="#255e91"/>
<circle cx="97.70" cy="560.60" r="1.3" fill="#255e91"/>
<circle cx="125.60" cy="562.50" r="1.3" fill="#255e91"/>
<circle cx="168.50" cy="562.50" r="1.3" fill="#255e91"/>
<circle cx="210.60" cy="563.00" r="1.3" fill="#255e91"/>
<polyline points="42.20,556.00 44.00,548.00 48.70,560.00 55.40,559.60 69.80,553.80 84.20,561.50 97.70,546.20 125.60,550.00 168.50,561.30 252.30,559.80 294.80,561.30 337.00,557.90" fill="none" stroke="#5b9bd5" stroke-width="1.1" stroke-linejoin="round"/>
<circle cx="42.20" cy="556.00" r="1.3" fill="#5b9bd5"/>
<circle cx="44.00" cy="548.00" r="1.3" fill="#5b9bd5"/>
<circle cx="48.70" cy="560.00" r="1.3" fill="#5b9bd5"/>
<circle cx="55.40" cy="559.60" r="1.3" fill="#5b9bd5"/>
<circle cx="69.80" cy="553.80" r="1.3" fill="#5b9bd5"/>
<circle cx="84.20" cy="561.50" r="1.3" fill="#5b9bd5"/>
<circle cx="97.70" cy="546.20" r="1.3" fill="#5b9bd5"/>
<circle cx="125.60" cy="550.00" r="1.3" fill="#5b9bd5"/>
<circle cx="168.50" cy="561.30" r="1.3" fill="#5b9bd5"/>
<circle cx="252.30" cy="559.80" r="1.3" fill="#5b9bd5"/>
<circle cx="294.80" cy="561.30" r="1.3" fill="#5b9bd5"/>
<circle cx="337.00" cy="557.90" r="1.3" fill="#5b9bd5"/>
<polyline points="168.50,562.50 210.60,545.00 252.30,549.00 294.80,561.30 337.00,557.30 380.00,560.40 464.20,558.90" fill="none" stroke="#4472c4" stroke-width="1.1" stroke-linejoin="round"/>
<circle cx="168.50" cy="562.50" r="1.3" fill="#4472c4"/>
<circle cx="210.60" cy="545.00" r="1.3" fill="#4472c4"/>
<circle cx="252.30" cy="549.00" r="1.3" fill="#4472c4"/>
<circle cx="294.80" cy="561.30" r="1.3" fill="#4472c4"/>
<circle cx="337.00" cy="557.30" r="1.3" fill="#4472c4"/>
<circle cx="380.00" cy="560.40" r="1.3" fill="#4472c4"/>
<circle cx="464.20" cy="558.90" r="1.3" fill="#4472c4"/>
</g>
<polyline points="39.80,730.11 67.45,730.11 91.65,730.11 100.29,729.53 143.50,730.11" fill="none" stroke="#43682b" stroke-width="1.3" stroke-linejoin="round"/>
<circle cx="39.80" cy="730.11" r="1.9" fill="#43682b"/>
<circle cx="67.45" cy="730.11" r="1.9" fill="#43682b"/>
<circle cx="91.65" cy="730.11" r="1.9" fill="#43682b"/>
<circle cx="100.29" cy="729.53" r="1.9" fill="#43682b"/>
<circle cx="143.50" cy="730.11" r="1.9" fill="#43682b"/>
<polyline points="39.80,729.53 67.45,729.53 91.65,728.95 100.29,728.57 103.75,729.53 143.50,729.53" fill="none" stroke="#ffc000" stroke-width="1.3" stroke-linejoin="round"/>
<circle cx="39.80" cy="729.53" r="1.9" fill="#ffc000"/>
<circle cx="67.45" cy="729.53" r="1.9" fill="#ffc000"/>
<circle cx="91.65" cy="728.95" r="1.9" fill="#ffc000"/>
<circle cx="100.29" cy="728.57" r="1.9" fill="#ffc000"/>
<circle cx="103.75" cy="729.53" r="1.9" fill="#ffc000"/>
<circle cx="143.50" cy="729.53" r="1.9" fill="#ffc000"/>
<polyline points="39.80,728.57 67.45,726.63 91.65,727.60 98.56,725.67 114.12,728.57 143.50,729.53" fill="none" stroke="#4472c4" stroke-width="1.3" stroke-linejoin="round"/>
<circle cx="39.80" cy="728.57" r="1.9" fill="#4472c4"/>
<circle cx="67.45" cy="726.63" r="1.9" fill="#4472c4"/>
<circle cx="91.65" cy="727.60" r="1.9" fill="#4472c4"/>
<circle cx="98.56" cy="725.67" r="1.9" fill="#4472c4"/>
<circle cx="114.12" cy="728.57" r="1.9" fill="#4472c4"/>
<circle cx="143.50" cy="729.53" r="1.9" fill="#4472c4"/>
<polyline points="39.80,728.57 67.45,727.60 91.65,726.63 95.11,725.67 98.56,724.70 114.12,717.93 143.50,728.57" fill="none" stroke="#5b9bd5" stroke-width="1.3" stroke-linejoin="round"/>
<circle cx="39.80" cy="728.57" r="1.9" fill="#5b9bd5"/>
<circle cx="67.45" cy="727.60" r="1.9" fill="#5b9bd5"/>
<circle cx="91.65" cy="726.63" r="1.9" fill="#5b9bd5"/>
<circle cx="95.11" cy="725.67" r="1.9" fill="#5b9bd5"/>
<circle cx="98.56" cy="724.70" r="1.9" fill="#5b9bd5"/>
<circle cx="114.12" cy="717.93" r="1.9" fill="#5b9bd5"/>
<circle cx="143.50" cy="728.57" r="1.9" fill="#5b9bd5"/>
<polyline points="39.80,726.63 67.45,722.77 89.92,717.93 114.12,718.90 143.50,729.53" fill="none" stroke="#a5a5a5" stroke-width="1.3" stroke-linejoin="round"/>
<circle cx="39.80" cy="726.63" r="1.9" fill="#a5a5a5"/>
<circle cx="67.45" cy="722.77" r="1.9" fill="#a5a5a5"/>
<circle cx="89.92" cy="717.93" r="1.9" fill="#a5a5a5"/>
<circle cx="114.12" cy="718.90" r="1.9" fill="#a5a5a5"/>
<circle cx="143.50" cy="729.53" r="1.9" fill="#a5a5a5"/>
<polyline points="39.80,724.70 67.45,725.67 91.65,728.57 114.12,716.00 143.50,729.53" fill="none" stroke="#255e91" stroke-width="1.3" stroke-linejoin="round"/>
<circle cx="39.80" cy="724.70" r="1.9" fill="#255e91"/>
<circle cx="67.45" cy="725.67" r="1.9" fill="#255e91"/>
<circle cx="91.65" cy="728.57" r="1.9" fill="#255e91"/>
<circle cx="114.12" cy="716.00" r="1.9" fill="#255e91"/>
<circle cx="143.50" cy="729.53" r="1.9" fill="#255e91"/>
<polyline points="39.80,722.77 67.45,727.60 91.65,728.57 103.75,729.53 114.12,714.07 143.50,728.57" fill="none" stroke="#9e480e" stroke-width="1.3" stroke-linejoin="round"/>
<circle cx="39.80" cy="722.77" r="1.9" fill="#9e480e"/>
<circle cx="67.45" cy="727.60" r="1.9" fill="#9e480e"/>
<circle cx="91.65" cy="728.57" r="1.9" fill="#9e480e"/>
<circle cx="103.75" cy="729.53" r="1.9" fill="#9e480e"/>
<circle cx="114.12" cy="714.07" r="1.9" fill="#9e480e"/>
<circle cx="143.50" cy="728.57" r="1.9" fill="#9e480e"/>
<polyline points="39.80,723.73 67.45,726.63 83.01,724.70 91.65,729.53 103.75,729.53 114.12,699.57 143.50,721.80" fill="none" stroke="#ed7d31" stroke-width="1.3" stroke-linejoin="round"/>
<circle cx="39.80" cy="723.73" r="1.9" fill="#ed7d31"/>
<circle cx="67.45" cy="726.63" r="1.9" fill="#ed7d31"/>
<circle cx="83.01" cy="724.70" r="1.9" fill="#ed7d31"/>
<circle cx="91.65" cy="729.53" r="1.9" fill="#ed7d31"/>
<circle cx="103.75" cy="729.53" r="1.9" fill="#ed7d31"/>
<circle cx="114.12" cy="699.57" r="1.9" fill="#ed7d31"/>
<circle cx="143.50" cy="721.80" r="1.9" fill="#ed7d31"/>
<polyline points="39.80,729.53 67.45,728.57 81.28,716.58 89.92,715.23 91.65,712.33 95.97,722.96 98.56,702.85 101.67,720.25 108.93,727.60 114.12,728.76 143.50,728.95" fill="none" stroke="#7030a0" stroke-width="1.3" stroke-linejoin="round"/>
<circle cx="39.80" cy="729.53" r="1.9" fill="#7030a0"/>
<circle cx="67.45" cy="728.57" r="1.9" fill="#7030a0"/>
<circle cx="81.28" cy="716.58" r="1.9" fill="#7030a0"/>
<circle cx="89.92" cy="715.23" r="1.9" fill="#7030a0"/>
<circle cx="91.65" cy="712.33" r="1.9" fill="#7030a0"/>
<circle cx="95.97" cy="722.96" r="1.9" fill="#7030a0"/>
<circle cx="98.56" cy="702.85" r="1.9" fill="#7030a0"/>
<circle cx="101.67" cy="720.25" r="1.9" fill="#7030a0"/>
<circle cx="108.93" cy="727.60" r="1.9" fill="#7030a0"/>
<circle cx="114.12" cy="728.76" r="1.9" fill="#7030a0"/>
<circle cx="143.50" cy="728.95" r="1.9" fill="#7030a0"/>
<polyline points="39.80,670.57 67.45,645.43 83.01,635.77 90.79,645.43 92.51,639.63 95.11,629.97 98.56,621.27 102.02,628.03 114.12,661.87 143.50,668.63" fill="none" stroke="#6aa842" stroke-width="1.3" stroke-linejoin="round"/>
<circle cx="39.80" cy="670.57" r="1.9" fill="#6aa842"/>
<circle cx="67.45" cy="645.43" r="1.9" fill="#6aa842"/>
<circle cx="83.01" cy="635.77" r="1.9" fill="#6aa842"/>
<circle cx="90.79" cy="645.43" r="1.9" fill="#6aa842"/>
<circle cx="92.51" cy="639.63" r="1.9" fill="#6aa842"/>
<circle cx="95.11" cy="629.97" r="1.9" fill="#6aa842"/>
<circle cx="98.56" cy="621.27" r="1.9" fill="#6aa842"/>
<circle cx="102.02" cy="628.03" r="1.9" fill="#6aa842"/>
<circle cx="114.12" cy="661.87" r="1.9" fill="#6aa842"/>
<circle cx="143.50" cy="668.63" r="1.9" fill="#6aa842"/>
<polyline points="218.40,728.76 246.35,729.34 270.80,728.76 279.53,727.60 293.51,728.76 323.20,729.34" fill="none" stroke="#4472c4" stroke-width="1.3" stroke-linejoin="round"/>
<circle cx="218.40" cy="728.76" r="1.9" fill="#4472c4"/>
<circle cx="246.35" cy="729.34" r="1.9" fill="#4472c4"/>
<circle cx="270.80" cy="728.76" r="1.9" fill="#4472c4"/>
<circle cx="279.53" cy="727.60" r="1.9" fill="#4472c4"/>
<circle cx="293.51" cy="728.76" r="1.9" fill="#4472c4"/>
<circle cx="323.20" cy="729.34" r="1.9" fill="#4472c4"/>
<polyline points="218.40,728.18 246.35,728.76 270.80,729.34 293.51,728.18 323.20,728.76" fill="none" stroke="#a5a5a5" stroke-width="1.3" stroke-linejoin="round"/>
<circle cx="218.40" cy="728.18" r="1.9" fill="#a5a5a5"/>
<circle cx="246.35" cy="728.76" r="1.9" fill="#a5a5a5"/>
<circle cx="270.80" cy="729.34" r="1.9" fill="#a5a5a5"/>
<circle cx="293.51" cy="728.18" r="1.9" fill="#a5a5a5"/>
<circle cx="323.20" cy="728.76" r="1.9" fill="#a5a5a5"/>
<polyline points="218.40,729.34 246.35,729.92 270.80,729.92 293.51,729.34 323.20,729.92" fill="none" stroke="#255e91" stroke-width="1.3" stroke-linejoin="round"/>
<circle cx="218.40" cy="729.34" r="1.9" fill="#255e91"/>
<circle cx="246.35" cy="729.92" r="1.9" fill="#255e91"/>
<circle cx="270.80" cy="729.92" r="1.9" fill="#255e91"/>
<circle cx="293.51" cy="729.34" r="1.9" fill="#255e91"/>
<circle cx="323.20" cy="729.92" r="1.9" fill="#255e91"/>
<polyline points="218.40,728.76 246.35,728.76 270.80,727.60 293.51,725.86 323.20,729.34" fill="none" stroke="#ed7d31" stroke-width="1.3" stroke-linejoin="round"/>
<circle cx="218.40" cy="728.76" r="1.9" fill="#ed7d31"/>
<circle cx="246.35" cy="728.76" r="1.9" fill="#ed7d31"/>
<circle cx="270.80" cy="727.60" r="1.9" fill="#ed7d31"/>
<circle cx="293.51" cy="725.86" r="1.9" fill="#ed7d31"/>
<circle cx="323.20" cy="729.34" r="1.9" fill="#ed7d31"/>
<polyline points="218.40,729.34 246.35,729.34 270.80,729.34 279.53,728.76 293.51,723.54 323.20,728.76" fill="none" stroke="#9e480e" stroke-width="1.3" stroke-linejoin="round"/>
<circle cx="218.40" cy="729.34" r="1.9" fill="#9e480e"/>
<circle cx="246.35" cy="729.34" r="1.9" fill="#9e480e"/>
<circle cx="270.80" cy="729.34" r="1.9" fill="#9e480e"/>
<circle cx="279.53" cy="728.76" r="1.9" fill="#9e480e"/>
<circle cx="293.51" cy="723.54" r="1.9" fill="#9e480e"/>
<circle cx="323.20" cy="728.76" r="1.9" fill="#9e480e"/>
<polyline points="218.40,725.86 246.35,728.18 270.80,727.60 279.53,713.10 284.77,718.90 293.51,721.80 323.20,721.80" fill="none" stroke="#ffc000" stroke-width="1.3" stroke-linejoin="round"/>
<circle cx="218.40" cy="725.86" r="1.9" fill="#ffc000"/>
<circle cx="246.35" cy="728.18" r="1.9" fill="#ffc000"/>
<circle cx="270.80" cy="727.60" r="1.9" fill="#ffc000"/>
<circle cx="279.53" cy="713.10" r="1.9" fill="#ffc000"/>
<circle cx="284.77" cy="718.90" r="1.9" fill="#ffc000"/>
<circle cx="293.51" cy="721.80" r="1.9" fill="#ffc000"/>
<circle cx="323.20" cy="721.80" r="1.9" fill="#ffc000"/>
<polyline points="218.40,727.60 246.35,713.10 262.07,728.76 270.80,729.34 293.51,728.76 323.20,729.34" fill="none" stroke="#43682b" stroke-width="1.3" stroke-linejoin="round"/>
<circle cx="218.40" cy="727.60" r="1.9" fill="#43682b"/>
<circle cx="246.35" cy="713.10" r="1.9" fill="#43682b"/>
<circle cx="262.07" cy="728.76" r="1.9" fill="#43682b"/>
<circle cx="270.80" cy="729.34" r="1.9" fill="#43682b"/>
<circle cx="293.51" cy="728.76" r="1.9" fill="#43682b"/>
<circle cx="323.20" cy="729.34" r="1.9" fill="#43682b"/>
<polyline points="218.40,724.70 246.35,727.60 262.07,727.60 270.80,721.80 276.04,720.06 279.53,717.74 293.51,714.26 323.20,725.86" fill="none" stroke="#7030a0" stroke-width="1.3" stroke-linejoin="round"/>
<circle cx="218.40" cy="724.70" r="1.9" fill="#7030a0"/>
<circle cx="246.35" cy="727.60" r="1.9" fill="#7030a0"/>
<circle cx="262.07" cy="727.60" r="1.9" fill="#7030a0"/>
<circle cx="270.80" cy="721.80" r="1.9" fill="#7030a0"/>
<circle cx="276.04" cy="720.06" r="1.9" fill="#7030a0"/>
<circle cx="279.53" cy="717.74" r="1.9" fill="#7030a0"/>
<circle cx="293.51" cy="714.26" r="1.9" fill="#7030a0"/>
<circle cx="323.20" cy="725.86" r="1.9" fill="#7030a0"/>
<polyline points="218.40,727.60 246.35,728.76 270.80,727.60 277.79,718.90 279.53,681.20 283.03,685.26 286.52,689.90 293.51,724.70 323.20,727.60" fill="none" stroke="#5b9bd5" stroke-width="1.3" stroke-linejoin="round"/>
<circle cx="218.40" cy="727.60" r="1.9" fill="#5b9bd5"/>
<circle cx="246.35" cy="728.76" r="1.9" fill="#5b9bd5"/>
<circle cx="270.80" cy="727.60" r="1.9" fill="#5b9bd5"/>
<circle cx="277.79" cy="718.90" r="1.9" fill="#5b9bd5"/>
<circle cx="279.53" cy="681.20" r="1.9" fill="#5b9bd5"/>
<circle cx="283.03" cy="685.26" r="1.9" fill="#5b9bd5"/>
<circle cx="286.52" cy="689.90" r="1.9" fill="#5b9bd5"/>
<circle cx="293.51" cy="724.70" r="1.9" fill="#5b9bd5"/>
<circle cx="323.20" cy="727.60" r="1.9" fill="#5b9bd5"/>
<polyline points="218.40,697.44 246.35,681.20 262.07,627.26 269.93,678.30 271.67,670.76 274.29,652.20 277.79,642.34 279.53,644.66 293.51,691.64 323.20,674.82" fill="none" stroke="#6aa842" stroke-width="1.3" stroke-linejoin="round"/>
<circle cx="218.40" cy="697.44" r="1.9" fill="#6aa842"/>
<circle cx="246.35" cy="681.20" r="1.9" fill="#6aa842"/>
<circle cx="262.07" cy="627.26" r="1.9" fill="#6aa842"/>
<circle cx="269.93" cy="678.30" r="1.9" fill="#6aa842"/>
<circle cx="271.67" cy="670.76" r="1.9" fill="#6aa842"/>
<circle cx="274.29" cy="652.20" r="1.9" fill="#6aa842"/>
<circle cx="277.79" cy="642.34" r="1.9" fill="#6aa842"/>
<circle cx="279.53" cy="644.66" r="1.9" fill="#6aa842"/>
<circle cx="293.51" cy="691.64" r="1.9" fill="#6aa842"/>
<circle cx="323.20" cy="674.82" r="1.9" fill="#6aa842"/>
<polyline points="391.50,729.98 420.81,729.98 446.45,729.98 472.09,729.98 501.40,729.98" fill="none" stroke="#43682b" stroke-width="1.3" stroke-linejoin="round"/>
<circle cx="391.50" cy="729.98" r="1.9" fill="#43682b"/>
<circle cx="420.81" cy="729.98" r="1.9" fill="#43682b"/>
<circle cx="446.45" cy="729.98" r="1.9" fill="#43682b"/>
<circle cx="472.09" cy="729.98" r="1.9" fill="#43682b"/>
<circle cx="501.40" cy="729.98" r="1.9" fill="#43682b"/>
<polyline points="391.50,727.92 420.81,729.21 446.45,729.21 472.09,724.06 501.40,729.98" fill="none" stroke="#255e91" stroke-width="1.3" stroke-linejoin="round"/>
<circle cx="391.50" cy="727.92" r="1.9" fill="#255e91"/>
<circle cx="420.81" cy="729.21" r="1.9" fill="#255e91"/>
<circle cx="446.45" cy="729.21" r="1.9" fill="#255e91"/>
<circle cx="472.09" cy="724.06" r="1.9" fill="#255e91"/>
<circle cx="501.40" cy="729.98" r="1.9" fill="#255e91"/>
<polyline points="391.50,729.21 437.29,726.63 446.45,727.92 472.09,725.34 501.40,727.92" fill="none" stroke="#ed7d31" stroke-width="1.3" stroke-linejoin="round"/>
<circle cx="391.50" cy="729.21" r="1.9" fill="#ed7d31"/>
<circle cx="437.29" cy="726.63" r="1.9" fill="#ed7d31"/>
<circle cx="446.45" cy="727.92" r="1.9" fill="#ed7d31"/>
<circle cx="472.09" cy="725.34" r="1.9" fill="#ed7d31"/>
<circle cx="501.40" cy="727.92" r="1.9" fill="#ed7d31"/>
<polyline points="391.50,729.21 420.81,725.34 446.45,725.34 472.09,727.92 501.40,729.21" fill="none" stroke="#5b9bd5" stroke-width="1.3" stroke-linejoin="round"/>
<circle cx="391.50" cy="729.21" r="1.9" fill="#5b9bd5"/>
<circle cx="420.81" cy="725.34" r="1.9" fill="#5b9bd5"/>
<circle cx="446.45" cy="725.34" r="1.9" fill="#5b9bd5"/>
<circle cx="472.09" cy="727.92" r="1.9" fill="#5b9bd5"/>
<circle cx="501.40" cy="729.21" r="1.9" fill="#5b9bd5"/>
<polyline points="391.50,727.92 420.81,722.77 446.45,727.92 472.09,722.77 501.40,727.92" fill="none" stroke="#4472c4" stroke-width="1.3" stroke-linejoin="round"/>
<circle cx="391.50" cy="727.92" r="1.9" fill="#4472c4"/>
<circle cx="420.81" cy="722.77" r="1.9" fill="#4472c4"/>
<circle cx="446.45" cy="727.92" r="1.9" fill="#4472c4"/>
<circle cx="472.09" cy="722.77" r="1.9" fill="#4472c4"/>
<circle cx="501.40" cy="727.92" r="1.9" fill="#4472c4"/>
<polyline points="391.50,729.21 446.45,729.21 453.78,711.17 455.61,729.21 501.40,729.21" fill="none" stroke="#7030a0" stroke-width="1.3" stroke-linejoin="round"/>
<circle cx="391.50" cy="729.21" r="1.9" fill="#7030a0"/>
<circle cx="446.45" cy="729.21" r="1.9" fill="#7030a0"/>
<circle cx="453.78" cy="711.17" r="1.9" fill="#7030a0"/>
<circle cx="455.61" cy="729.21" r="1.9" fill="#7030a0"/>
<circle cx="501.40" cy="729.21" r="1.9" fill="#7030a0"/>
<polyline points="391.50,687.97 420.81,729.73 446.45,729.21 448.28,724.06 451.94,707.30 453.78,729.21 459.27,729.21 472.09,672.50 501.40,727.92" fill="none" stroke="#9e480e" stroke-width="1.3" stroke-linejoin="round"/>
<circle cx="391.50" cy="687.97" r="1.9" fill="#9e480e"/>
<circle cx="420.81" cy="729.73" r="1.9" fill="#9e480e"/>
<circle cx="446.45" cy="729.21" r="1.9" fill="#9e480e"/>
<circle cx="448.28" cy="724.06" r="1.9" fill="#9e480e"/>
<circle cx="451.94" cy="707.30" r="1.9" fill="#9e480e"/>
<circle cx="453.78" cy="729.21" r="1.9" fill="#9e480e"/>
<circle cx="459.27" cy="729.21" r="1.9" fill="#9e480e"/>
<circle cx="472.09" cy="672.50" r="1.9" fill="#9e480e"/>
<circle cx="501.40" cy="727.92" r="1.9" fill="#9e480e"/>
<polyline points="391.50,696.99 420.81,664.77 437.29,620.94 445.53,686.68 447.37,680.23 451.94,672.50 455.61,659.61 459.27,667.34 472.09,708.59 501.40,716.32" fill="none" stroke="#6aa842" stroke-width="1.3" stroke-linejoin="round"/>
<circle cx="391.50" cy="696.99" r="1.9" fill="#6aa842"/>
<circle cx="420.81" cy="664.77" r="1.9" fill="#6aa842"/>
<circle cx="437.29" cy="614.50" r="1.9" fill="#6aa842"/>
<circle cx="445.53" cy="686.68" r="1.9" fill="#6aa842"/>
<circle cx="447.37" cy="680.23" r="1.9" fill="#6aa842"/>
<circle cx="451.94" cy="672.50" r="1.9" fill="#6aa842"/>
<circle cx="455.61" cy="659.61" r="1.9" fill="#6aa842"/>
<circle cx="459.27" cy="667.34" r="1.9" fill="#6aa842"/>
<circle cx="472.09" cy="708.59" r="1.9" fill="#6aa842"/>
<circle cx="501.40" cy="716.32" r="1.9" fill="#6aa842"/>
<polyline points="93.85,904.28 123.12,904.28 148.72,904.28 174.33,904.28 203.60,904.28" fill="none" stroke="#43682b" stroke-width="1.3" stroke-linejoin="round"/>
<circle cx="93.85" cy="904.28" r="1.9" fill="#43682b"/>
<circle cx="123.12" cy="904.28" r="1.9" fill="#43682b"/>
<circle cx="148.72" cy="904.28" r="1.9" fill="#43682b"/>
<circle cx="174.33" cy="904.28" r="1.9" fill="#43682b"/>
<circle cx="203.60" cy="904.28" r="1.9" fill="#43682b"/>
<polyline points="93.85,903.51 123.12,903.51 148.72,903.51 174.33,898.34 203.60,903.51" fill="none" stroke="#ed7d31" stroke-width="1.3" stroke-linejoin="round"/>
<circle cx="93.85" cy="903.51" r="1.9" fill="#ed7d31"/>
<circle cx="123.12" cy="903.51" r="1.9" fill="#ed7d31"/>
<circle cx="148.72" cy="903.51" r="1.9" fill="#ed7d31"/>
<circle cx="174.33" cy="898.34" r="1.9" fill="#ed7d31"/>
<circle cx="203.60" cy="903.51" r="1.9" fill="#ed7d31"/>
<polyline points="93.85,899.63 123.12,903.51 148.72,902.22 174.33,894.46 203.60,904.28" fill="none" stroke="#255e91" stroke-width="1.3" stroke-linejoin="round"/>
<circle cx="93.85" cy="899.63" r="1.9" fill="#255e91"/>
<circle cx="123.12" cy="903.51" r="1.9" fill="#255e91"/>
<circle cx="148.72" cy="902.22" r="1.9" fill="#255e91"/>
<circle cx="174.33" cy="894.46" r="1.9" fill="#255e91"/>
<circle cx="203.60" cy="904.28" r="1.9" fill="#255e91"/>
<polyline points="93.85,898.34 123.12,899.63 139.58,899.63 148.72,899.63 161.53,899.63 174.33,903.51 203.60,903.51" fill="none" stroke="#7030a0" stroke-width="1.3" stroke-linejoin="round"/>
<circle cx="93.85" cy="898.34" r="1.9" fill="#7030a0"/>
<circle cx="123.12" cy="899.63" r="1.9" fill="#7030a0"/>
<circle cx="139.58" cy="899.63" r="1.9" fill="#7030a0"/>
<circle cx="148.72" cy="899.63" r="1.9" fill="#7030a0"/>
<circle cx="161.53" cy="899.63" r="1.9" fill="#7030a0"/>
<circle cx="174.33" cy="903.51" r="1.9" fill="#7030a0"/>
<circle cx="203.60" cy="903.51" r="1.9" fill="#7030a0"/>
<polyline points="93.85,898.34 123.12,893.17 139.58,898.34 148.72,888.00 154.21,897.05 157.87,897.05 174.33,895.75 203.60,898.34" fill="none" stroke="#4472c4" stroke-width="1.3" stroke-linejoin="round"/>
<circle cx="93.85" cy="898.34" r="1.9" fill="#4472c4"/>
<circle cx="123.12" cy="893.17" r="1.9" fill="#4472c4"/>
<circle cx="139.58" cy="898.34" r="1.9" fill="#4472c4"/>
<circle cx="148.72" cy="888.00" r="1.9" fill="#4472c4"/>
<circle cx="154.21" cy="897.05" r="1.9" fill="#4472c4"/>
<circle cx="157.87" cy="897.05" r="1.9" fill="#4472c4"/>
<circle cx="174.33" cy="895.75" r="1.9" fill="#4472c4"/>
<circle cx="203.60" cy="898.34" r="1.9" fill="#4472c4"/>
<polyline points="93.85,890.59 123.12,902.22 148.72,903.51 161.53,903.51 174.33,880.25 203.60,898.34" fill="none" stroke="#9e480e" stroke-width="1.3" stroke-linejoin="round"/>
<circle cx="97.51" cy="887.23" r="1.9" fill="#9e480e"/>
<circle cx="123.12" cy="902.22" r="1.9" fill="#9e480e"/>
<circle cx="148.72" cy="903.51" r="1.9" fill="#9e480e"/>
<circle cx="161.53" cy="903.51" r="1.9" fill="#9e480e"/>
<circle cx="174.33" cy="880.25" r="1.9" fill="#9e480e"/>
<circle cx="203.60" cy="898.34" r="1.9" fill="#9e480e"/>
<polyline points="93.85,862.16 123.12,828.56 139.58,794.96 147.81,856.99 149.64,851.82 157.87,813.05 161.53,832.44 174.33,876.37 203.60,881.54" fill="none" stroke="#6aa842" stroke-width="1.3" stroke-linejoin="round"/>
<circle cx="97.51" cy="859.57" r="1.9" fill="#6aa842"/>
<circle cx="130.43" cy="824.68" r="1.9" fill="#6aa842"/>
<circle cx="148.72" cy="789.79" r="1.9" fill="#6aa842"/>
<circle cx="148.18" cy="856.99" r="1.9" fill="#6aa842"/>
<circle cx="149.64" cy="851.82" r="1.9" fill="#6aa842"/>
<circle cx="161.53" cy="832.44" r="1.9" fill="#6aa842"/>
<circle cx="165.19" cy="806.59" r="1.9" fill="#6aa842"/>
<circle cx="170.68" cy="824.68" r="1.9" fill="#6aa842"/>
<circle cx="174.33" cy="877.66" r="1.9" fill="#6aa842"/>
<polyline points="278.30,904.21 306.31,904.21 330.83,904.21 355.34,904.21 383.35,904.21" fill="none" stroke="#43682b" stroke-width="1.3" stroke-linejoin="round"/>
<circle cx="278.30" cy="904.21" r="1.9" fill="#43682b"/>
<circle cx="306.31" cy="904.21" r="1.9" fill="#43682b"/>
<circle cx="330.83" cy="904.21" r="1.9" fill="#43682b"/>
<circle cx="355.34" cy="904.21" r="1.9" fill="#43682b"/>
<circle cx="383.35" cy="904.21" r="1.9" fill="#43682b"/>
<polyline points="278.30,903.44 306.31,903.44 330.83,903.44 355.34,902.66 383.35,903.44" fill="none" stroke="#ed7d31" stroke-width="1.3" stroke-linejoin="round"/>
<circle cx="278.30" cy="903.44" r="1.9" fill="#ed7d31"/>
<circle cx="306.31" cy="903.44" r="1.9" fill="#ed7d31"/>
<circle cx="330.83" cy="903.44" r="1.9" fill="#ed7d31"/>
<circle cx="355.34" cy="902.66" r="1.9" fill="#ed7d31"/>
<circle cx="383.35" cy="903.44" r="1.9" fill="#ed7d31"/>
<polyline points="278.30,903.44 306.31,903.82 330.83,903.82 355.34,903.44 383.35,904.21" fill="none" stroke="#255e91" stroke-width="1.3" stroke-linejoin="round"/>
<circle cx="278.30" cy="903.44" r="1.9" fill="#255e91"/>
<circle cx="306.31" cy="903.82" r="1.9" fill="#255e91"/>
<circle cx="330.83" cy="903.82" r="1.9" fill="#255e91"/>
<circle cx="355.34" cy="903.44" r="1.9" fill="#255e91"/>
<circle cx="383.35" cy="904.21" r="1.9" fill="#255e91"/>
<polyline points="278.30,903.44 306.31,903.82 330.83,903.44 355.34,903.82 383.35,903.82" fill="none" stroke="#7030a0" stroke-width="1.3" stroke-linejoin="round"/>
<circle cx="278.30" cy="903.44" r="1.9" fill="#7030a0"/>
<circle cx="306.31" cy="903.82" r="1.9" fill="#7030a0"/>
<circle cx="330.83" cy="903.44" r="1.9" fill="#7030a0"/>
<circle cx="355.34" cy="903.82" r="1.9" fill="#7030a0"/>
<circle cx="383.35" cy="903.82" r="1.9" fill="#7030a0"/>
<polyline points="278.30,902.66 306.31,902.66 322.07,902.66 330.83,897.62 334.33,896.85 337.83,896.07 341.33,898.78 355.34,902.66 383.35,903.44" fill="none" stroke="#4472c4" stroke-width="1.3" stroke-linejoin="round"/>
<circle cx="278.30" cy="902.66" r="1.9" fill="#4472c4"/>
<circle cx="306.31" cy="902.66" r="1.9" fill="#4472c4"/>
<circle cx="322.07" cy="902.66" r="1.9" fill="#4472c4"/>
<circle cx="330.83" cy="897.62" r="1.9" fill="#4472c4"/>
<circle cx="334.33" cy="896.85" r="1.9" fill="#4472c4"/>
<circle cx="337.83" cy="896.07" r="1.9" fill="#4472c4"/>
<circle cx="341.33" cy="898.78" r="1.9" fill="#4472c4"/>
<circle cx="355.34" cy="902.66" r="1.9" fill="#4472c4"/>
<circle cx="383.35" cy="903.44" r="1.9" fill="#4472c4"/>
<polyline points="278.30,886.38 306.31,903.82 330.83,903.82 343.08,903.82 355.34,884.05 383.35,901.50" fill="none" stroke="#9e480e" stroke-width="1.3" stroke-linejoin="round"/>
<circle cx="278.30" cy="886.38" r="1.9" fill="#9e480e"/>
<circle cx="306.31" cy="903.82" r="1.9" fill="#9e480e"/>
<circle cx="330.83" cy="903.82" r="1.9" fill="#9e480e"/>
<circle cx="343.08" cy="903.82" r="1.9" fill="#9e480e"/>
<circle cx="355.34" cy="884.05" r="1.9" fill="#9e480e"/>
<circle cx="383.35" cy="901.50" r="1.9" fill="#9e480e"/>
<polyline points="278.30,880.56 306.31,861.96 322.07,804.97 329.95,870.49 331.70,867.77 334.33,863.89 337.83,849.94 341.33,858.86 355.34,891.03 383.35,896.85" fill="none" stroke="#6aa842" stroke-width="1.3" stroke-linejoin="round"/>
<circle cx="278.30" cy="880.56" r="1.9" fill="#6aa842"/>
<circle cx="306.31" cy="861.96" r="1.9" fill="#6aa842"/>
<circle cx="322.07" cy="804.97" r="1.9" fill="#6aa842"/>
<circle cx="329.95" cy="870.49" r="1.9" fill="#6aa842"/>
<circle cx="331.70" cy="867.77" r="1.9" fill="#6aa842"/>
<circle cx="334.33" cy="863.89" r="1.9" fill="#6aa842"/>
<circle cx="337.83" cy="849.94" r="1.9" fill="#6aa842"/>
<circle cx="341.33" cy="858.86" r="1.9" fill="#6aa842"/>
<circle cx="355.34" cy="891.03" r="1.9" fill="#6aa842"/>
<circle cx="383.35" cy="896.85" r="1.9" fill="#6aa842"/>
</svg>
</body></html>
